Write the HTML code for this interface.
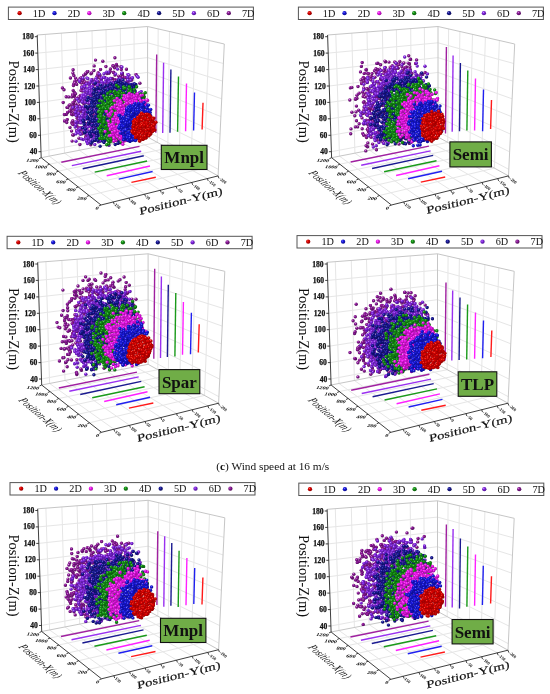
<!DOCTYPE html>
<html><head><meta charset="utf-8"><title>Figure</title>
<style>html,body{margin:0;padding:0;background:#fff}svg{display:block}text{font-family:'Liberation Serif', 'DejaVu Serif', serif;fill:#111}</style>
</head><body>
<svg width="550" height="694" viewBox="0 0 550 694">
<defs>
<radialGradient id="g0" cx="0.38" cy="0.34" r="0.7"><stop offset="0" stop-color="#ff5a40"/><stop offset="0.3" stop-color="#d80000"/><stop offset="1" stop-color="#8c0000"/></radialGradient>
<marker id="m0" markerWidth="4" markerHeight="4" refX="2" refY="2" markerUnits="userSpaceOnUse"><circle cx="2" cy="2" r="1.7" fill="url(#g0)"/></marker>
<radialGradient id="g1" cx="0.38" cy="0.34" r="0.7"><stop offset="0" stop-color="#7a7aff"/><stop offset="0.3" stop-color="#1818e0"/><stop offset="1" stop-color="#0a0a80"/></radialGradient>
<marker id="m1" markerWidth="4" markerHeight="4" refX="2" refY="2" markerUnits="userSpaceOnUse"><circle cx="2" cy="2" r="1.7" fill="url(#g1)"/></marker>
<radialGradient id="g2" cx="0.38" cy="0.34" r="0.7"><stop offset="0" stop-color="#ff8aff"/><stop offset="0.3" stop-color="#ee18ee"/><stop offset="1" stop-color="#900890"/></radialGradient>
<marker id="m2" markerWidth="4" markerHeight="4" refX="2" refY="2" markerUnits="userSpaceOnUse"><circle cx="2" cy="2" r="1.7" fill="url(#g2)"/></marker>
<radialGradient id="g3" cx="0.38" cy="0.34" r="0.7"><stop offset="0" stop-color="#6ad06a"/><stop offset="0.3" stop-color="#149414"/><stop offset="1" stop-color="#085008"/></radialGradient>
<marker id="m3" markerWidth="4" markerHeight="4" refX="2" refY="2" markerUnits="userSpaceOnUse"><circle cx="2" cy="2" r="1.7" fill="url(#g3)"/></marker>
<radialGradient id="g4" cx="0.38" cy="0.34" r="0.7"><stop offset="0" stop-color="#7070d0"/><stop offset="0.3" stop-color="#181896"/><stop offset="1" stop-color="#080850"/></radialGradient>
<marker id="m4" markerWidth="4" markerHeight="4" refX="2" refY="2" markerUnits="userSpaceOnUse"><circle cx="2" cy="2" r="1.7" fill="url(#g4)"/></marker>
<radialGradient id="g5" cx="0.38" cy="0.34" r="0.7"><stop offset="0" stop-color="#caa0ff"/><stop offset="0.3" stop-color="#8628e2"/><stop offset="1" stop-color="#460e88"/></radialGradient>
<marker id="m5" markerWidth="4" markerHeight="4" refX="2" refY="2" markerUnits="userSpaceOnUse"><circle cx="2" cy="2" r="1.7" fill="url(#g5)"/></marker>
<radialGradient id="g6" cx="0.38" cy="0.34" r="0.7"><stop offset="0" stop-color="#d890e2"/><stop offset="0.3" stop-color="#8c1a96"/><stop offset="1" stop-color="#4c0a56"/></radialGradient>
<marker id="m6" markerWidth="4" markerHeight="4" refX="2" refY="2" markerUnits="userSpaceOnUse"><circle cx="2" cy="2" r="1.7" fill="url(#g6)"/></marker>
</defs>
<rect width="550" height="694" fill="#fff"/>
<g transform="translate(0 0)">
<rect x="8.4" y="7.1" width="245" height="12.4" fill="#fff" stroke="#555" stroke-width="1"/>
<circle cx="19.6" cy="13.2" r="2.15" fill="url(#g0)"/>
<text x="32.8" y="16.7" font-size="10.2">1D</text>
<circle cx="54.5" cy="13.2" r="2.15" fill="url(#g1)"/>
<text x="67.7" y="16.7" font-size="10.2">2D</text>
<circle cx="89.3" cy="13.2" r="2.15" fill="url(#g2)"/>
<text x="102.5" y="16.7" font-size="10.2">3D</text>
<circle cx="124.2" cy="13.2" r="2.15" fill="url(#g3)"/>
<text x="137.4" y="16.7" font-size="10.2">4D</text>
<circle cx="159.1" cy="13.2" r="2.15" fill="url(#g4)"/>
<text x="172.3" y="16.7" font-size="10.2">5D</text>
<circle cx="193.9" cy="13.2" r="2.15" fill="url(#g5)"/>
<text x="207.1" y="16.7" font-size="10.2">6D</text>
<circle cx="228.8" cy="13.2" r="2.15" fill="url(#g6)"/>
<text x="242" y="16.7" font-size="10.2">7D</text>
</g>
<g transform="translate(0 0)">
<path d="M45.4 34.4L49.1 156.2M61.4 33.1L64.5 153.2M76.6 32L79.2 150.3M92 30.8L94 147.4M106 29.7L107.5 144.8M120.3 28.6L121.3 142.1M134 27.5L134.5 139.5M37.8 53.1L147.6 42.8M38.3 69.6L147.6 57.6M38.9 86L147.6 72.4M39.4 102.4L147.6 87.2M39.9 118.8L147.6 102M40.5 135.3L147.6 116.8M41 151.7L147.6 131.6M158.2 28.9L157.3 142.4M169.5 31.5L167.8 148.1M182.1 34.4L179.3 154.5M195 37.3L191.2 161M209 40.5L204 168.1M147.6 42.8L223.4 63.5M147.6 57.6L222.6 81.1M147.6 72.4L221.7 98.8M147.6 87.2L220.9 116.5M147.6 102L220.1 134.1M147.6 116.8L219.2 151.8M147.6 131.6L218.4 169.4M49.5 164.2L157.3 142.4M58.3 171.2L167.8 148.1M68.1 179L179.3 154.5M78.2 186.9L191.2 161M89 195.5L204 168.1M113.4 201.9L49.1 156.2M129.1 198L64.5 153.2M144.7 194.1L79.2 150.3M160.4 190.2L94 147.4M176.1 186.3L107.5 144.8M191.8 182.4L121.3 142.1M207.4 178.5L134.5 139.5" stroke="#e6e6e6" stroke-width="1" fill="none"/>
<path d="M37.2 35L147.6 26.5L224.3 44L218.1 175.9M147.6 26.5L147.6 137M41.2 157.7L147.6 137L218.1 175.9" stroke="#c6c6c6" stroke-width="1" fill="none"/>
<path d="M61.3 162.3L139.5 146.4" stroke="#a020a0" stroke-width="1.4"/>
<path d="M71.8 165.6L141.2 151.2" stroke="#9a30f0" stroke-width="1.4"/>
<path d="M82.7 168.8L143.8 155.7" stroke="#1a1a90" stroke-width="1.4"/>
<path d="M94.7 172.1L147.1 161" stroke="#1a9a1a" stroke-width="1.4"/>
<path d="M106.7 175.8L150 166" stroke="#ff20ff" stroke-width="1.4"/>
<path d="M118.7 179.1L152.6 171.5" stroke="#2020f0" stroke-width="1.4"/>
<path d="M131.4 182.4L155.8 177.3" stroke="#ff1a1a" stroke-width="1.4"/>
<path d="M156.7 54.5L155.8 132.7" stroke="#a020a0" stroke-width="1.4"/>
<path d="M163.6 62.7L162.7 133" stroke="#9a30f0" stroke-width="1.4"/>
<path d="M170.9 69.5L170 132.7" stroke="#1a1a90" stroke-width="1.4"/>
<path d="M178.5 76.4L177.6 131.8" stroke="#1a9a1a" stroke-width="1.4"/>
<path d="M186.5 83.6L185.6 131.3" stroke="#ff20ff" stroke-width="1.4"/>
<path d="M194.5 92.4L193.6 130.5" stroke="#2020f0" stroke-width="1.4"/>
<path d="M203 102.7L202.1 129.6" stroke="#ff1a1a" stroke-width="1.4"/>
<polyline points="67,107.4 113.7,72.1 74.6,109.4 110.2,71.4 98.5,81.7 76.8,125.9 114.5,79.5 74.8,81.5 72.5,114.7 85.8,123.8 81.5,89.6 79.8,106.4 78.4,98.1 73.7,83.9 126.4,69.2 81,90.6 67.5,112.4 92.1,79.8 77.2,118.2 85.8,92.1 91,95.3 71.5,114.3 79,112.4 73.8,75.6 114.6,67.8 66.2,96.8 114.6,81 94.2,65.9 90.9,73.7 72.9,73 89,120.8 71.8,122.8 72.3,124.1 93.7,85 64.5,121 139.9,83.3 81.8,86.7 128,81.5 73.4,135 64,89.8 121,77.2 74.4,114.3 75.9,83.4 99.1,85.1 114.9,75.1 63.2,102.5 80,78.6 68.7,96.9 117.1,66.1 83.7,75.2 75,83 67.3,119.6 126,82.3 89.2,84.6 82.3,133.7 84.3,83.1 76.1,110 70.4,78 85.6,74.1 80.3,82.2 72.4,122 86.1,134.7 127.3,79 81.5,127.5 100,75.5 66.3,114.4 90.9,96.7 83.3,79.4 98.2,72.8 106.7,86.9 69.2,105.3 72.7,134.9 122.4,73.3 107.1,73.5 80.5,95.4 84.6,113.8 71.2,111.5 66.7,122.5 99.1,77.2 72.8,120.8 83.7,103.4 72.6,106.9 93.4,83.4 105.9,66.6 97.7,74.4 112.3,78.6 94.7,114.9 96.9,77 79.9,144.5 119.6,77.8 87.1,72 114.9,57.7 112.8,65.8 120.8,66.7 85.4,102.8 74.9,100.5 111.8,78.7 85.8,73.2 76.6,130.6 64.4,114.5 113.5,72.6 75.6,78.3 95.5,128 116.4,64.4 78.6,120.9 83.8,131.4 85.1,111.2 109,73.3 113.9,95.4 122.6,75.7 118.7,76.2 74.5,96.5 74.5,92.4 72.1,141.1 106.5,83.7 71.8,96.9 89.3,103.3 82.1,111.7 95.5,60.1 94.2,80.3 90.8,144.8 93.9,70.5 74.5,94.7 76.9,116.1 117.8,79.6 73.2,90.4 81.5,100.5 85.6,137 73.6,106.7 67.8,107.4 76,98.5 79,138.2 130.2,78.1 78.7,105 73.1,105.1 75.8,103.9 82.5,91 101.2,79.4 69.5,111 80.3,110.6 83.7,88.8 79.1,100.7 77.3,122.9 71.6,131.1 86.8,135.6 81.5,83.1 121.3,69.6 73.3,103.2 91.6,72.9 136,74.5 78.8,97 82.3,107.2 131.8,80 71.4,108.8 92,108.1 82.6,80.6 70,127.4 78.5,127.6 73.3,124.6 77.1,113 76.6,84.4 121.8,74.2 74.1,111.7 84.5,101 83.5,112.6 82.5,110.4 72.8,94.3 76.8,80.1 75.5,93.7 100.5,69.5 97.2,76.6 89.1,131.2 87.8,71.5 73.1,102.5 72.8,95.5 113.4,66 73.1,69.7 70.2,104.9 102.8,61.3 87.6,123.7 88.2,103 88.6,82.1 107.8,116.4 79.3,107.1 122.9,77.3 81,130.1 73.4,85.6 104.9,77.4 74.7,123.5 125.3,77.5 93.2,115 62.4,87.9 99.7,77.7 81.1,77.8 95.5,88.6 85.2,82 110.4,68.9" fill="none" stroke="none" marker-start="url(#m6)" marker-mid="url(#m6)" marker-end="url(#m6)"/>
<polyline points="108.3,84.5 86.7,125.3 115.6,74 91.7,80.4 98.8,84.7 108.4,72.3 118.5,79.5 117.2,81.3 103.2,77.3 99.5,141.4 88.9,137.4 107.5,133.7 82.9,100 83.7,107.7 137.1,76.2 111.9,82.3 93,136.6 81.9,102.1 104.1,77.5 111.9,83.2 97,89.1 84.3,106.8 80.1,122.8 88.5,93.9 95.1,135.2 104,73.7 105.6,111.8 77.3,99.1 76.9,131.3 83.8,130.3 76.8,110.1 86.4,133.9 77.1,109.6 86.5,84 117.4,69.1 84.3,116.9 109.8,85.2 99.5,74.1 93.7,82.9 97.9,84.1 91.8,94.4 92.1,86.6 85.4,130.2 79.7,132.8 86.8,77.9 97.9,129.3 83.2,116.8 81.8,118.2 89.9,100.9 87.1,92.7 85.7,98.4 76.1,115.6 91.7,91.3 99.9,124.6 104.2,132.8 96.1,78.3 96.9,85.2 94,133.7 89.3,86.8 91.8,92.1 89.4,89.3 108.9,145.2 86.6,141.2 90.2,88.8 93.1,123.8 113.8,89.2 76.9,122.6 75.2,127 88.4,139 99.6,90.7 98.6,91.5 95.9,80.2 89.2,141.8 98,84.9 83.3,139.6 94.8,144.6 75.9,121.7 110.9,93.1 88.4,136.3 129.3,84 88,138.2 79.1,118.7 84.1,110.2 95.6,90.6 96.9,131.6 82.5,95 90.5,135.2 90.7,99.7 81.9,87.5 86.5,128.5 79.7,116 101.4,81.8 132.4,77.8 84.2,126.8 78.1,131.7 86.8,108.3 89.4,108.8 108.5,82 83,113.9 128.2,84.8 132.2,84.1 84.4,85.6 83.4,111.9 82.3,101.8 97.4,80.9 107.7,88.9 97.4,85.4 89.8,83.5 139.5,92.8 89.8,91.4 79.9,80.1 101.8,85.9 84.2,90.8 79.5,81.4 110.5,78.4 82,96.4 93.2,138.1 141.2,91.6 103.7,116.4 82.9,78.1 92.7,127 114.1,83.4 93.8,92.5 106.3,80.3 121.9,67 91.5,128 102.3,98.9 86.3,88.1 127.9,74.5 90.7,97.9 80.1,107 78.8,129.6 84.2,94.2 102.8,83.4 85.1,125.4 125.2,82.7 125.8,83.3 94.6,125.1 75.4,112.2 138.1,77.3 93.7,111.7 92.5,117.9 91.8,93.6 135,90.8 80.1,128.7 80.9,120 87.3,90.9 87.1,130.5 91.2,101.3 104.5,89.2 108.8,85.6 110.7,78.8 81.4,118.8 84.7,86.7 107.1,86.4 85.7,95.3 90.8,140 86.8,110.3 81.4,138.9 102.2,82.2 102.7,88.7 98.1,94.6 89.7,125.2 90.8,123.6 92.9,109.9 93.4,106.8 90.2,82.2 121.8,80 86.6,113.9 127.4,89.5 106,79.7 83.1,108.9 135.3,92.5 108,79.7 72.9,107.5 89.3,118.3 75.8,133.9 109.7,94.9 84.7,98.4 90.5,131.3 100.4,140.5 98.4,141.9 81.2,98.6 127.6,77.4 96.8,114.4 120.1,78.6 78.5,132.8 130.4,80.2 78.6,113.4 88.2,126.9 87.5,143.6 101.6,78.3 109.3,81.8 92.4,86.7 109.1,86.7 86.4,115.8 91,126.8 129,75.1 103.8,86.4 101.1,115.5 100.2,96 87.7,102.7 99.9,137.4 75.7,125.1 99.4,97.8 91.9,87.7 87.1,113.3 85.3,102.4 92.3,134.5 76.8,106.6 96.4,109.3 92.7,133.7 95.1,103.4 80.5,134.3 90.7,115.3 116,90.2 80.5,109.3 102,84.4 86.4,138.4 87.8,78.6 90,102.9 90.3,93.4 136.7,100 87.5,134 106.4,72.1 82.1,115.8 105.2,82.2 83.9,96.8 85.6,119.3 97.3,113.6 99.1,92.4 76,141.2 96.8,118.6 114.1,90.4 106.9,78.5 94.7,110.6 121.7,73.1 81.2,122.8 93.4,121.7 78.8,101.5 87,116.4 127.9,80.1 95,82.4 91.3,79.9" fill="none" stroke="none" marker-start="url(#m5)" marker-mid="url(#m5)" marker-end="url(#m5)"/>
<polyline points="88.1,97.5 95.3,116.4 91.2,143.2 96.2,95.2 94.8,124.1 115.1,95.6 92.7,100.6 98,135.3 112.7,85.3 124.8,89.6 89.2,123.2 95,124 110.7,88.8 94.4,119.6 83.2,120.3 102.4,97.4 88.8,112.1 90.7,98.7 102.4,93.8 134.6,85.5 116.7,82.1 93.8,129 98,133.9 133.4,87.4 97.8,101.6 115.1,94.2 95.2,140.4 94.8,89.7 93.4,101.3 127.8,91.8 123.8,83.2 95.6,95.3 96.4,132.3 95.3,83.2 84,122.3 89.2,132.3 122.4,83.8 130.9,84.6 125.1,85.8 131.5,86.4 100.1,103.1 100.3,93.4 96.6,133.8 91.7,121 96.9,91.9 134.1,84 104.7,100.7 91.3,136.5 91.9,130.5 111.1,89.3 92.4,98.8 91.6,116.1 98.2,130.9 122.4,90.8 91.7,131.9 118.2,141.1 104.4,124.6 118.9,80.3 111.7,91.2 102.5,141 125.3,83.7 97.1,136.3 96.3,97.2 88.5,118.5 115.4,82.7 100.7,85.1 82.7,127.9 103.6,113.1 88.3,124 87.6,108.4 98.6,99.9 104,142.4 120.8,82.6 93.3,93.3 104.7,90.6 100.9,104.8 132.5,92.1 117.4,91.9 108.2,117.8 130.2,85.8 92.7,141.2 109.5,119 107.9,85.5 95.3,121.1 87.9,107.5 118.6,88.6 103.2,101 85.4,129.1 94.7,102.7 93.9,100.2 93.8,88.9 87.6,112.1 97.2,113.4 91.9,109.7 95.7,111.2 88.7,122 96,107.8 87.5,116.7 126.9,85.3 98.6,138.1 94,92.6 103.5,134.2 108,89 102.9,120.8 131.4,93.9 95.1,139.9 96.4,112.3 102.9,90 90.1,134.3 113.4,86.7 111.6,138.3 106.7,122.6 90,112.2 83.3,121 120.2,142.7 84.6,132.8 135.8,84.5 97.7,123.5 131.4,87.9 112.6,117.1 104.9,137.3 95,98.2 109.8,96.3 110.8,83.7 110,90.1 110.7,90.5 99.1,104.2 98.5,88.4 103.7,90.9 84.2,124.5 112.3,87.9 125.2,83.1 96.7,137.9 122.8,99.5 97.6,104.4 91.9,125.5 112.9,92.7 98.7,125.2 141.4,98.4 125.8,93.1 98.3,108.1 103.8,108.9 127.3,84.6 112.6,88.6 103.5,93.5 131.5,89.7 105.3,140.2 97.4,100.1 105.7,93.9 92.3,112.8 97.2,112.7 118.5,84 116.1,93.9 97.2,87.9 116.6,87.9 115.1,86.5 127.1,86.3 98.6,96.5 106.2,126.1 85.8,106.5 134.6,84 97.1,127.7 121.4,85.3 94.4,132.2 134.8,90.9 117.9,143.4 87.2,118.4 101.5,136.1 123.1,79.9 92.8,119.3 120.4,85.5 97.9,97.5 101.5,92.1 107.8,90.1 94.3,106.1 98.9,106.4 105.9,119.3 121.3,86.5 103.9,87.1 104.9,140 94,95.9 116.4,87 102.6,128.4 99.5,131.3 119.5,90 106,92.4 105,86 95.7,125.7 91,105.9 121.1,88.9 91.5,102.6 100.9,88.6 107.8,95.3 96.9,105.1 88.8,106.4 105,102 110.5,91.3 85.1,132.2 134.3,92.7 123.9,92.6 95.2,99.8 120.3,90.8 108.2,90.1 85.6,106.3 87.2,100.3 99.4,93.9 92.1,104.8 106.4,114.9 90.4,114 97.4,120.4 115.2,144.6 118.7,81.4 106.8,96.1 119.3,98.1 90.7,119.6 115.6,83 97.9,140.5 92.5,106.2 105.5,114.2 120.1,95.7 92.7,121.2 100.1,146.3 102.5,133.7" fill="none" stroke="none" marker-start="url(#m4)" marker-mid="url(#m4)" marker-end="url(#m4)"/>
<polyline points="118.5,86.9 108.5,116.3 143.7,98.5 101.3,121.6 99.8,138.4 101.3,107.6 101.3,113.8 110.3,111.7 106.7,144.7 115.6,102.1 114,110 119.6,91.1 102.6,124 122.1,96.4 100.5,127.6 121.7,101.7 108.8,103.7 114.6,91.3 103.8,130.2 100.8,121.2 102.7,111.8 99.6,100.8 106,135.8 103,102.5 107.6,101.4 101.3,118.5 108,135.8 102.6,126.4 123.7,93.3 110,133.3 98.8,121.6 108.2,93.1 112.4,102.8 144.1,96.9 108.2,99.2 113.4,99.2 115.9,95.8 105,127.3 101.9,138.8 114.4,103.9 102.5,131.9 106.1,127.4 107.6,139.8 110.4,98.9 108.6,144 102.3,101.1 109.9,102.3 112.5,110.2 113.4,141.1 115.7,124.5 107,128.4 129,86.8 98.5,116.6 123.4,87 117.2,139.3 121.8,93.1 123.9,102.9 130.8,89.7 112.1,136.1 110.3,141.7 110.8,122.7 116.1,106 128.5,91.6 114.3,98.4 100.1,127.2 98.7,128.5 99.8,105.6 106.8,123.6 134.3,89.6 110.2,138.8 108.8,131.9 102.8,122.5 124.9,105.8 107.8,110.7 112.6,111.3 101.3,111 98.8,116 139.4,99.8 97.9,106 114.9,93.4 107.1,113.6 107.6,123.4 103.3,138.4 100.9,125.4 109.2,99 110,117.4 110.5,91.6 143.8,96.3 106.3,132.2 123.9,88.5 102.2,109.4 145.3,92.8 111.2,130.8 117.5,100.2 118.7,135.3 120.4,91.1 122.3,97.9 101.7,105.1 100.7,117.3 101.6,135.2 135.3,94.2 116.5,85.3 104.6,138.3 100.5,120.9 99.4,116.8 104.9,130.8 118.5,95.7 103.7,95.8 129.9,91.7 107.8,107.6 108.2,128.5 109.8,97 116.5,136.9 108.6,141.3 129,89.6 100.9,108.8 111.1,117.5 140.8,94.1 104.5,103.8 107.2,113 117.6,92.6 102.2,111.6 99.9,119.6 108.5,103.2 122.6,103 107.5,122.7 100,108.8 113.4,105.5 110.4,106.4 134.8,92.8 125.3,88 112,104.1 107.9,132.7 104.3,118.8 100.8,114.3 111,110.2 111.2,101.6 140.1,100.4 120.9,99.5 98.9,105.8 104.7,105.8 109,128.8 111.4,107.4 107.1,97.1 102.7,108.4 129.4,86.9 109.1,121.1 105.2,107.5 109.8,120.2 100.6,131 100.9,132.9 109.9,128.3 104.1,121.6 105,104.7 107.5,93.8 136.6,86.8 142,96.2 108.6,106.5 106.3,126.3 104.6,116.9 107.1,130.7 104.1,122.5 108.9,108.5 101.2,116.6 114.1,112.6 98.4,112 116,111.6 106.6,131 112.7,114.6 106.1,131.1 100.3,131.9 105,98.5 114,91.8 143.4,94.1 111.2,139.4 118.9,93.5 107.1,110.6 141.1,94.6 105.8,108.9 101.9,136.8 106.1,104 108.2,136.9 111.8,96.4 130.9,91.6 144.8,107.5 111.5,130.6 121.1,142.1 111.4,123.6" fill="none" stroke="none" marker-start="url(#m3)" marker-mid="url(#m3)" marker-end="url(#m3)"/>
<polyline points="138,96.2 143.3,100.5 118.2,99.9 113.5,136.4 147.6,100.6 133.1,101.8 116.3,118.4 146.9,100 133.1,94.9 106.6,111.6 109,123.9 115.8,134.7 114.5,122.6 115.2,108.2 117.2,129.8 117.8,122.3 127,107.7 109.4,135.8 110.3,113.3 116,140.4 136.8,94.1 142.4,101.7 123.5,98.3 117.7,121.2 124.6,99.4 124.3,95.5 113.6,124.9 114.3,138.9 119.8,102.8 119.3,138.8 143.9,100.4 135.7,101.8 124.5,140.9 126.1,96.4 126.6,100 111.1,135.3 112.8,129.1 128.4,105.6 120.5,139.1 113.6,120.7 119.9,109.1 133.1,98 128.4,95.4 113.4,121.8 111.1,125.3 112.6,123.9 126.2,97.6 126.5,101 128,96.4 145,105.9 113.9,141.2 113.5,134.3 121.4,111.1 114.3,100.7 112.6,119.3 123.8,114.2 134.6,98.6 139.4,98.9 131.4,97.9 134.3,96.3 119.4,138.6 122.4,116.6 136.2,98.5 116.9,108.3 109.2,126 119.7,134.3 116.9,126.3 110.1,114.9 117.1,98.4 132.2,100.9 109,116.1 131.3,94.7 110.8,128.2 122.1,110 114.7,116.7 115.1,105.1 117,104.7 113.3,119.3 111.8,111.5 124.1,107.6 122.3,108.8 142.5,95.1 117.2,136.5 124.8,134.4 125.5,115.2 126.8,100.8 121.2,106.4 129.8,98.4 130.7,103.9 127.9,102.9 114.3,107.5 123.6,105.5 140.9,95.4 125.1,104 140.6,101.1 130.3,100.8 117.9,111.8 116.6,131.6 125.2,108.7 113.9,138.3 120.2,100.5 127.3,99.7 123,141.5 112.2,107.1 117.5,136.9 115.5,113.3 108,114.7 145.4,103.4 136.8,95.7 117.9,109.2 127.3,140.6 122.5,112.4 127.2,103.2 129.5,98.1 120.3,138 145.4,111.3 105.1,131.4 121.3,102.5 114.3,132.7 118.4,118.6 121.5,138.5 110.2,129.4 116.4,119.2 108.3,121.1 112.1,127.3 140.6,100.7 129.8,105.9 123.1,139 136.5,101.6 112.5,124.3 115.3,128.4 119.5,105.9 143.1,105.5 118,130.5 146.5,108.1 129.4,93.4 129.6,96.9 137.6,93.9 118.1,112.9 121.6,135.2 128.2,96.9 125,110.9 117.9,108.2 118.5,110.8 116.2,114.9 122.4,137.4 119.2,109.5 118,133.7 118.8,120 118.4,116.1 120.5,113.2 112.3,132.1 110.8,108.7 122.5,136.5 119.9,114.3 120.4,132.4 122.8,144.3 117.3,101.9 120.5,103.7 118.3,125.8 120.8,106.1 118.2,122.7 120.7,121.9 132.5,102.7 114.2,126.6 115.1,131.3" fill="none" stroke="none" marker-start="url(#m2)" marker-mid="url(#m2)" marker-end="url(#m2)"/>
<polyline points="139.2,104.7 126.6,109.9 126.2,135.1 126,139.2 147.9,109.4 138.6,103.4 130.3,105.7 134,140 120.5,118.4 132.1,117.6 121.7,117 124,132.3 131.8,137.2 141.6,104.1 135.4,138 126.4,112.3 126.9,113.4 119.5,115.3 130.4,116.9 140.9,106.3 130.5,120.8 127.4,132.7 131.4,107.8 123.7,135.6 125.6,138.4 126.9,108.2 143.9,106.8 130.3,125.8 128.2,135.5 121.1,123.8 129.3,120.7 127,110.5 132.8,107 122.2,133.4 128.9,129.1 134.2,106 119.1,128.3 133.6,115.6 122.9,124.7 124.6,135 131.6,116.2 130.6,123.1 124.2,136.6 150.2,112.6 138.8,107.8 127.6,113.3 135,118.2 141.2,106.5 131.6,110.3 137.6,138.6 129.9,141.4 128.4,107 130,116.7 127.8,115.6 135,103.4 131.8,136.2 136.4,116 144.1,102.5 128.4,132.3 126,128.8 144.1,112.3 128.4,136.3 142.8,105.7 128.6,107.9 146,107.6 142.8,107.2 130.1,109.6 121.1,129.6 137.3,105.8 133.9,109.5 141,108.8 123.5,118.8 130.9,131.3 150.6,115.4 139.1,111.4 130.8,128.8 123.1,122.1 129.1,140.2 131.7,135.3 147.7,105.3 138.3,138.2 130.5,126.7 134.7,108 124.6,118.8 143.5,110.2 127.5,128.4 127.5,137.2 146.9,107.6 138.2,114 132.5,126.6 146,112.1 135.3,113.8 118.9,115.6 123.1,127.8 126.6,126.5 121.4,121.1 120.4,133.1 130,128 127,109.2 124,120.9 119.7,125.8 150.7,109.4 128.5,126.3 148.6,105.1 121.7,127.7 135.5,140.6 127.7,140.2 125.7,114.3 142.4,105 129.3,122 131.8,140.3 131.2,114.8 124.1,130.2 130,136.1 123.7,134.6 130,111.6 127.7,125.5 136.5,105.8 136.7,117.1 125.9,137.4 126.6,119.7 131.3,128.8 142.1,109.9 137,114 129,116.1 133.6,135.4 137.8,108 148.5,112.6 133.6,114.5 136.3,112.9 127.3,121.7 127.8,118.1 126.6,125.8 134.3,112.8 136.2,110.3 126.4,138 129.4,111.9 142.3,105.7 127.1,137.6 133.3,114.1 123.3,132.8 133.3,112.7 130.6,133.9 135.8,107 126.9,120.3 129,118.4 146.5,111.4 138.1,110.1 129.3,110.6 129.7,137.9 127.6,124.9 132.1,139.9 132.6,120 125.6,124.4 124.9,130.5 119.1,127.5 122.4,125.7 123.6,139.7 130.4,122.8 124.2,117 133.4,111.8 128,123.5 123,131.6 133.5,119.1 126.1,130.2 147.7,111.1 129.8,122.4 125.7,122.9 133.4,136.9 134.1,136.8 123.6,126.4 128.8,113.7 124.2,137.5 133.7,105.1" fill="none" stroke="none" marker-start="url(#m1)" marker-mid="url(#m1)" marker-end="url(#m1)"/>
<polyline points="142.6,139.4 139.9,118.3 132,130.7 133.6,124.8 133,127.2 139.1,138.9 153.9,118.1 143.8,122.3 141.4,113.1 137.6,117.4 132.2,132 143.1,130.2 145.6,122.7 153.5,121.9 139,122.4 140,140.8 138.8,121.3 149.7,128.3 143.2,114.1 152.6,121 134.1,131.5 151.2,129.6 142.3,114.7 134.6,119.7 142.3,118.5 150.9,133 141.7,115.1 139.4,141 146.3,137.7 135.4,136.2 146.5,121.6 150.5,125 151.5,121.7 138.5,124.7 149.4,114.9 137.8,118.1 144.9,128.8 146.1,116.6 139.8,138.2 133.2,126.1 154.9,129.9 152,130.8 146.4,135.9 152.4,131.6 150.1,131.9 153.7,127.6 154.1,124.2 143.8,132.3 134.8,119.8 152.3,120.7 149.8,124 142.6,127.1 134.2,130.5 143.5,138.9 142.1,122.1 149.5,115.6 146.7,134.9 137.3,131.8 140.9,120 150.4,116.6 135.5,137.6 149.3,129.1 150.1,130.6 133.5,128.1 141.9,123.2 133.3,121.4 143.2,138.8 150.8,116.9 147.6,114.7 138.1,119.3 146.4,133.3 134,127.2 145.9,114.1 139.5,130.5 138.1,133.7 147.9,132.1 153.6,126.3 150.5,134.2 154.3,130.3 138.4,137.4 140.2,129.6 146.5,122.9 142.5,131.2 133.7,133.4 143.7,118 152.7,118.2 145.3,127 148.8,130.8 147.3,121.8 153.1,124.8 145.4,138 145.7,134.7 150.7,119.6 144.9,119.4 144.5,116.9 134.4,126.2 141.3,130.4 147.3,125.3 138.3,136.5 139.1,128.3 155.9,122.3 134.1,129.3 151.4,118.6 147.6,127.4 135.6,120.8 141.1,124.5 135.7,134.1 143.2,136.7 140.2,116.6 153,119.4 148.3,122.4 144.8,116 134.6,122.7 148.2,129 139.3,132.9 139.9,115.1 137.5,122.3 136.2,129.9 151.9,126.4 136.9,124.1 154,124.7 140.8,127.9 146.9,123.6 142.9,123.6 145.6,118.5 148.4,119.2 137.7,126 147.8,120 141.8,125.1 147.5,114.3 146.3,124.8 150.1,119.8 149.3,130.2 136,129.5 143.6,114.6 140.9,128.4 144.5,126.6 138.2,117.1 149,129.4 134.3,132.9 140.5,136.3 136.5,136.3 141.9,120.1 145,134.1 134.7,132.1 145,136.3 144.5,125.3 133.9,125.5 149,135.7 148.4,119.9 141,138.8 153.4,128.3 136.6,124 149.7,133.6 146.1,130.2 140.8,131.3 148,126.5 138.1,135.1 134.1,123.4 136.6,127.4 139.5,133 143.2,132.9 149.3,116.7 140.5,126.4 142.3,133.9 134.1,123.5 137.3,121.7" fill="none" stroke="none" marker-start="url(#m0)" marker-mid="url(#m0)" marker-end="url(#m0)"/>
<path d="M37.2 35L41.2 157.7L101 205L218.1 175.9M37.3 36.7l-2.5 0M37.8 53.1l-2.5 0M38.3 69.6l-2.5 0M38.9 86l-2.5 0M39.4 102.4l-2.5 0M39.9 118.8l-2.5 0M40.5 135.3l-2.5 0M41 151.7l-2.5 0M41.2 157.7l-2.2 1M49.5 164.2l-2.2 1M58.3 171.2l-2.2 1M68.1 179l-2.2 1M78.2 186.9l-2.2 1M89 195.5l-2.2 1M101 205l-2.2 1M113.4 201.9l0.8 2.4M129.1 198l0.8 2.4M144.7 194.1l0.8 2.4M160.4 190.2l0.8 2.4M176.1 186.3l0.8 2.4M191.8 182.4l0.8 2.4M207.4 178.5l0.8 2.4M218.1 175.9l0.8 2.4" stroke="#2a2a2a" stroke-width="0.9" fill="none"/>
<text x="33.7" y="39.3" font-size="7.6" font-weight="bold" text-anchor="end" stroke="#111" stroke-width="0.25">180</text>
<text x="34.2" y="55.7" font-size="7.6" font-weight="bold" text-anchor="end" stroke="#111" stroke-width="0.25">160</text>
<text x="34.7" y="72.2" font-size="7.6" font-weight="bold" text-anchor="end" stroke="#111" stroke-width="0.25">140</text>
<text x="35.3" y="88.6" font-size="7.6" font-weight="bold" text-anchor="end" stroke="#111" stroke-width="0.25">120</text>
<text x="35.8" y="105" font-size="7.6" font-weight="bold" text-anchor="end" stroke="#111" stroke-width="0.25">100</text>
<text x="36.3" y="121.4" font-size="7.6" font-weight="bold" text-anchor="end" stroke="#111" stroke-width="0.25">80</text>
<text x="36.9" y="137.9" font-size="7.6" font-weight="bold" text-anchor="end" stroke="#111" stroke-width="0.25">60</text>
<text x="37.4" y="154.3" font-size="7.6" font-weight="bold" text-anchor="end" stroke="#111" stroke-width="0.25">40</text>
<text transform="translate(38.2 162.3) rotate(4) skewX(-20) scale(1 0.72)" font-size="6.2" font-weight="bold" text-anchor="end">1200</text>
<text transform="translate(46.5 168.8) rotate(4) skewX(-20) scale(1 0.72)" font-size="6.2" font-weight="bold" text-anchor="end">1000</text>
<text transform="translate(55.3 175.8) rotate(4) skewX(-20) scale(1 0.72)" font-size="6.2" font-weight="bold" text-anchor="end">800</text>
<text transform="translate(65.1 183.6) rotate(4) skewX(-20) scale(1 0.72)" font-size="6.2" font-weight="bold" text-anchor="end">600</text>
<text transform="translate(75.2 191.5) rotate(4) skewX(-20) scale(1 0.72)" font-size="6.2" font-weight="bold" text-anchor="end">400</text>
<text transform="translate(86 200.1) rotate(4) skewX(-20) scale(1 0.72)" font-size="6.2" font-weight="bold" text-anchor="end">200</text>
<text transform="translate(98 209.6) rotate(4) skewX(-20) scale(1 0.72)" font-size="6.2" font-weight="bold" text-anchor="end">0</text>
<text transform="translate(114.2 205.3) rotate(38)" font-size="4.3" font-weight="bold">150</text>
<text transform="translate(129.9 201.4) rotate(38)" font-size="4.3" font-weight="bold">100</text>
<text transform="translate(145.5 197.5) rotate(38)" font-size="4.3" font-weight="bold">50</text>
<text transform="translate(161.2 193.6) rotate(38)" font-size="4.3" font-weight="bold">0</text>
<text transform="translate(176.9 189.7) rotate(38)" font-size="4.3" font-weight="bold">-50</text>
<text transform="translate(192.6 185.8) rotate(38)" font-size="4.3" font-weight="bold">-100</text>
<text transform="translate(208.2 181.9) rotate(38)" font-size="4.3" font-weight="bold">-150</text>
<text transform="translate(218.9 179.3) rotate(38)" font-size="4.3" font-weight="bold">-200</text>
<text transform="translate(8.8 60.6) rotate(90)" font-size="14.5">Position-Z(m)</text>
<text transform="translate(17.6 173.2) rotate(40) skewX(-24) scale(0.81 1)" font-size="10.8" font-style="italic">Position-X(m)</text>
<text transform="translate(139.8 215) rotate(-14) skewX(-8) scale(1.4 1)" font-size="10.6" stroke="#111" stroke-width="0.15">Position-Y(m)</text>
<rect x="161.3" y="145.3" width="45.7" height="24.2" fill="#70ad47" stroke="#111" stroke-width="1.1"/>
<text x="184.2" y="163.3" font-size="17" font-weight="bold" text-anchor="middle">Mnpl</text>
</g>
<g transform="translate(290 0)">
<rect x="8.4" y="7.1" width="245" height="12.4" fill="#fff" stroke="#555" stroke-width="1"/>
<circle cx="19.6" cy="13.2" r="2.15" fill="url(#g0)"/>
<text x="32.8" y="16.7" font-size="10.2">1D</text>
<circle cx="54.5" cy="13.2" r="2.15" fill="url(#g1)"/>
<text x="67.7" y="16.7" font-size="10.2">2D</text>
<circle cx="89.3" cy="13.2" r="2.15" fill="url(#g2)"/>
<text x="102.5" y="16.7" font-size="10.2">3D</text>
<circle cx="124.2" cy="13.2" r="2.15" fill="url(#g3)"/>
<text x="137.4" y="16.7" font-size="10.2">4D</text>
<circle cx="159.1" cy="13.2" r="2.15" fill="url(#g4)"/>
<text x="172.3" y="16.7" font-size="10.2">5D</text>
<circle cx="193.9" cy="13.2" r="2.15" fill="url(#g5)"/>
<text x="207.1" y="16.7" font-size="10.2">6D</text>
<circle cx="228.8" cy="13.2" r="2.15" fill="url(#g6)"/>
<text x="242" y="16.7" font-size="10.2">7D</text>
</g>
<g transform="translate(290.4 0)">
<path d="M45.4 34.4L49.1 156.2M61.4 33.1L64.5 153.2M76.6 32L79.2 150.3M92 30.8L94 147.4M106 29.7L107.5 144.8M120.3 28.6L121.3 142.1M134 27.5L134.5 139.5M37.8 53.1L147.6 42.8M38.3 69.6L147.6 57.6M38.9 86L147.6 72.4M39.4 102.4L147.6 87.2M39.9 118.8L147.6 102M40.5 135.3L147.6 116.8M41 151.7L147.6 131.6M158.2 28.9L157.3 142.4M169.5 31.5L167.8 148.1M182.1 34.4L179.3 154.5M195 37.3L191.2 161M209 40.5L204 168.1M147.6 42.8L223.4 63.5M147.6 57.6L222.6 81.1M147.6 72.4L221.7 98.8M147.6 87.2L220.9 116.5M147.6 102L220.1 134.1M147.6 116.8L219.2 151.8M147.6 131.6L218.4 169.4M49.5 164.2L157.3 142.4M58.3 171.2L167.8 148.1M68.1 179L179.3 154.5M78.2 186.9L191.2 161M89 195.5L204 168.1M113.4 201.9L49.1 156.2M129.1 198L64.5 153.2M144.7 194.1L79.2 150.3M160.4 190.2L94 147.4M176.1 186.3L107.5 144.8M191.8 182.4L121.3 142.1M207.4 178.5L134.5 139.5" stroke="#e6e6e6" stroke-width="1" fill="none"/>
<path d="M37.2 35L147.6 26.5L224.3 44L218.1 175.9M147.6 26.5L147.6 137M41.2 157.7L147.6 137L218.1 175.9" stroke="#c6c6c6" stroke-width="1" fill="none"/>
<path d="M60.3 162L138.5 146.1" stroke="#a020a0" stroke-width="1.4"/>
<path d="M70.8 165.3L140.2 150.9" stroke="#9a30f0" stroke-width="1.4"/>
<path d="M81.7 168.5L142.8 155.4" stroke="#1a1a90" stroke-width="1.4"/>
<path d="M93.7 171.8L146.1 160.7" stroke="#1a9a1a" stroke-width="1.4"/>
<path d="M105.7 175.5L149 165.7" stroke="#ff20ff" stroke-width="1.4"/>
<path d="M117.7 178.8L151.6 171.2" stroke="#2020f0" stroke-width="1.4"/>
<path d="M130.4 182.1L154.8 177" stroke="#ff1a1a" stroke-width="1.4"/>
<path d="M156 46.9L155.1 133.6" stroke="#a020a0" stroke-width="1.4"/>
<path d="M162.7 55.5L161.8 131.8" stroke="#9a30f0" stroke-width="1.4"/>
<path d="M170 63.1L169.1 131.3" stroke="#1a1a90" stroke-width="1.4"/>
<path d="M177.4 70.5L176.5 130.5" stroke="#1a9a1a" stroke-width="1.4"/>
<path d="M185.1 78.5L184.2 130.5" stroke="#ff20ff" stroke-width="1.4"/>
<path d="M193.1 89.5L192.2 131.3" stroke="#2020f0" stroke-width="1.4"/>
<path d="M201.1 100L200.2 129.1" stroke="#ff1a1a" stroke-width="1.4"/>
<polyline points="83.2,83.7 72.4,113.5 87.9,131.7 134.8,72.6 110.7,140 92,79.8 66.1,120.7 64.4,115.7 71.8,128.7 120.2,59.3 118.3,55.7 93.4,77.4 82.2,144.1 86.4,97.4 74.8,93.1 87.5,63.3 102,77.1 77.6,77 60,87.9 88.7,141.1 66.6,95.3 75.4,150.9 96.7,98.8 79.8,117.5 73.4,81.2 81.5,118.8 67.2,126.9 72.4,133.4 84.5,77.2 94,85 92.8,123.2 77.4,142.9 111.5,66.7 93.3,113.8 80.7,137.3 88.2,133.4 130.6,73.8 80.4,108.4 126.2,59.9 60.6,128.9 111.1,73.4 119,143.4 86.7,140 91.7,89.2 79.2,110.4 73.6,107.1 119.4,66.8 77.2,146.7 86.1,73.2 119.2,75.6 73.8,73.4 82.6,121.5 76.4,135.2 79.9,87 65.2,98.7 76.3,73 125.1,63.4 105.9,63.2 77.1,129.2 108.6,64.6 112.6,63.4 96.5,71 81.7,77 98.3,90.3 86.4,63.4 117.9,72.9 84.1,70.8 94.1,70.2 90.2,64.7 76.5,82.5 75.7,145.7 78.1,131.8 105,68.7 91.9,105.5 96,72.5 119,63.7 101.9,65.8 80,120.6 59.4,100 77.8,99.5 94.8,67.4 73.4,88 103.5,70.5 109.4,61.4 89.3,102.4 70.1,71.9 116,67 119.8,59.4 95.2,61.7 121.5,73.5 80.3,79.8 117.7,63.1 75.9,120.1 113.3,68.5 73.8,109.5 93.3,70.6 88.5,111.6 60.3,133.7 90.8,101.7 92.4,141.9 98.6,62.1 85.5,97.1 99.8,67.1 95.4,97.8 91,113.6 104.3,61.9 65.6,111.9 82.2,104.1 73.5,110.9 71,66.4 78.1,127.1 78,73.6 75.7,69.9 80.8,107.8 68.3,110.2 88.6,83.6 95.6,74.9 79.1,132.5 107.8,68.2 79.1,110.8 99.4,102.4 89.3,69.2 83.1,89.8 83.2,84.9 67.6,86.5 77.2,124.3 73.3,135.2 73.9,78.5 132.2,74.4 73.4,124.1 66,106.1 77.4,129.2 66.5,98.5 98,71.6 101.4,73.2 71.6,117.9 71.8,62.6 78.3,89.7 70.6,80 61.4,87.4 93.3,112.9 98.9,98.7 78.4,110 87.2,69.8 114.5,138.3 76.9,88.8 73.1,95 65,126.9 88.6,115.4 103.9,90.5 114.7,70.9 85.5,132.7 113,76 68.7,93.3 77,96.8 89.1,98.5 106.4,66.6 92.9,119.1 71.2,83.5 85.9,72 84,93.8 108.6,144 94.5,61.1 77.9,120.5 86,149.7 76.1,137.5 82.5,109.4 82.6,122.5 73.8,101.8 81.6,105.4 77.7,92.2 113.5,63 84,118.8 84.8,91.4 72.8,96.4 100.3,68.1 72.9,77.4 68.8,123.7 128.8,75.9 76.3,88.9 90.3,79.2 77.9,130.4 88.7,84.8 75.8,69.4 77.4,108.5 86.2,81.7 87.3,133.8 80.5,76.5 90.5,78.5 93.5,73.6 96,138.3 85.6,68.8 73,102.3 91.6,105.1 73.3,77.9 80.7,92.1 75.8,114.3 76.4,103.6 74.4,97 96,120.2 72,92.1 61.5,112.3 65,99.3 81.6,73.6 74.6,104.8 73.8,110.4 93.3,86.9 115.1,67.5 79.8,101.7 72.6,78.8 112.6,69.2 112.7,72.8 119.8,69.6 85,100.2" fill="none" stroke="none" marker-start="url(#m6)" marker-mid="url(#m6)" marker-end="url(#m6)"/>
<polyline points="88.4,120.3 84.5,92.1 116.8,76.3 79.5,125.1 94.5,121.1 85.7,110.7 108.2,138 93.3,143.4 114.8,74.1 90.8,140.1 110.4,132.6 85,95.3 132.3,80.6 133.1,81 97.7,143.4 77,115.5 83.7,100.4 100.1,74 85.6,114.6 73.9,112.2 79.8,133 78.2,111.4 90.8,91.9 92.9,81.8 118,70.1 91.1,95.9 90.9,77.5 98.2,70 78.9,100.9 101.4,77.8 78.8,98.5 81.3,132.9 112.6,81.4 126.8,75.6 70.3,115.5 84,133.2 93.8,123.8 111.8,75.1 130.9,83.4 82.9,147 78.2,135.8 83.5,102.3 91.8,78.2 81.6,85.5 86.1,88.6 102.5,71.2 80,106 73.4,84.3 106.5,67.9 74,120.7 77.6,98.1 77.9,122.1 97.6,119.9 97.2,77.8 84.8,136.2 134.6,66.3 85.2,127.6 97.8,90.3 70.5,112.3 114.1,75.3 98.9,71.4 97.9,76.3 94.2,105.6 97.9,82.3 90.7,88.5 131.6,74.1 92.2,78.7 98.1,92.2 128.4,76.9 96.1,80.1 114.8,143.3 102.8,74.5 126.1,63.1 78.3,102.3 102.9,66.7 105.6,63.3 87.4,81.5 85.6,99.8 87.8,125.8 94.2,77.8 85.9,105.8 120.2,71.2 90.8,83.1 77.7,112.5 90.1,126.8 79.9,131.3 84.8,126.9 111.8,78.6 103.2,73.7 81.4,113.9 110.9,71.3 115,72.1 84.5,106.7 83.7,138 107.9,73.7 104.8,71.2 85.4,115 119.3,77.3 81.6,103.3 124.2,77.5 92,122.2 85.9,145.7 77,77.8 95.7,140.8 84.8,93.2 126,75.2 118.4,89.1 104.6,76.3 87.7,93.3 130.4,77.2 83.2,90.1 97.7,85.8 91.4,85.6 125.7,74.2 81.8,97 76.1,109 82.5,81.6 84.7,140.6 79.2,103.7 75.1,123.5 79.5,95.4 106.6,82.1 87.4,75 89.5,132.1 92.7,128.9 124.7,71.7 88.9,89.8 109.8,76.3 109.2,75.7 83.7,90.5 100.5,78.5 92.3,93.4 101.2,82.1 85.9,94.4 99.4,75.1 115.7,76.3 97.1,74 81.2,134 76.5,80.6 74.4,106.8 82.3,99.1 120.4,89.5 90.5,70.6 107.6,89.5 90.8,87.6 121.3,77.7 93.1,121.9 112.7,142.5 84.3,84 103.2,74.7 79.7,113.6 88.5,72.6 82.6,123.5 99.3,79 77.6,78.6 78.3,100.2 93.2,91.1 96.7,141.7 120.3,142.5 89.4,87.4 93,109.6 111.4,77.7 92.3,127.5 97.7,142.1 95.4,74.6 118,81.5 115.8,69.9 81.7,86 95.8,83.8 101.9,69.8 75.7,109.4 88,86.2 80.5,134.2 104,95.1 107,88.4 101.5,103.4 98.1,92.8 87.4,89.3 83,129.6 118.3,70.5 111.4,84.8 137,73.9 99.3,138.3 87.5,94 79.9,130.2 79.7,128.1 81.3,125.2 84,87.6 93.6,83.5 86.5,134.4 121.4,138.4 77.3,93.5 121.4,89.9 94.3,67.8 118.4,83.5 86.3,137.9 80.5,86.6 92,131.1 83.9,107.3 77,82.2 81.4,129.7 89.5,102.8 111.6,64.8 85.5,109.3 83.1,78.1 80.5,122.3 93.3,139.6 94.4,133.7 106.4,76.9 103.5,75 105,72.4 73.1,123.3 98.5,73.3 80.4,90.8 93.7,81.3 109.7,72.1 81.1,126.1 116.6,76.9 87.4,94.2 83.7,96.4 95.9,126 87.7,90.6 125.6,78.1 100.2,79.6 86.9,105.5 76.9,105 114.3,57 102.3,68 87.1,123.1 97.6,123.1 96.5,88.2 113.3,83.8 84.4,118.4 90.4,74.5 86.3,99.5 85.1,132.5 102.6,124.2 108,79.3 90.2,86.3 121.7,90.9 119.2,85 79.3,113.5 108.9,79 126.8,66.1 85,117 90.9,136.2 78.5,94.8 99.8,84.1 88.5,142.5 73.3,89.8 104.5,128.1 100,119.4 94.6,79.7 82.6,91.6 94.1,104.7 83.8,127.7 94.1,101.3 98.4,137.2 84.2,124.1" fill="none" stroke="none" marker-start="url(#m5)" marker-mid="url(#m5)" marker-end="url(#m5)"/>
<polyline points="89.3,127.3 110.7,80.4 87.1,102.8 115.4,77.5 105.6,94.5 109.6,140.4 88.7,96.1 138.5,92.3 96.7,144.7 93.6,91.3 121.5,87.5 110.8,138.2 106.8,129.7 106.1,78.3 128.2,81.5 125.4,80.2 107,116.8 80.4,124.6 84.8,120.1 100.1,95.6 87.3,104.2 95.3,90.8 91.3,122.1 122.6,83.6 101.4,114.3 88.7,135.6 86.3,109.7 117.8,72.3 89.6,130 137.6,87.6 106.3,124.3 88,107.2 131.3,73 80.8,117.9 110.5,135 99.5,88.1 96.3,113.5 112.1,80.1 95.1,134.4 94,94.7 92.4,114.5 83.8,117.5 99.5,86.7 93.2,137 103,112.5 119,86.2 95.4,139.6 123.8,79.7 113.6,84.9 113.4,80.9 103.6,108.4 106.7,124 112.6,86.2 93.3,97.4 80.7,118.5 112.8,87.1 101.8,83.5 106.3,122.1 90.6,96.8 92,135.3 102.5,117.9 103.3,140.7 85.7,121.6 119.9,80.6 95.5,131.3 104.8,118 95.5,92.3 101.2,108.4 97.3,112.4 118.2,142 94.5,96.1 111.6,107.2 113.6,93.7 115.1,78.4 94.5,122 94.6,97.4 96.4,110.8 103.8,81.2 91.7,126.4 87.3,119.8 102.9,88.5 110.2,81 88.1,116.8 91.4,103.4 97.4,93.1 114.2,81.9 104.2,84.4 109.1,95.6 106.1,105.4 104.5,77.9 99.3,100.5 94.6,88.1 94.6,109.4 96,101.8 117.6,86.8 114.8,85.7 110.1,113.2 97.6,96.1 126.4,83.2 87,136.9 103.3,120.9 115.2,86.1 102.1,80.3 84.8,125.5 104.9,143.8 124.5,83.9 102.2,90.4 84.1,115.6 139,85.7 98.6,99.4 95.9,86.7 115.7,138.9 118,77.8 125.3,81.3 90.6,112 99.9,93 120.3,75.2 104.7,108.1 88.1,109 113.3,143.5 111.1,137.3 110.9,91 90.4,104.7 95,99.6 83.9,124.3 128.7,78.7 99.8,137.3 96.7,123.4 115.1,143.9 96.4,117.5 115.8,82.8 122.7,80.7 93.7,111.3 110.4,81.8 93.1,117.1 103.4,114.4 104.1,115.4 101.3,90.8 96,115 91.2,132.9 110.2,84.9 135.9,84.5 97.6,114.7 86.8,125.1 100.5,121.2 89.4,137.2 93.9,119.3 90.6,93.3 101.1,105.4 105.8,100.9 91.4,134.3 98.8,86 109.5,85.3 96.2,136.8 88,127.9 129.6,79.6 114.1,83.5 118.7,87 115,87.9 106.1,120.1 107.8,118.5 94.3,126.9 94.3,132.4 103.5,87.4 94.1,103.2 103.9,79.7 106.6,78.7 91.3,133.2 98.9,118.4 85.5,107.2 102.1,84.5 100.4,93.5 110.6,87.4 120.2,91.8 106.6,91.4 104.5,120.3 105.3,88.7 105.3,100 126.6,83.8 87.4,114.7 96.8,128.1 91,116.1 120.1,88.3 95.7,88.3 94.7,135.6 99.2,133.1 106.8,138 95.4,108.1 136.2,77.1 103.5,114.1 120.4,82.8 116.7,80.5 95.9,80.4 104.5,121.2 90.2,139.5 89.6,112.5 136.2,86.2 88.7,129.7 100.1,98.4 104.1,131.5 93.6,128.9 95.1,118.6 122.8,92.3 100.6,94 95.3,104.1 91.9,115.4 89.3,96.5 84.3,111.2 97.2,105.6 121.1,81.2 113,137 108.7,83.4 102.1,87 105,121.3 88.9,113.2 97.2,94.7 99.6,84.8 93.3,128.6 89.1,106.4 87.3,113.8 92.8,110.5 133.7,91.9 93.7,92.5 104.8,90.4 98.7,106.8 87.7,121.2 93.4,96 94.3,110.4 101.8,130.1 91.5,100.1 91,117.1 115,82.3 130.8,88.4 107,84 109.9,110.7 96,91.4 110,93.1 83.1,112.8 136.9,90.1 83.4,113.2 117,73.2 88.7,109.4 129,86.9 108.1,91.9 100.7,98.7" fill="none" stroke="none" marker-start="url(#m4)" marker-mid="url(#m4)" marker-end="url(#m4)"/>
<polyline points="113.9,88.7 106.9,92.8 93.8,131.4 105.9,98.7 118.8,140.2 114.7,98.1 97.4,110.6 111.2,90 116.6,96.8 129.2,81.2 97.1,109.8 106.6,93.9 97.8,133.5 111.4,102 103.5,134.5 123.6,96.9 134.9,88.7 117,89.8 106.3,111.7 105.7,96.5 103.7,126.1 102.3,132.8 101.2,91.9 95.9,132.7 111.8,136 107.5,133.2 126.2,87.8 140.4,92.7 107.4,110.2 104.1,133.8 110.9,105.7 110,112.5 96.9,129.1 109.5,99.6 112.8,134.2 99.7,113.6 110.9,109.6 109.2,135.7 129.8,91.4 101.8,139 128.5,85.7 117.7,96 113.8,97 107.3,112.7 113.9,100.2 110.5,131.2 112,142.4 116.8,101.6 101.8,100.2 100,104.1 109,109 96.3,124 139.6,89.5 100,111.5 135.6,87.6 126.8,89.9 101,111.3 127,92.4 117,111.8 108.1,132.2 100.8,99.1 100.3,130.3 103.3,111.1 121.2,87.1 134.8,92.7 131.3,82.6 103.2,101.9 112.1,134.9 115,93.9 133.4,87.4 103.9,139.7 133.5,89 99.1,110.1 112,89.3 112,93.9 145.1,93.6 128.5,83.8 100.5,126.9 104.5,86.9 117.3,91.7 99.3,120.4 101.1,141.9 123.5,86.3 102.4,125.6 124.6,90.1 102.1,94.8 125,96.6 128,78.3 117.9,105.2 124.1,86.9 112.2,105.5 103.8,103.3 125.7,84.5 102.5,121.9 100.4,135.7 122.7,84.5 138,83.9 109.2,126.9 107.9,105 142.5,99.9 110.5,97 101.9,131 110.7,94.8 114,92 103.1,97.1 133,85.3 119.8,93.1 95.8,105.9 125.8,94.4 130.6,81.2 101.9,127.3 108.8,87.5 106,85.7 108,139.9 107.7,97.9 98.8,127.9 104.2,96 125,90.9 98.3,140.3 106.5,141.8 96.8,123.9 99,124.6 99.4,122.4 113,97 97.5,102.2 107.6,120.4 120.2,98.4 106.3,120.6 119.7,137.6 118.3,84.1 99.2,111 105.2,128.2 130.1,92.2 111.2,95 125.1,88.1 122.8,94.7 100.6,99.2 103.8,123.2 98,119.7 138.5,96.5 120.9,95.4 122,98.4 96.8,136.7 105.4,128.4 122,92.9 113.9,113.8 107,95.1 104.5,136.4 106.3,135.9 110.2,103.9 106.6,127.2 101.8,117 106.3,91.7 109.4,107.8 105.8,114.2 108.3,86.8 124.1,102.2 105.6,109.1 108.3,101.7 98.6,108.5 124.5,95.6 125.4,85.9 117.1,99.4 115.9,89.9 125.5,89.9 113,109.5 96.6,128.5 128.4,84.1 107.4,123.8 106.5,138.2 133.7,95.6 102.4,103.2 99.4,115.8 103.3,136.5 117.4,99.4 101.5,125.9 129.7,89.5 118,85.2 107.6,103.3 123.9,94 103.6,103.1 109.8,121.4 122.9,107.3 111.2,102.9 98.2,103.3 100.6,105.2 125.2,91.7 103.8,130.7 99.5,104.7 109.9,89 98.2,110 113,105.5 111.6,100 103.9,98.3 117.4,101.4 108.1,115.8 127.3,99.2 107.5,94.8 132.1,88.9 99.6,135.8 100.1,134.3 108.8,125.9 133.8,90.2 116.4,91 103.7,106.4 125.3,94.1 144.3,90 93.9,138 131,93.3 98.5,130.8 134.1,96.8 107.3,107.2 112.4,96.9 106.6,102.8 135.3,85.9" fill="none" stroke="none" marker-start="url(#m3)" marker-mid="url(#m3)" marker-end="url(#m3)"/>
<polyline points="132.1,97.5 113.4,127.7 113.8,115.5 116.2,110.1 114.6,130 113.9,118.8 132.1,100.3 115.9,135.2 121.7,141.7 141.7,94.2 109.3,129.4 112.3,113.9 113.2,111.2 119.5,113.7 137,91.9 116,108.3 128.7,94.8 118.8,112.6 146.2,99.4 108.6,134.8 107,131.6 119.9,97.1 116.7,113.3 116.6,114.3 135.6,91.8 120.6,95.9 116.8,133.9 126.8,93.1 118.9,140 116.4,135.1 133.6,102 116.3,103.3 120.6,115.2 111.3,125.5 112,118 118.1,137.1 125.1,99.1 118.3,119.2 138.4,98.2 118.1,99.9 123.9,92.8 121.5,108.7 116.1,115 114.2,125.5 110.6,112.8 112.1,128.1 107.3,124.4 118.4,136.2 135.9,91.2 126.7,140.5 119,134.7 136,92.7 122.2,105.8 115.1,111.7 117.1,107.6 114.5,132.7 116,137.5 131.3,113.5 116.5,122.6 118.5,98.5 120.8,101.1 133.2,103 130.6,98.4 116.6,109.1 143.8,100 111.8,123.2 117,105.5 129.4,98.8 119.1,106.6 129.7,88.9 136.6,96.6 120.5,108.7 121.7,111.4 110.8,120.6 118.4,117 112.6,110.5 112.2,122.3 110.2,137 126.4,105.4 134.4,97.2 108.4,118.1 121.6,113.1 121.5,118.8 147.1,98.5 114,122.6 137.3,92.9 125.7,97.5 123.5,103.5 123.4,138.3 128.7,103 112.1,104.3 140.2,95 119.7,109.6 131.9,94.9 131.1,102.2 145.8,92.6 132.2,103.2 114.1,102.6 138.6,93.5 115.3,128.9 116.3,114.3 119.8,134.9 115.4,125.4 118,124.4 114.3,105.8 127.3,106.2 117.7,109.2 116.2,104 140,98.2 134.3,100 127.4,103.6 117,94.6 109,123.6 109.3,124.2 144.4,100.8 118.7,106.3 113.1,120.6 117,120 129,95.6 112.1,132 112.1,135.3 141.5,100.9 116.4,104.9 114.4,131.1 111,111 142.6,104.2 137.8,94.7 117,127.4 123.9,109.3 120.2,133.9 119.9,128.4 111.9,118.2 107.6,128.1 107.7,121.6 123.3,100.5 118.2,102.1 114.3,106.3 123.9,105.3 108.7,117.5 118.8,131.4 108.7,131.4 109.6,118.6 139,98.9 124.8,110.9 117.4,131.1 119.8,111.4 132.4,90.2 109.2,131.4 114.9,119.5 132.6,104.5 129.5,100.2 116.8,135.5 110.9,115.3 136.3,98 109.1,118.4 127.4,106.8 120.9,102.7 116.1,130.5 118.1,116.1 116.6,128.6 126.8,93.3 126.7,100.5 115.5,117.5 127.9,96.5 132.7,93.7 119.4,125.7 135.9,100.3 146.6,100.2 120.3,104.5" fill="none" stroke="none" marker-start="url(#m2)" marker-mid="url(#m2)" marker-end="url(#m2)"/>
<polyline points="124.1,138.1 137.1,141.5 129.3,120.3 120.9,124.4 127.2,107.3 121.5,132.9 128.3,107.4 143.5,108.9 121.5,126.8 144.5,106.3 121.6,127.6 131.6,108.6 151.4,131 125.8,107.2 125.5,107.5 123.2,133.1 141.2,103 121.7,123.4 129.6,117.1 126.5,108.6 131.6,105.6 122.2,123 128.1,116.4 135.2,105.8 127.6,136 130.8,121.8 118,122.9 120.9,129.9 129.6,135.7 123.6,121.5 123.7,111.6 123.2,131.1 132,122.3 129.7,145 129.7,138.7 128.1,122.5 129.8,114.7 132.5,138.2 120.6,111.9 122.2,130.4 130.1,130.8 138.1,101.6 122.5,114 128.3,129.3 136.1,106.3 132.6,140.4 122.3,124.7 139.9,104.8 122.8,120 140.7,107.1 133.4,107.9 123.7,134.1 120.6,120.5 133.7,140.2 119,121.3 139.8,103.8 130.9,109.5 141.2,108 128.3,141.7 128.9,120.5 122.8,135 126.8,127.8 129.7,115.1 127.4,145.3 130.5,103 129.7,124.5 135,102.9 143.8,111.6 130.2,132.7 126.3,113.5 132.1,105.2 132.3,139.9 123.9,139.3 128.6,131.4 119.3,132.3 131.2,125.3 139.9,109 144.4,102.2 124.9,122.4 122.3,117 119.2,116.5 130.1,110.6 133.7,108.3 146.2,106.6 145.8,104.9 125.6,111 147.6,112.3 127.1,122.2 131,105.1 122.4,112.4 142.1,107.5 133.8,109.5 125.2,113.5 126.4,138 149.1,110.7 122.6,129 137.9,106.4 138.9,102.4 138.9,111.8 134.7,110.6 122.1,123.7 126.8,127.4 123.7,140.2 145.5,104.9 149.8,112.3 128,126.3 128.9,113 118.7,124.2 125.3,124 122.9,145.8 149.6,106 143.5,108.3 127.4,130.7 129.4,106.6 124.6,124.2 119.9,116.4 129.8,116.3 127.8,124 124.7,130 123.6,119.7 136.5,140.2 148.8,108.9 141.2,101.5 122,135.9 130.3,141.8 135.2,108.8 121.4,136.1 127.4,139.9 144.7,108 134,106.4 122.8,125.1 130.4,128.1 138.1,107.4 131.6,140.1 125.6,135.3 129.1,104.3 121.8,127.7 135.8,111.6 124.8,136.7 126.8,135.8 122,116.7 123.9,104.2 129.9,103.5 137.7,103.8 147.8,110.4 126,115.4 124.7,125.5 125.2,120.9 132.5,110.4 124.1,129.8 128.2,120 133.8,113.1 130.9,116.8 141.1,111.8 128.4,110 127.7,135.3 146.6,109.9 124.9,127.2 124.3,115.3 125.5,136 132.5,112.9 142.6,106.7 129,112.5 134.5,107.6 137.6,108.2 131.5,131.9 127.6,116.3 134.1,137.8 136.3,114.3 125.8,132.1 128.5,108.6 138.1,109.8 132.9,115.7 132,120 126.4,119.2 125.8,117.2 128.3,133" fill="none" stroke="none" marker-start="url(#m1)" marker-mid="url(#m1)" marker-end="url(#m1)"/>
<polyline points="151.6,114.1 135.5,139.1 141.3,111.4 137,137.7 152.3,116.3 134.1,136.2 148.2,111.3 150,120.3 152.6,126.1 137.9,120.7 145.2,138.1 151.7,119.3 152.7,123.2 132.1,132.7 146.5,138.2 148.9,114.3 145.4,113.2 146.8,134.7 135.2,121.3 137.9,137.3 147.4,114.5 153.3,121.4 148.5,130.7 138.8,120.3 145.9,123.7 146.1,127.4 152.4,118.7 150.6,117.3 149,116.8 148.2,114.7 138,138.2 152.5,122.4 152,122 147.6,119.8 132.9,121.6 147.7,118.3 134.6,131.6 147.4,127.4 150.9,131.9 140.3,135.9 131.6,128.4 141.3,131.5 152.5,121.8 149.5,114.8 146,132.2 133.6,128.1 147.9,129.9 142.2,133.5 134.7,115.4 143.3,139.2 152.6,119.2 132.3,135.5 138,123.4 148.3,135 135.5,118.4 132.2,118.8 143.4,138.3 146.9,115.3 142.1,122.3 152.5,124.7 150.9,129.4 132.1,130 149.5,132.9 148.4,116.7 151.6,128.6 151.6,127.7 146.6,129.6 150.3,132.1 144.1,125.3 135.5,119.6 135,121 149.7,115.8 147.2,122.4 143.8,114.2 134.9,136.5 133.3,126.1 144.2,128.4 132.3,122.8 142.4,114.6 145,120.1 143.5,117.4 145,128.6 139.4,130 147.8,116 136.8,114.7 141.2,139.5 139.2,120.6 144.3,122.6 153,128.5 134.4,119.6 137.6,125.3 134,130.1 133.7,121.2 147.4,117.7 136.7,118.3 145.6,132.8 142.8,118.9 141.3,141.2 139.3,139.7 143.9,124.9 147.8,124.4 132.7,129.2 142.1,137.1 134,120.6 137.7,131.5 141.7,128.6 143.1,135.4 142.8,124.3 146.5,133.5 136.7,123.8 146.3,116 144.3,113.3 147.3,128.7 148.2,129.2 142.4,131.9 147.8,135 136.2,132.9 131,125.9 133.8,122.5 132.4,127.6 134.4,135.9 147.9,125.8 143.7,122.5 137,128.9 141.7,125.8 141.5,135.8 151.3,116.3 136.5,116.3 144,120.5 137.8,129 141,115.7 141.2,114.6 143.2,119.6 147.6,135.4 141.4,120.8 139.9,132.7 136.8,125.3 150.1,126.5 138.1,133.5 137.8,138.9 144.3,137.3 134.4,115.7 146.2,137.6 138.6,114.3 139.4,134.2 135.1,123 134.6,130.2 149.3,121.1 133.5,123.3 143.7,133.6 145.9,129.3 135.5,115.6 138.3,134.6 139.9,127 145.7,120.8 139,119.7 147.4,118.1 143.7,130.8 139.2,123.7 147.5,135.8 139,117.2 134.6,126.6 135.7,123.6 150,133.4 133.4,134.2 149.5,123.1 137.8,127.9 149.6,128.6 140.8,117.3 141.1,119.6 136.8,135.5 139,138.1 141.1,124.3 144.7,116.8" fill="none" stroke="none" marker-start="url(#m0)" marker-mid="url(#m0)" marker-end="url(#m0)"/>
<path d="M37.2 35L41.2 157.7L101 205L218.1 175.9M37.3 36.7l-2.5 0M37.8 53.1l-2.5 0M38.3 69.6l-2.5 0M38.9 86l-2.5 0M39.4 102.4l-2.5 0M39.9 118.8l-2.5 0M40.5 135.3l-2.5 0M41 151.7l-2.5 0M41.2 157.7l-2.2 1M49.5 164.2l-2.2 1M58.3 171.2l-2.2 1M68.1 179l-2.2 1M78.2 186.9l-2.2 1M89 195.5l-2.2 1M101 205l-2.2 1M113.4 201.9l0.8 2.4M129.1 198l0.8 2.4M144.7 194.1l0.8 2.4M160.4 190.2l0.8 2.4M176.1 186.3l0.8 2.4M191.8 182.4l0.8 2.4M207.4 178.5l0.8 2.4M218.1 175.9l0.8 2.4" stroke="#2a2a2a" stroke-width="0.9" fill="none"/>
<text x="33.7" y="39.3" font-size="7.6" font-weight="bold" text-anchor="end" stroke="#111" stroke-width="0.25">180</text>
<text x="34.2" y="55.7" font-size="7.6" font-weight="bold" text-anchor="end" stroke="#111" stroke-width="0.25">160</text>
<text x="34.7" y="72.2" font-size="7.6" font-weight="bold" text-anchor="end" stroke="#111" stroke-width="0.25">140</text>
<text x="35.3" y="88.6" font-size="7.6" font-weight="bold" text-anchor="end" stroke="#111" stroke-width="0.25">120</text>
<text x="35.8" y="105" font-size="7.6" font-weight="bold" text-anchor="end" stroke="#111" stroke-width="0.25">100</text>
<text x="36.3" y="121.4" font-size="7.6" font-weight="bold" text-anchor="end" stroke="#111" stroke-width="0.25">80</text>
<text x="36.9" y="137.9" font-size="7.6" font-weight="bold" text-anchor="end" stroke="#111" stroke-width="0.25">60</text>
<text x="37.4" y="154.3" font-size="7.6" font-weight="bold" text-anchor="end" stroke="#111" stroke-width="0.25">40</text>
<text transform="translate(38.2 162.3) rotate(4) skewX(-20) scale(1 0.72)" font-size="6.2" font-weight="bold" text-anchor="end">1200</text>
<text transform="translate(46.5 168.8) rotate(4) skewX(-20) scale(1 0.72)" font-size="6.2" font-weight="bold" text-anchor="end">1000</text>
<text transform="translate(55.3 175.8) rotate(4) skewX(-20) scale(1 0.72)" font-size="6.2" font-weight="bold" text-anchor="end">800</text>
<text transform="translate(65.1 183.6) rotate(4) skewX(-20) scale(1 0.72)" font-size="6.2" font-weight="bold" text-anchor="end">600</text>
<text transform="translate(75.2 191.5) rotate(4) skewX(-20) scale(1 0.72)" font-size="6.2" font-weight="bold" text-anchor="end">400</text>
<text transform="translate(86 200.1) rotate(4) skewX(-20) scale(1 0.72)" font-size="6.2" font-weight="bold" text-anchor="end">200</text>
<text transform="translate(98 209.6) rotate(4) skewX(-20) scale(1 0.72)" font-size="6.2" font-weight="bold" text-anchor="end">0</text>
<text transform="translate(114.2 205.3) rotate(38)" font-size="4.3" font-weight="bold">150</text>
<text transform="translate(129.9 201.4) rotate(38)" font-size="4.3" font-weight="bold">100</text>
<text transform="translate(145.5 197.5) rotate(38)" font-size="4.3" font-weight="bold">50</text>
<text transform="translate(161.2 193.6) rotate(38)" font-size="4.3" font-weight="bold">0</text>
<text transform="translate(176.9 189.7) rotate(38)" font-size="4.3" font-weight="bold">-50</text>
<text transform="translate(192.6 185.8) rotate(38)" font-size="4.3" font-weight="bold">-100</text>
<text transform="translate(208.2 181.9) rotate(38)" font-size="4.3" font-weight="bold">-150</text>
<text transform="translate(218.9 179.3) rotate(38)" font-size="4.3" font-weight="bold">-200</text>
<text transform="translate(8.8 60.6) rotate(90)" font-size="14.5">Position-Z(m)</text>
<text transform="translate(17.6 173.2) rotate(40) skewX(-24) scale(0.81 1)" font-size="10.8" font-style="italic">Position-X(m)</text>
<text transform="translate(136.3 214.1) rotate(-14) skewX(-8) scale(1.4 1)" font-size="10.6" stroke="#111" stroke-width="0.15">Position-Y(m)</text>
<rect x="159.5" y="141.9" width="41.5" height="25" fill="#70ad47" stroke="#111" stroke-width="1.1"/>
<text x="180.2" y="160.3" font-size="17" font-weight="bold" text-anchor="middle">Semi</text>
</g>
<g transform="translate(-1.3 229.2)">
<rect x="8.4" y="7.1" width="245" height="12.4" fill="#fff" stroke="#555" stroke-width="1"/>
<circle cx="19.6" cy="13.2" r="2.15" fill="url(#g0)"/>
<text x="32.8" y="16.7" font-size="10.2">1D</text>
<circle cx="54.5" cy="13.2" r="2.15" fill="url(#g1)"/>
<text x="67.7" y="16.7" font-size="10.2">2D</text>
<circle cx="89.3" cy="13.2" r="2.15" fill="url(#g2)"/>
<text x="102.5" y="16.7" font-size="10.2">3D</text>
<circle cx="124.2" cy="13.2" r="2.15" fill="url(#g3)"/>
<text x="137.4" y="16.7" font-size="10.2">4D</text>
<circle cx="159.1" cy="13.2" r="2.15" fill="url(#g4)"/>
<text x="172.3" y="16.7" font-size="10.2">5D</text>
<circle cx="193.9" cy="13.2" r="2.15" fill="url(#g5)"/>
<text x="207.1" y="16.7" font-size="10.2">6D</text>
<circle cx="228.8" cy="13.2" r="2.15" fill="url(#g6)"/>
<text x="242" y="16.7" font-size="10.2">7D</text>
</g>
<g transform="translate(0.5 227.3)">
<path d="M45.4 34.4L49.1 156.2M61.4 33.1L64.5 153.2M76.6 32L79.2 150.3M92 30.8L94 147.4M106 29.7L107.5 144.8M120.3 28.6L121.3 142.1M134 27.5L134.5 139.5M37.8 53.1L147.6 42.8M38.3 69.6L147.6 57.6M38.9 86L147.6 72.4M39.4 102.4L147.6 87.2M39.9 118.8L147.6 102M40.5 135.3L147.6 116.8M41 151.7L147.6 131.6M158.2 28.9L157.3 142.4M169.5 31.5L167.8 148.1M182.1 34.4L179.3 154.5M195 37.3L191.2 161M209 40.5L204 168.1M147.6 42.8L223.4 63.5M147.6 57.6L222.6 81.1M147.6 72.4L221.7 98.8M147.6 87.2L220.9 116.5M147.6 102L220.1 134.1M147.6 116.8L219.2 151.8M147.6 131.6L218.4 169.4M49.5 164.2L157.3 142.4M58.3 171.2L167.8 148.1M68.1 179L179.3 154.5M78.2 186.9L191.2 161M89 195.5L204 168.1M113.4 201.9L49.1 156.2M129.1 198L64.5 153.2M144.7 194.1L79.2 150.3M160.4 190.2L94 147.4M176.1 186.3L107.5 144.8M191.8 182.4L121.3 142.1M207.4 178.5L134.5 139.5" stroke="#e6e6e6" stroke-width="1" fill="none"/>
<path d="M37.2 35L147.6 26.5L224.3 44L218.1 175.9M147.6 26.5L147.6 137M41.2 157.7L147.6 137L218.1 175.9" stroke="#c6c6c6" stroke-width="1" fill="none"/>
<path d="M58.3 160.7L136.5 144.8" stroke="#a020a0" stroke-width="1.4"/>
<path d="M68.8 164L138.2 149.6" stroke="#9a30f0" stroke-width="1.4"/>
<path d="M79.7 167.2L140.8 154.1" stroke="#1a1a90" stroke-width="1.4"/>
<path d="M91.7 170.5L144.1 159.4" stroke="#1a9a1a" stroke-width="1.4"/>
<path d="M103.7 174.2L147 164.4" stroke="#ff20ff" stroke-width="1.4"/>
<path d="M115.7 177.5L149.6 169.9" stroke="#2020f0" stroke-width="1.4"/>
<path d="M128.4 180.8L152.8 175.7" stroke="#ff1a1a" stroke-width="1.4"/>
<path d="M154.2 41.5L153.3 131.5" stroke="#a020a0" stroke-width="1.4"/>
<path d="M160.9 49.2L160 130.6" stroke="#9a30f0" stroke-width="1.4"/>
<path d="M167.8 57.5L166.9 129.7" stroke="#1a1a90" stroke-width="1.4"/>
<path d="M175.3 65.7L174.4 129.3" stroke="#1a9a1a" stroke-width="1.4"/>
<path d="M182.9 74.8L182 127.5" stroke="#ff20ff" stroke-width="1.4"/>
<path d="M190.9 85.5L190 127" stroke="#2020f0" stroke-width="1.4"/>
<path d="M198.7 97L197.8 125.2" stroke="#ff1a1a" stroke-width="1.4"/>
<polyline points="105.3,47.2 77.6,107.7 75.2,65.2 67.1,120.9 108.1,66.3 90.6,56.8 90.6,62.9 75.6,63 79.8,89.3 135.5,71.9 83.5,86 95.3,65.4 75.2,79.7 91.1,68.5 77.5,116.4 69.5,123.7 113.5,59.9 65.1,135.3 75.9,145.1 63.1,143.8 103.6,140.9 65.7,134.6 67.1,80.4 131.8,81.8 62.3,130.4 68.3,113.2 84,86.7 85.9,61 74.4,87.4 87.5,53.1 67.5,97.6 57.7,99.8 66.6,90.6 56.5,95.3 99.8,59.6 120.7,66.7 124.1,73.8 84.4,74.9 94.2,52.1 72,106.1 64.9,95.8 102.6,55.6 120.6,73.4 80.9,142.9 81.4,69.6 104.8,53.2 88,118.6 68.2,92.2 112.5,55 125.7,55.2 119.6,64.7 85.5,77 85.1,49.6 88.3,60.8 97.8,67.2 66.9,77 64.6,98 88.7,52 64.3,114.1 125.1,59.5 86.5,99.3 66.7,139.4 85.3,70.2 91.5,56.8 80.4,141.6 112.1,56.9 76.3,68.8 117.1,63.6 75.5,67.6 79.9,66.2 126.6,66.2 71.7,92.2 102.5,65.2 73.1,104 128.3,75.9 105.5,76.8 65.9,116.1 81.8,132.1 105.9,58.7 73.8,64.1 70.9,109.5 76.4,88.8 79.3,77.7 69.2,102.9 72.8,107.8 74.1,67.4 72.9,94 128.8,57.9 82.5,116.6 104.7,49.3 62.4,62.8 79.5,70.1 83.1,94.1 89.4,62.7 61.8,114.5 75.3,115.7 63.4,130.3 74.7,79.2 84.7,112.9 74.4,70.9 62.6,83.3 68.4,122.2 65.4,109.6 74.5,91 69.6,124.6 71.3,71.3 106.7,59.9 68.8,103 80,113.7 76.3,147.3 89.2,57.1 80.7,73.2 85.8,63.4 88.4,64.7 113.3,68.5 91.4,72.4 118.4,78.5 80.6,123.8 91.5,89.9 72.2,117.7 65.9,114 117.6,68.8 117.6,67.7 119.5,52.4 67,127.1 77.8,100.8 77.5,58.7 76.6,78.2 109.8,58.7 70.2,92.6 102.6,70.7 110.2,50.4 82.5,53.1 68.6,127.2 93.2,64.7 64,93.2 118.4,64.5 79.4,121 96.9,66.7 100.5,45.7 97.7,62.7 76.4,132.4 108.6,62.5 95.1,53.1 60.6,121.1 71.4,113.4 69.2,113.9 74.5,91.5 123.6,49.7 96.2,59.7 76.3,146.2 67.5,132.5 83.1,124.5 69.5,119.1 70.8,73.3 85,135.5 81.7,83.4 82.6,61.6 89.5,74.3 64.4,90.3 89.1,67.8 63,109.1 79.1,63.2 69.8,124.8 101.8,62.2 71.7,96.2 66.8,88.4 109.1,66.9 110.6,65.2 96.7,66.6 81.5,65.2 117.7,53.8 64.8,101.4 76.8,104.1 106.1,71 66.2,99.6 58.9,133.7 107.7,52.6 82.6,75.8 63.6,121.7 97.8,73.8 85.3,80.6 84.3,85.3 74.8,104.5 64.3,121.5 77.2,108.9 71,132.7 127.3,65.1 112.4,59.2 59.3,100.5 61.1,87.9 131.4,71.8 125.1,69.7 90.6,60.1 88.3,124.8 88.7,83.3 124.7,62.1 88.5,57.8 133.3,78 67.6,104 74.5,110.8 68.9,74.7 101.5,64.4 67.2,83.5" fill="none" stroke="none" marker-start="url(#m6)" marker-mid="url(#m6)" marker-end="url(#m6)"/>
<polyline points="96.9,64.1 81.7,71.3 91.8,75.2 74.4,122.1 88,74.1 86.6,106.1 118.6,66.8 88.1,77.2 74.3,124.2 99.2,77.7 126,71 98.9,115 129.5,64.2 105.7,62.1 99.1,136.6 83.9,121.5 85.6,121 83.1,135.4 100.1,63 81,127.8 120.3,71.4 78.9,106.4 93.2,142.1 109.8,62.1 80.4,86.7 78.1,128 74.9,108.6 81.6,88.8 126.2,86.5 71,120 84.8,90.6 91.9,64.9 83.5,71 80.8,80.5 127.5,76.1 75.1,95.2 88.1,89.3 99.1,116.9 114.9,64.4 102.3,75.7 92.8,119.7 81.1,98.7 72.5,109.1 98.5,95.3 101.4,89.7 112.3,65.3 82.9,83.1 84.8,83.3 92.1,132.1 87.9,62.1 87.7,134.5 84.9,98.4 96.9,136.3 131.6,75.3 131.8,81.2 129.1,86.9 104,60 114.1,78.4 85,80.2 79.2,127.5 133.4,80.8 81,123.2 77.7,110.5 91.2,135.5 86.9,140.5 81.7,121.3 76.7,139.9 122.7,68.8 94.1,86.8 77.3,101.5 84.6,133.6 73.3,100.4 82.8,93.7 95,104.4 98,70.1 82.8,101.8 92.2,137.7 83.3,139.2 101.2,79.5 77.2,135.7 76.1,126.2 86.7,75.8 104,68.5 129.5,77.6 78.6,83.7 93.1,96.3 84.3,138.4 90.6,96.1 80.2,81.1 81.8,78.1 76.1,87.5 113.2,71.4 99.5,68.7 85.4,112.7 108.7,76.9 90.3,95.4 127.1,84.5 78.2,92 88.5,125.2 90.3,134.9 124.6,82.8 75.1,90.9 114,69.5 85,138 82.7,73.4 124.9,65 76.8,113.3 85.3,113.3 106.8,68.7 80.7,91.3 121.7,69.9 95.6,78 78.5,90.8 132,80.6 81.1,90.1 79.1,108.5 77.6,94.9 115.9,73.5 95.7,63.5 78.3,98.3 82.3,97.9 85.2,103.7 74.3,98 120.9,78.5 81.4,134 76.8,96.7 92.8,62.7 82,109.2 74,109 103.4,106 109.7,77.5 91.3,83.3 97.6,110 119.2,75.4 94.2,72 76.6,123.5 93.6,79.1 101,91.1 78.2,75.2 88.6,92.1 74.1,136.5 75.6,94.7 108,71.6 94.3,70.7 85,132.1 73.6,107.3 119.3,80.1 87.5,121.1 93.9,76.1 101.9,75.8 90.2,95.1 120.2,69.5 79.8,132 88.3,132.1 80.2,127.1 94.7,74 77.6,118.3 100.6,70.5 82.5,133.3 84.4,118.5 85.8,72.5 109.7,66.7 75.6,135.6 104.3,76.4 90.5,71.1 99.1,74.4 117.9,72 88.4,104.4 105.4,61 79.3,122.1 95.8,115 99.5,88.4 93.4,93.9 100.2,69.4 118.5,66.4 78,112.2 90.9,76 82,99.7 92.6,126.8 94.8,133.6 83.4,120.5 76.1,94.5 86.5,82.8 77.8,122.3 124.1,67.1 98.3,87.3 99.3,65.5 76.3,103.3 88.4,110.3 115.7,74.3 77.8,97.5 104.1,70.1 100.4,130.8 71,120.7 84.6,79.9 89.7,80.5 76.5,101.4 102.2,115.8 85.3,146.9 132.5,84.4 108.8,80 77.1,117.4 90.9,102.4 83.3,93.5 112,74.4 75.1,83.3 85.1,106.4 125.6,74.6 120.2,81 91.2,141.9 100.1,129.6 84,133.3 119.4,75 81.1,84.6 85.4,97.7 85.5,92.8 112.3,71.3 75.9,101.4 123.9,71.5 96.7,79.2 90.7,94.4 80.1,117.4 79.5,110.5 123.8,67 129,72 81,118.1 97.1,76.3 82.1,117.1 86.3,83.8 84.9,79.3 76.5,126.3 92.3,86.2 97.6,93.2 96.2,80.1 126.4,80.1 75,101.7 78.7,113.6 80.8,95.7 94.8,84.4 115.5,136.9 88.1,70.3 125.5,85.6 102.7,87.9 93.8,109.1 79.8,104.3 98.3,64.7 82.4,106.8 73.7,102.6 76.5,100.1 86,87.6 94.5,128.8 120.2,76 102.3,67.8 115.8,66.1 86.4,118.2 123.2,67.9 85.4,136.8 78.5,119.9 89.2,78.8 100.5,61.6 80.3,102.3 92.4,89.9 83.7,84.5 89.4,86.7 128.3,78.3 92.7,70 80.5,94.4 90.6,71.8 108.5,68 90.4,122.6 105.6,63.5 77.9,125.4 94.5,121.6 73.7,106.2 92.7,132 91.1,93.1 86.7,85.1 73.1,98.4 94.9,98.1 91.2,75.8 92,68.4 99.1,80.5 88.6,99.7 100.6,66.5" fill="none" stroke="none" marker-start="url(#m5)" marker-mid="url(#m5)" marker-end="url(#m5)"/>
<polyline points="105.7,138.3 95.7,80 108.1,81.8 92.7,123.1 90.9,86.5 95.9,87.3 100,91.5 135.1,88.2 94.5,81.9 94.4,83.1 101.6,81.4 90.8,109.4 101.9,107.6 92.7,97.7 94.6,89.7 90.6,123.4 91.8,116.5 101.7,105.9 90.1,86.3 86.7,102.4 88.4,127.1 91,98.8 92.6,128.8 83.5,108.1 123.4,80.8 122.7,84 101.4,107.1 93.5,130.4 85.1,77.6 108.3,139.1 95.5,138 91.7,102.3 90.7,91.6 93.5,91.4 132,78.7 116,77 88,101.3 106.7,80.4 116.5,78.6 97.2,99.8 90.2,131.4 95.9,106.1 84.4,132.9 84.7,117.5 92.4,78.5 84.4,90.9 86.1,124.4 131.7,76.4 103.7,115.8 112.6,70.1 87,108.2 83.1,97.3 98.8,82.2 83.2,104.4 96.3,83.6 119.6,69.3 99.1,106.6 88.9,113.4 89.4,90.4 101.5,86.9 82.3,129.1 81.8,104.3 99.1,132 123.8,72.2 91.1,142.4 100.1,73.6 93.8,137.7 92.2,104.8 94.4,101.2 102.3,91.3 88.7,125.5 99.8,84.6 92.8,83.3 107.9,89.3 92,122.6 85.6,99.9 90.5,120.4 95.4,95.7 108.2,73.4 98.3,125.5 98.1,99.1 104.8,114.9 101.5,71.1 90.2,110.7 90.3,106.8 99.9,92.6 86.3,93.1 122,77.4 99.9,96.9 117.4,80.9 89.2,93.8 95.5,135.7 88.9,96.6 88.1,129 100,111.7 111.9,76.8 87.3,107.8 88.5,107 127.7,81.4 106,115.3 95.3,89 125.4,79.1 108.8,90.5 86.8,130.3 86,142 104.3,79.7 87.6,86.8 94.1,119.5 97.2,133.1 97.5,113.1 98.4,129.5 84.5,114.4 110.4,71.3 99.4,74.9 98.7,111.6 107.1,71.2 124.7,76.5 97.8,104.9 87.3,122 92,136.9 98.1,110.7 90.8,128.2 90.4,105.4 81.2,106.3 111.3,74.5 107.2,107.8 119.1,86.5 102,78.2 113.5,76.1 94.1,93.2 113.7,79.6 115.4,75.3 83.7,124.4 93.4,130.9 96.3,92.5 120.5,82 87.4,88.7 110.6,82.2 87.3,114 102.9,104 92.6,131.7 88,95.1 102.4,91.7 113,137 85.2,100.9 118.8,69.9 86.2,120.1 126.5,78.7 90,117.7 101.6,128.2 103.8,82.6 93,81 115.2,67.1 116.3,87.1 114.5,70.3 86.8,110.2 90.3,120.2 107.9,109.4 86.5,112.1 87.8,115.3 85.7,125.1 93.4,147.5 125.8,73 114.8,85.6 87.7,100.3 99,117.8 86.1,116.3 100.5,76.3 105.6,77.5 101,109 93.6,120.8 90.9,113.5 90.1,131.3 97.6,86.4 107.9,116.2 89.7,126 109.2,75 104.6,93.4 94.8,103.2 96.4,124.4 96.2,107.5 101.6,123.3 83.8,110.1 114.5,66.1 104.2,114.1 100.1,126.8 116.8,84.7 95.7,139.9 89.7,99.9 108.6,75.3 80.1,96.1 109.9,68.1 84.7,100.9 93,93.4 129.1,85.1 90.7,81.4 127.6,78.4 117.2,72.6 101.9,80.8 105.4,106.3 86.3,141.5 118.2,69.7 86.8,125.1 101.1,105.1 93.9,113.9 109.6,136.1 107.5,114.5 93.8,120.9 122,75.3 95.7,111.1 121.5,65.5 108.8,74.6 131.1,85.9 101,84.2 90.5,101 118.3,82.8 86.8,125.6 90.4,129.5 104.1,90 84,107.6 93.8,79.7 108.5,74.5 98.1,89.9 93.1,85.5 99.5,103 93.4,139.8 95.8,73.5 103.1,84.7 131,88.3 116.9,75.3 87.1,129.2 103.1,125.1 109.4,68.8 134,86.6 85.9,96.7 98.1,107.6 100.1,76.6 111.5,70 101.7,112.3 88.1,117.1 97.6,101.8 109.7,90.9 100.4,85.2 96.4,123.5 80.1,106.1 102.8,86.2 134.3,91.5" fill="none" stroke="none" marker-start="url(#m4)" marker-mid="url(#m4)" marker-end="url(#m4)"/>
<polyline points="114.2,88.7 96.8,97.5 114.3,142.6 139.8,94.3 97.8,127.6 93,110.4 105.7,129.3 108.2,111.1 98.1,126.5 100.9,134 104.8,131.9 102.4,119 99.5,125.9 106,132 104.7,88.4 104.5,82.9 134.4,84.9 100.1,86.7 100.7,117.7 107,111.5 134.4,80.3 111.7,91.5 104.6,97.8 116.2,81 111.4,94.5 101.1,118.2 115.4,84.3 112.7,125.2 91.3,100.6 102.8,109.3 110.6,89 113.3,92.4 100.8,94.8 104.8,117.9 122.4,77.8 102.9,109.9 114.5,134.3 96.7,128.2 100.8,124.7 96.6,129.7 104.4,94 102.4,97.1 111.6,88.6 96.7,94.7 95.3,113.4 90.8,115.2 122.4,85.4 108.2,86.5 104.2,101.4 96,129.2 94.1,117.4 111,105 109.7,133 101.4,102 123.4,80.2 107.2,87.6 98.2,135 102.6,95.3 95.5,118.3 105.9,107.8 99.4,122.1 99.4,100.1 91.2,126.3 102.2,128 97.7,118.9 111.7,92.6 96,101.7 98.3,91.9 94.9,113.5 109.6,92.7 137.6,84.8 96.6,121 102.8,121.3 98.8,130.9 94.7,125.4 99.2,112.9 109.4,129.7 109.1,142.5 92.9,106.3 130.8,90.6 107.2,118.7 104.9,135 100.1,98.7 95.2,124.4 119.9,96.7 103.7,103.4 94.9,115.9 109.1,135.1 111.4,96.7 115.1,90.8 101.5,126.5 106.6,129.7 107,92.9 108.6,103 129.2,95.2 104.7,139.9 113.1,81.2 120.7,82.5 103.8,103.1 126.6,83.4 107.1,80.9 96,103.9 104.5,122.2 102.7,135.2 99.5,120.3 135,79.4 100.9,114.3 114.3,95.5 107.4,105.1 106.7,83.6 103.5,88.1 102.8,131.6 95.2,108.5 102.1,98.4 100.1,96 112,123.7 115.2,95.3 112.5,83.3 97,131.7 97.1,116.8 106.4,136.8 105,112.4 103.1,129.9 106,82.2 95.9,103.4 120.1,88.1 103.5,94.6 112.1,135 102.3,99.1 110,135.4 105.3,105 137.5,92.2 106.4,90.8 110.7,77.8 103.1,120.4 105.9,85.5 130.6,81.1 98,106.6 112.4,79.7 109.9,97.2 105,101.7 107.4,86.2 109,99.7 96,96.7 101,96 95.4,141.6 104.4,81.2 100.1,123.9 122.2,83 113.2,121.3 113.4,124 113,98.5 113.2,82.4 107.5,87 115.1,111 117.1,88.1 110.8,85.6 102.5,101.8 106.6,96 111.2,121 106.1,90.7 105.8,119 101,103.5 103.6,137.7 122.1,78.6 107.5,132.2 99.2,101.8 119.3,84.7 120.2,88.6 128.6,81.4 106.3,97.1 100.1,118.1 104.6,126.3 107.9,94.8 93.1,137.4 111.5,82.3 100.5,105.7 109,83.9 111,113.4 117.5,94 103,133.2 103.6,111.8 113.8,92.9 134,84.1 91.9,99 126.8,77.9 105.2,114.6 111.8,131.1 117.6,102.6 111.8,88.5 132.1,74.1 135.3,96.5 121.3,79.4 100.7,95.9" fill="none" stroke="none" marker-start="url(#m3)" marker-mid="url(#m3)" marker-end="url(#m3)"/>
<polyline points="109,117.4 125.5,84.3 112,106.9 119,135.3 139.3,88.5 139.2,98.3 105.5,98.8 125,137.5 124.5,103.1 110.5,115.9 134.6,93.8 120.9,93.7 109.9,124 115.4,108.4 107.7,125.2 121.2,96.5 105.9,109.2 109.5,113.3 133.5,91 135,90.2 107.7,97.2 109.2,127.6 137,97.3 111.5,127.2 118.2,97.8 121.4,94.6 111.6,92.9 110.5,103.7 129.4,98.5 144.8,103.9 108.6,121.4 111.5,100 114.3,107.2 137.8,96.5 124.5,86.2 120.4,85.3 108.3,128.4 111.2,140.7 103.1,120.1 111.8,95.1 102.4,112.2 115.4,107.2 129.1,94.8 138.8,93.8 121.2,135.8 134.8,95.2 124,97.8 117.5,138.4 107.6,121.2 105.9,113.9 116.4,109.6 120.5,99 105.6,121.4 128.4,88.8 118.7,94.3 114,101.6 109.4,111.4 107.1,113 114,131.2 120.7,99 112.2,109.1 108.2,120.2 109,104.8 116.7,107.3 116,105.4 138.2,93 116,96.9 106.7,135 112.6,101.7 112.8,136.8 125.3,97.5 104.7,118.6 122.9,99.9 122.9,96 116.4,99.8 144.4,109.4 115,92.5 110.9,110.1 126,90.8 123.5,88.9 128.5,90.4 114.8,100.1 111.1,108.3 125.6,88 115,139.3 133.1,90.2 116.4,110.2 112.7,86 113,115.6 132,91.5 120.9,100.4 109.4,99.4 119.2,102.6 112.7,120.6 129.2,88.9 116.6,113.3 115.2,132.8 130.3,86.2 117.1,106.9 114.6,131.6 136.9,86.6 136.1,87.3 126.2,101.5 111,128.7 113.7,99.2 126.2,83.6 111.5,101.4 106,121.6 113.6,111.9 108.2,114.1 123.1,92.3 133.7,95.7 109.9,109.3 119.2,104.2 126.2,97.7 104.9,123.4 116.2,90 114,115.4 126.5,97.2 122.9,86.3 114.1,114.5 122,101.3 114.2,94.9 125.3,88.8 106.6,122.4 124.8,93 115,123.4 106.2,100.5 116.8,104.8 142.5,95.1 127.5,93.3 109.2,97.2 110.6,130.6 112.3,103.7 122.6,92.1 128.8,91 117.5,124.5 105.3,127 110.4,110.5 107.3,124.2 107.1,121.3 105,118.7 112.2,117.9 133.5,99.6 128.4,93.8 122.3,91.9 130.2,84.3 115.2,103.7 114.9,116.8 107.4,101.4 109.8,102 125.3,101 133.3,94 140.6,91.1 110.4,120.5 119,109.3 142,100.7 111.3,112.1 111.4,117.6 108.3,119 131.6,95.2 131.2,96.9 107.7,125.8 107.4,112.3 119.3,111 119.9,134.9 110.7,101 112.9,132.2 113.2,119.8 125.9,95.4 130.1,92.7 118.8,91.9 117.2,114.9 110.9,102.3 110,129.2 110.2,110.8 108.6,113.6 141.8,101.7 138.8,89.4 117.7,106.3 119.3,89.6 112.9,128.1 109.4,108 127.5,98.9 113.9,103.7 130.6,97.8 129.3,89.7 116.5,103.4 135.7,99.6 121.7,89.6 109,118.9 130.4,98.7 131.7,138.5 114.4,112.3" fill="none" stroke="none" marker-start="url(#m2)" marker-mid="url(#m2)" marker-end="url(#m2)"/>
<polyline points="118.8,109.6 120.4,113.1 117.6,113 120.4,104.6 116.7,132.9 139.4,99.7 137.6,136.2 117.9,132.9 114.2,125.2 146.8,105 130.4,136 126.8,136.2 123.2,101.8 127.6,134.8 120.1,118.5 123.6,135.3 128.6,119.6 130.2,99.7 118.5,124.8 122.4,132.9 124.2,104.6 130.2,102.5 124.5,132.5 123.3,104 125.6,131 128.1,99.3 119.7,120.5 120,134.6 116.8,130.9 125.7,134.9 118.7,118.9 129.7,106.9 121.6,132.8 126.2,118.2 114.9,118.9 123.3,113.4 133.8,98.6 118.4,119 118.5,116.1 124.8,120.9 136.8,98.9 131.9,135.4 142,105.8 122.6,137.2 133.4,106.8 135.3,105.6 122.5,137.9 120.5,113.7 137,94.7 120.1,133 122.2,111.8 128.2,101.4 127,133.5 133.2,110.9 117.8,128 120.4,135 137,107.1 137.7,102.2 119.8,127.6 117.5,120.1 140.4,96.3 127.7,132.8 136,137.1 121.7,113.3 126.7,109.9 133.5,97.9 120.9,108.7 114.2,127.5 127.3,103.8 123.4,105.4 139.5,106.3 134.2,100.7 128,117.1 119.8,129.7 115.6,121.9 122.2,111 125.6,105.5 121.7,121.8 124.5,107.9 117.6,122.7 140.4,103 120.9,120.8 123.1,110.3 133.2,97.8 135.4,109.1 119.1,132 136.6,103.8 124.1,106.8 127.5,113.2 125,118.6 130.1,114.8 126.1,121.5 132.5,103.6 118,119.1 124.5,117.3 127.5,107.5 128.6,134.1 132.6,104 126.9,112 122.8,124.3 140.5,104.4 125.9,111.8 126.3,125.1 143.1,103.5 120.6,129.1 126.2,110.9 120.9,106.9 133.9,105.1 126.4,123.5 124.4,129.5 123,127.8 127.3,105.4 142.9,103.7 144.2,106 120.7,122.7 115.7,130.5 130.9,113.5 127.6,122.5 124.9,110.9 144.1,106.8 128.1,109.3 119.4,101.3 120.7,114 129.3,111.7 125.3,111.6 130,104 126.3,130.6 123,118.1 125.4,133.6 115.5,130.3 126.1,128.3 122.9,106 121.8,130.9 141.1,99.5 139.6,103.1 121.3,104.4 136.7,107.4 139.7,101.5 124.3,123.9 123.3,108.4 127.1,116.1 123,108.5 131.3,113.9 129.8,111.6 125,125 139.3,104.5 139.2,107 132.2,108.5 135.2,105.1 115.6,117.5 134.6,110.7 131.3,112.8 129,132.9 132.4,106.9 120.6,115.8 142.5,105 123.2,127 119.3,123.7 146.1,106.5 133.9,111.6 117.1,126.2 125.2,114.1 123.9,124.6 121.6,126.6 127.9,99.5 129.4,109.8 122.7,114.7 121.3,115.8 127.7,103.9 129.9,103.4 141.3,97.4 124.9,116.2 131.2,104.9 130.3,109.2 120.9,116.5 133.2,101.1 126,130.2 121.5,125.4 136,103.1" fill="none" stroke="none" marker-start="url(#m1)" marker-mid="url(#m1)" marker-end="url(#m1)"/>
<polyline points="128.3,123.1 137.6,110.5 148,127.8 127.5,129.8 138.2,110.1 149.5,123.8 129.3,132.9 131.7,135.4 128.7,126.3 137.8,135.5 127.3,128.5 150.4,113.7 144.7,134 131.7,114.1 137.5,134.5 147.4,129 144,109.4 138.2,134.4 138.4,127.3 130.1,132.7 128.5,123.1 133.7,125.3 142.4,109 141.5,108.8 128.4,123.7 131.9,114.6 151.4,119.6 147.2,112.7 135.2,134.7 146.8,129.1 142.8,133.4 149.3,115.8 129.9,117.4 135.1,124.6 134.6,111.6 143.7,110.2 135.8,128.6 147.8,127.6 132.8,113.8 136.1,122.1 142,128.3 130.9,119.5 148.2,110.7 137.7,132.6 145.4,130.8 146.6,127.7 129.2,127 129.3,122.8 130.4,117.8 143.7,132.5 142.6,131.3 145.3,115.9 140.7,113.8 134.2,123.6 145.2,126.4 134.7,131.7 138.6,134.4 143.4,121.5 134.5,115.9 135.5,112.4 128.9,119.7 134.4,120.5 138.4,132.4 140.1,115.4 139.3,126.1 141.8,126.2 129.3,125.1 132.1,121.4 147.2,123.5 132.7,128.8 142.3,133 129.6,121.9 130.3,133.7 144.3,131 142,133.5 130.5,116.2 148.8,122.7 148.3,126.1 133.3,113.5 141.2,120.6 137.4,130.4 129.5,128.7 147.3,116.8 147.4,125.6 133.6,118.6 139.6,109.1 129.9,122.5 130.3,126.2 144.9,115.3 151.5,118.3 139.1,124 144.4,118.8 132.7,127.4 136.2,119.6 138.3,110.4 144.1,113.6 140.9,119.1 134.3,134.2 129,130.2 135.7,125.8 129,124.3 129.7,124.1 148.2,125.2 140,117.2 143.9,111.1 140.1,108.9 138.3,128.7 143.4,120.7 138.4,124 131.4,126.3 141.5,117.3 143.6,115.6 149.3,119.9 138.6,110.8 138.7,123.2 132.1,133 137.1,117.7 135.9,121.5 145.4,111.6 141.5,109.7 131.5,128.6 144.1,127.9 130.3,120.4 139,122.6 131.3,124.7 138.9,119.5 132.6,116 146.5,122.1 147.4,117.9 139,134.3 144.8,127.2 148.2,114.6 139.8,110.9 143,123.4 129.9,121.4 135.1,117.3 139.8,129.8 150.2,121.5 143.5,130.8 137.9,130.3 140.4,119 146.8,114.2 147.9,114.1 142.8,112.4 138.4,113.7 133.1,130.4 130.7,130.6 148.1,119.7 136.6,129.6 136.3,112.4 137.7,114.5 140.7,134.8 136.5,114.3 140.5,132.5 145.9,120.2 142.7,129.1 150.2,116.9 148.9,125.2 144,124.1 133,113 131.6,130.7 132.6,131.5 137.3,114.4 134,132.8 134.1,112.8 142.3,125.6 134.4,131.3 141.3,123.1 139.1,135 145.5,110.9 146.6,127.6 142.6,125.9 143.2,125.9" fill="none" stroke="none" marker-start="url(#m0)" marker-mid="url(#m0)" marker-end="url(#m0)"/>
<path d="M37.2 35L41.2 157.7L101 205L218.1 175.9M37.3 36.7l-2.5 0M37.8 53.1l-2.5 0M38.3 69.6l-2.5 0M38.9 86l-2.5 0M39.4 102.4l-2.5 0M39.9 118.8l-2.5 0M40.5 135.3l-2.5 0M41 151.7l-2.5 0M41.2 157.7l-2.2 1M49.5 164.2l-2.2 1M58.3 171.2l-2.2 1M68.1 179l-2.2 1M78.2 186.9l-2.2 1M89 195.5l-2.2 1M101 205l-2.2 1M113.4 201.9l0.8 2.4M129.1 198l0.8 2.4M144.7 194.1l0.8 2.4M160.4 190.2l0.8 2.4M176.1 186.3l0.8 2.4M191.8 182.4l0.8 2.4M207.4 178.5l0.8 2.4M218.1 175.9l0.8 2.4" stroke="#2a2a2a" stroke-width="0.9" fill="none"/>
<text x="33.7" y="39.3" font-size="7.6" font-weight="bold" text-anchor="end" stroke="#111" stroke-width="0.25">180</text>
<text x="34.2" y="55.7" font-size="7.6" font-weight="bold" text-anchor="end" stroke="#111" stroke-width="0.25">160</text>
<text x="34.7" y="72.2" font-size="7.6" font-weight="bold" text-anchor="end" stroke="#111" stroke-width="0.25">140</text>
<text x="35.3" y="88.6" font-size="7.6" font-weight="bold" text-anchor="end" stroke="#111" stroke-width="0.25">120</text>
<text x="35.8" y="105" font-size="7.6" font-weight="bold" text-anchor="end" stroke="#111" stroke-width="0.25">100</text>
<text x="36.3" y="121.4" font-size="7.6" font-weight="bold" text-anchor="end" stroke="#111" stroke-width="0.25">80</text>
<text x="36.9" y="137.9" font-size="7.6" font-weight="bold" text-anchor="end" stroke="#111" stroke-width="0.25">60</text>
<text x="37.4" y="154.3" font-size="7.6" font-weight="bold" text-anchor="end" stroke="#111" stroke-width="0.25">40</text>
<text transform="translate(38.2 162.3) rotate(4) skewX(-20) scale(1 0.72)" font-size="6.2" font-weight="bold" text-anchor="end">1200</text>
<text transform="translate(46.5 168.8) rotate(4) skewX(-20) scale(1 0.72)" font-size="6.2" font-weight="bold" text-anchor="end">1000</text>
<text transform="translate(55.3 175.8) rotate(4) skewX(-20) scale(1 0.72)" font-size="6.2" font-weight="bold" text-anchor="end">800</text>
<text transform="translate(65.1 183.6) rotate(4) skewX(-20) scale(1 0.72)" font-size="6.2" font-weight="bold" text-anchor="end">600</text>
<text transform="translate(75.2 191.5) rotate(4) skewX(-20) scale(1 0.72)" font-size="6.2" font-weight="bold" text-anchor="end">400</text>
<text transform="translate(86 200.1) rotate(4) skewX(-20) scale(1 0.72)" font-size="6.2" font-weight="bold" text-anchor="end">200</text>
<text transform="translate(98 209.6) rotate(4) skewX(-20) scale(1 0.72)" font-size="6.2" font-weight="bold" text-anchor="end">0</text>
<text transform="translate(114.2 205.3) rotate(38)" font-size="4.3" font-weight="bold">150</text>
<text transform="translate(129.9 201.4) rotate(38)" font-size="4.3" font-weight="bold">100</text>
<text transform="translate(145.5 197.5) rotate(38)" font-size="4.3" font-weight="bold">50</text>
<text transform="translate(161.2 193.6) rotate(38)" font-size="4.3" font-weight="bold">0</text>
<text transform="translate(176.9 189.7) rotate(38)" font-size="4.3" font-weight="bold">-50</text>
<text transform="translate(192.6 185.8) rotate(38)" font-size="4.3" font-weight="bold">-100</text>
<text transform="translate(208.2 181.9) rotate(38)" font-size="4.3" font-weight="bold">-150</text>
<text transform="translate(218.9 179.3) rotate(38)" font-size="4.3" font-weight="bold">-200</text>
<text transform="translate(8.8 60.6) rotate(90)" font-size="14.5">Position-Z(m)</text>
<text transform="translate(17.6 173.2) rotate(40) skewX(-24) scale(0.81 1)" font-size="10.8" font-style="italic">Position-X(m)</text>
<text transform="translate(137.1 214.7) rotate(-14) skewX(-8) scale(1.4 1)" font-size="10.6" stroke="#111" stroke-width="0.15">Position-Y(m)</text>
<rect x="158.5" y="142.3" width="40.8" height="24.1" fill="#70ad47" stroke="#111" stroke-width="1.1"/>
<text x="178.9" y="160.3" font-size="17" font-weight="bold" text-anchor="middle">Spar</text>
</g>
<g transform="translate(288.6 228.5)">
<rect x="8.4" y="7.1" width="245" height="12.4" fill="#fff" stroke="#555" stroke-width="1"/>
<circle cx="19.6" cy="13.2" r="2.15" fill="url(#g0)"/>
<text x="32.8" y="16.7" font-size="10.2">1D</text>
<circle cx="54.5" cy="13.2" r="2.15" fill="url(#g1)"/>
<text x="67.7" y="16.7" font-size="10.2">2D</text>
<circle cx="89.3" cy="13.2" r="2.15" fill="url(#g2)"/>
<text x="102.5" y="16.7" font-size="10.2">3D</text>
<circle cx="124.2" cy="13.2" r="2.15" fill="url(#g3)"/>
<text x="137.4" y="16.7" font-size="10.2">4D</text>
<circle cx="159.1" cy="13.2" r="2.15" fill="url(#g4)"/>
<text x="172.3" y="16.7" font-size="10.2">5D</text>
<circle cx="193.9" cy="13.2" r="2.15" fill="url(#g5)"/>
<text x="207.1" y="16.7" font-size="10.2">6D</text>
<circle cx="228.8" cy="13.2" r="2.15" fill="url(#g6)"/>
<text x="242" y="16.7" font-size="10.2">7D</text>
</g>
<g transform="translate(289.9 227.3)">
<path d="M45.4 34.4L49.1 156.2M61.4 33.1L64.5 153.2M76.6 32L79.2 150.3M92 30.8L94 147.4M106 29.7L107.5 144.8M120.3 28.6L121.3 142.1M134 27.5L134.5 139.5M37.8 53.1L147.6 42.8M38.3 69.6L147.6 57.6M38.9 86L147.6 72.4M39.4 102.4L147.6 87.2M39.9 118.8L147.6 102M40.5 135.3L147.6 116.8M41 151.7L147.6 131.6M158.2 28.9L157.3 142.4M169.5 31.5L167.8 148.1M182.1 34.4L179.3 154.5M195 37.3L191.2 161M209 40.5L204 168.1M147.6 42.8L223.4 63.5M147.6 57.6L222.6 81.1M147.6 72.4L221.7 98.8M147.6 87.2L220.9 116.5M147.6 102L220.1 134.1M147.6 116.8L219.2 151.8M147.6 131.6L218.4 169.4M49.5 164.2L157.3 142.4M58.3 171.2L167.8 148.1M68.1 179L179.3 154.5M78.2 186.9L191.2 161M89 195.5L204 168.1M113.4 201.9L49.1 156.2M129.1 198L64.5 153.2M144.7 194.1L79.2 150.3M160.4 190.2L94 147.4M176.1 186.3L107.5 144.8M191.8 182.4L121.3 142.1M207.4 178.5L134.5 139.5" stroke="#e6e6e6" stroke-width="1" fill="none"/>
<path d="M37.2 35L147.6 26.5L224.3 44L218.1 175.9M147.6 26.5L147.6 137M41.2 157.7L147.6 137L218.1 175.9" stroke="#c6c6c6" stroke-width="1" fill="none"/>
<path d="M61.3 162.9L139.5 147" stroke="#a020a0" stroke-width="1.4"/>
<path d="M71.8 166.2L141.2 151.8" stroke="#9a30f0" stroke-width="1.4"/>
<path d="M82.7 169.4L143.8 156.3" stroke="#1a1a90" stroke-width="1.4"/>
<path d="M94.7 172.7L147.1 161.6" stroke="#1a9a1a" stroke-width="1.4"/>
<path d="M106.7 176.4L150 166.6" stroke="#ff20ff" stroke-width="1.4"/>
<path d="M118.7 179.7L152.6 172.1" stroke="#2020f0" stroke-width="1.4"/>
<path d="M131.4 183L155.8 177.9" stroke="#ff1a1a" stroke-width="1.4"/>
<path d="M156.1 55.2L155.2 133.3" stroke="#a020a0" stroke-width="1.4"/>
<path d="M162.8 63.3L161.9 133.3" stroke="#9a30f0" stroke-width="1.4"/>
<path d="M170.1 70.2L169.2 132.8" stroke="#1a1a90" stroke-width="1.4"/>
<path d="M177.7 77.3L176.8 132.1" stroke="#1a9a1a" stroke-width="1.4"/>
<path d="M185.6 85.2L184.7 131.5" stroke="#ff20ff" stroke-width="1.4"/>
<path d="M193.6 93.3L192.7 131" stroke="#2020f0" stroke-width="1.4"/>
<path d="M201.9 103.3L201 129.7" stroke="#ff1a1a" stroke-width="1.4"/>
<polyline points="112.8,79.4 90.9,74 96.5,80.1 110,71.8 68,149.6 93.9,90.8 86.6,84.5 75.7,91.2 128.3,94.8 70.9,119.5 82.5,140.7 67,100.9 71.9,116.4 68.5,114.8 87.9,81.6 113.1,79.1 120.6,80.6 125.3,68.4 124.2,72.3 91.5,78.1 82.2,81.9 114.9,64.9 80.2,87 82.2,99.4 92.7,90.6 67.8,120.7 80.5,102.5 101.1,61.9 63.2,93.4 64.7,106.2 123.3,76.6 114.1,82.1 123.7,73.8 65.6,131.6 72.7,107.6 81.5,94 88.4,101.9 99.6,74.8 97.2,74.4 90.1,89.6 80.1,85.4 90.7,94.9 116.8,69 83.2,89.4 93.1,82.6 73.5,127.1 90.1,70.3 91.6,117.5 105.5,70.2 69.3,121.5 60.1,125.3 79.4,94.4 96.7,93.8 100.3,73.4 87.4,69.4 73.4,120.2 74.2,112.4 135.3,77.8 66.3,77 76.4,111.8 91.5,99 92.4,91 99.5,108.2 92.6,78.4 75.2,86.1 121.2,65.5 120.7,77.6 74.8,105.7 118.3,65.7 73.1,100.3 75.7,87.8 74.6,88.1 137.6,87 130.3,76.5 101.8,83.3 112,75.7 113.5,79.1 88.2,72.8 97.2,104.1 83.7,73.5 69.5,132.8 87.3,83.5 116.9,83.6 76.8,87.5 76.5,120.2 90.7,66 68,135.5 65.7,96.7 64.9,131.1 121.3,75.7 75.4,136.1 69.6,125.5 93.4,72.2 77.6,101.3 76.9,97.3 78.9,129.8 93.8,79 76.5,118.5 90.8,80.8 87.6,86.3 90.6,142.4 81,103.5 65.3,104.4 74.4,143.8 125.2,89.2 86.1,131.9 71.5,141.9 80.3,93.1 74.3,102.4 78.3,114.2 79,118.7 75.5,91.1 112.3,83.6 100.2,108.2 96.9,72.5 123,71 130.1,86.9 72.3,93.6 80.8,132.6 78.5,90.9 105.8,145.1 69.9,119.6 94.3,92.2 78.8,137.9 73.6,133.5 135.8,86.7 116.3,72 76.1,81.4 94.8,92.9 91.3,88.8 92.5,124.4 105.7,72.6 101.3,70.4 103.9,78.4 69.8,119 108.5,73.3 74.3,129.7 80.3,94.1 73.6,131.9 80.9,147 84.4,83.8 104.9,68 112,74.1 70.2,100.6 98.9,144.6 83.6,143.7 79.7,116.7 71.6,94.5 93.3,70.6 72.6,89 87.2,88.6 83.3,80.6 73,131.3 86.6,93.2 99.2,94.8 104.7,73.6 67.6,122.4 75.6,104.3 101.5,80.1 73.1,129 65.4,89.5 114.9,65.1 114.5,73.6 83.9,85.9 120.4,69.3 76.4,122.8 86.5,76.6 74.4,115.2 88.5,91.1 81.6,81 103.1,87.6 72.8,115 89.3,145 87.7,133.2 95.2,94.2 82.9,130.9 114.6,75 71.2,100.4 80.6,78.2 123.3,82.4 69.3,119.5 75.4,126 110.4,73.7 82,129.2" fill="none" stroke="none" marker-start="url(#m6)" marker-mid="url(#m6)" marker-end="url(#m6)"/>
<polyline points="94.3,105.1 87.5,96.5 89.5,84 81,117.1 88.5,141 88.4,105.3 136,94.5 110.4,80.9 93.7,85.5 82,133.9 95.2,85.8 86,121.8 83.4,132.7 71.7,129.4 128.8,92.7 99.9,85.6 90.7,85.5 76.8,126.3 89.5,82.8 79.8,127 78.4,123.9 81.7,103.5 88.9,96.2 76.7,121.3 117.8,77.1 79,114.6 97.4,78.6 81.1,112.7 121.4,85.8 85.4,111 78.6,101.7 91.8,83.6 106.8,99.5 113.2,99.3 93.6,104.3 81.4,91.5 107.8,84 82.9,84.9 95.1,83.5 105,102.3 131.5,87.4 87.3,107.7 82.8,135.9 82.9,90.7 116.6,86.8 122,75.7 115.4,78.3 115.3,78 127.3,85 80.7,97.3 124.7,79.4 137.9,88.7 87.5,93.3 93.5,141.1 87,112.8 78.9,98.1 91.2,111.5 105,147 85.3,119.6 108.1,144.4 121.7,86.3 86.7,98.4 83,112.2 92.8,109 90.5,84.8 82.1,100.8 71.1,118 130.8,92.9 130.7,83.7 92.7,92.1 121.1,89.3 78.9,106.9 97.6,124.5 105.6,93.1 132.2,85.2 86.1,115.7 89.8,93.1 95.6,149.2 81.5,95 126.7,80.9 95.5,82.3 100.4,84.5 82.8,144.7 95.3,85.1 88.8,87.1 125.1,76.2 104.8,84.3 87.6,137 91.8,93.9 87.3,87.4 80.9,123.2 94.9,140.7 90.5,132 93,141.1 89,105.2 84.1,88.1 100.1,84.8 90.1,120.9 122.5,80.9 95.5,108.4 81.8,139.4 103.8,86.2 104.7,87.8 106.3,88.4 119,76.2 85.5,95.9 121.1,97.6 123.8,85 103.5,80.2 84.7,103.3 82.3,115 114.7,85.4 96.7,141.3 88.3,131.4 82.1,122 94.2,95.5 80.4,107.4 93.6,87.1 81.3,119.5 83.1,117.3 126.9,86 84.4,99 107.5,75.1 82.4,137.4 96.6,148.4 120.2,81.5 79.2,110.8 76.2,112 83.9,101.3 95.8,112.6 101.6,83 96.9,84 109.3,81.4 78,127.7 104.1,85.4 98.2,96.9 122.2,99.3 95,139.1 108.2,99.4 77,103.2 106.3,94.8 89.4,102.3 101.7,139.4 100,96.4 106.9,83.5 113.3,84.8 90.6,138.2 74.5,123.8 97.6,102.6 87.7,144.3 127.3,89.9 92.6,88.6 106.2,85.3 91.8,131.9 82.3,120.5 76.4,102.1 102.9,90.6 121.9,87.2 130.8,87.6 81.6,125.1 132.6,74.9 126.5,83.4 96.7,91.3 85.7,137.9 88.9,91.1 87.1,136.5 80.7,108.6 90.9,90.6 108.9,143.1 99.6,104.7 107.4,87.3 109.9,80.3 92.9,135.4 105.1,90.6 101.3,94.1 82.8,99.4 76.9,108 87.2,129.9 131.8,89.4 90.1,140 116.7,78.8 112.3,73.9 80.7,110.1 80.4,133.5 90.3,100.9 89.3,81.6 90.4,129.9 87.9,101.3 81.2,105.3 82,127.3 93.8,111.3 117.5,74.7 77,115.5 77.8,129.5 78.3,135.8 92.3,92.2 130.2,80.8 85.2,93.6 133.4,82.4 102.1,78 94.1,94.2 117.4,89.9 81.1,133 82.6,127.5 101.1,92.2 86.7,131.6 110.4,82.9 84.9,104.7 106.1,143 85.7,120.3 118.3,86.5 97.7,119.6 77.9,119.4 124.7,83.7 93.5,130.2 109.6,89 96.1,117.1 91.6,122.5 101.7,143.6 122.4,91.2 114.8,81.6 114.7,99.2 85.3,116.9 121.5,70.4 126.8,78.9 89.1,97.2 93.3,137.5 90.2,103.1 86.8,117.1 108.1,79.3 102.3,105.3 88.3,140.1 80.9,110.8 90.6,125 120.4,77.5 91.8,133.9 106.3,80.1 103.5,81.5 85.6,129.3 120.3,83.8 98.6,92.4 82.6,86.4 84.7,125 93,117 86.4,135.5 104.7,109.2 81.4,130.3 84.8,114.5 99.4,112.6 96.7,77.5 84.2,134.5 78.9,121.1 75.2,111 74.2,139.3 106.5,74.8 80.7,143.2 99.3,140.8 104.6,85.6 92.8,101 116.1,83.4 102.9,81.9 103.4,93.4 83.2,122.7 124.9,86.9 99,140.5 93.8,112.4 100.4,116" fill="none" stroke="none" marker-start="url(#m5)" marker-mid="url(#m5)" marker-end="url(#m5)"/>
<polyline points="83.4,124.8 89.3,135.9 88.8,123.3 120.7,88.1 103.4,91.5 113.7,142.8 94.5,115.6 86.3,100.8 98,130.4 89.3,110.5 99.7,106.2 90.8,129.1 104.3,101.7 114.7,91 118.6,81.5 99.2,93.5 125.8,92.8 94.1,87.4 103.1,101.6 115.1,97.2 121.1,83.2 85.5,128.3 107.3,88.4 87.3,127 142.5,91.5 100.9,125.3 90.2,99.4 106.3,82.3 83,98.1 120.3,90 98.2,141.2 88.1,132.6 98,134.2 101.7,97.9 94.9,132.9 128.6,82.7 116.2,87.8 97.8,136.8 82.9,126.4 92.3,94.4 91.3,128.1 96.9,97.1 95.6,96.4 89.7,134.3 138.2,92.4 100.7,101.4 100.3,106.8 88,118.9 85.6,110.6 100.9,107.8 98.2,138.7 89,110.7 99.9,97.9 102.6,99.9 102.8,146.2 82.9,125.1 112.3,96.5 96.1,121.3 89.6,135.9 108,89.6 95.3,126.6 103.1,109.9 109.3,94.3 97,141.4 95,117.6 99.7,122.1 88.7,119.5 98.4,99.4 96.7,99.3 121.9,91.4 96.9,112.8 109.4,96.5 97.3,142.7 91.9,112.7 97.1,130 105.8,103.4 90.7,106.1 104.9,140.2 93.6,138.4 96.9,111.2 88.4,112.5 97.2,123.3 92.6,115 92.7,131.3 89.4,126.9 138.3,90.8 110,105 110.3,111.7 100.6,126.2 87.9,132.3 98.1,133.3 128.2,88.2 105,143.2 87.7,106.8 106.4,98.2 93.4,119.3 102.5,90.7 104.6,100.1 89.9,139.3 82.1,110.1 116.4,90.3 110.7,84.8 115.5,88.4 89.8,126.8 102.9,106.5 136.2,85 118,98.2 94.7,124 94.2,99.9 99.3,138 84.3,122.3 110.4,97.1 98.3,121.5 108.4,92.4 112.5,85.6 103.5,105.6 102.4,138.8 105.2,129.4 92.2,120 105.8,90 122,80.5 104.3,142.7 91.9,103.4 106.2,91.1 111.8,138.3 90.5,112 85.9,127.1 109.9,85.5 89.8,114 98.6,147.2 122.8,96.8 91.9,124.1 130.8,92.2 97,125.8 82.6,118.5 122.4,92.4 105.7,109.9 97.4,115.6 118,91.2 111.3,99.7 113.4,92.3 99.2,89.4 114.9,81.8 98.4,105.1 91.7,105.2 94.8,102.6 97.4,101.7 111.3,87.9 97,108.9 96.9,133 89.2,115.9 102.3,141.8 103.8,119.8 132.7,91 98.5,116.3 107.2,99.2 97.4,128.2 88.9,112 112.5,95 91.1,127.2 119.1,141.3 89.6,129.3 96.9,119.2 113,89.8 84.2,109.3 84,106.5 91,115.1 116.4,91.2 86.7,109.1 99.9,110.4 111.2,89.8 109.7,142.6 87,99.2 90.1,126.9 101.8,119.9 109.9,140.7 94.4,133.5 101.2,87.8 118.9,98.4 86.1,109.4 93.1,98.2 122.9,83.6 99.7,136.6 88.3,108.2 119.9,91.4 93.8,111.9 103,124.1 101.1,96.8 87.4,117.2 89.5,108.1 137.2,80.2 89.6,114.8 96.3,125.2 93.6,103.3 98.9,102.3 93.7,127.5 101.5,91.6 99.4,115.1 109.3,100.2 95.8,135.2 106.2,137.4 120.9,138.9 94,121.6 97.5,121.3 135.8,92 107.7,93.7 102.4,135.8 92.9,107.7 112.9,106.3 134.9,91.2 90.3,135 91.5,91.5 107.3,122 90.1,115.2 108.2,142.1 127.8,96 82.7,107.9 114.9,93.6 127.9,89.5 89.3,91.1 102.7,135.2 88.2,115.7 95.8,110.8 105.1,96 110.8,107.9 98.1,87.4 93,108.7 111.8,104.3 85.4,104.1" fill="none" stroke="none" marker-start="url(#m4)" marker-mid="url(#m4)" marker-end="url(#m4)"/>
<polyline points="139.3,97.4 101.2,127.5 116.5,87.9 115.5,141.5 112.1,141.5 127.5,94.6 126.8,94.5 95.2,136.7 107.2,131.5 112.1,100.9 117.1,95.9 105.5,121.7 131.5,98.2 96.5,107.9 103.7,129 120.7,94.1 112.4,141.8 104.4,131.9 122.9,93.9 119.1,93.3 131.7,95.2 105.4,141.1 102.3,131 136.5,93.9 93.9,134.7 135.7,140.4 102.4,119 108.6,106.7 108.8,101.9 103.8,122.9 108.5,129.2 109.3,93.3 103.8,127.3 105.2,138.5 104.1,114.5 99.6,120.3 107,141.2 117.7,113 114,97.3 110.3,122.2 100.6,135.3 132.1,91.4 121.3,94.6 131.1,92.1 108.7,127.5 113.5,88.1 110,103.8 103.2,115.6 109.6,90.3 116.4,101.1 134.3,84.6 113.7,141.1 104,106.8 128.1,91.6 101,112.2 116.3,94.3 107.8,134.6 113.6,139.7 100.4,132.3 110,117.4 115.5,107.7 117.2,94.1 109,138.8 118.2,96.9 107.2,132.3 102.9,100.7 111.5,93.2 127,93 110.8,108.6 111.1,110.7 113.5,107.1 96.4,111 107.5,109.4 100.8,113.3 108.5,113.2 102,96.3 105.1,111.4 137,97.2 104.3,118.1 129.2,96.9 101.1,130.8 129.5,90.9 109.4,103.5 112,108.3 95.9,106.1 120.1,96 103.2,114 109.3,104 101.1,121.9 106,105.3 106.7,114.6 146.8,110 111.1,137.2 122.5,94.7 106.9,109.2 104.3,97.7 113.4,96 99.3,128 124.8,96.7 105.4,119.5 106.3,112 102.3,111.2 108,118.9 112.9,144.4 104.3,128.2 101.4,109.7 146.9,103.4 100.5,117.3 137.3,104.5 100.5,128.6 133.8,95.9 131.9,97.2 103.1,132.9 132.2,94.2 110.7,118.5 127.8,98 112.5,103.4 120,111.2 138.5,100.3 106.9,125.7 107.3,119.5 133.2,98.2 105.8,128 99,131.7 144.1,103.6 121.3,95.7 103.4,99.7 127.9,99.1 104.9,123.8 133.4,93.1 98.4,139.3 102.3,103.6 120.3,112.6 134.6,94.2 108.8,111.8 124.4,93.6 107.9,96.5 124.4,99.8 114.4,97.2 119,101.7 109.1,142.1 93.4,132.4 105.4,103.6 135.8,93.2 114.8,102.1 109.2,104.6 96.3,129.3 111,101.3 109.1,145.7 100.3,117 100.8,109.1 105.5,117.7 105.7,116.2 106.3,119.1 124.7,90.3 104.5,135.8 111.4,100 107.8,133.9 106.8,118.1 105.5,106.3 103.2,134.7 110.4,127 129.5,89.4 104.5,106.4 127.1,105.7 133.6,100.7 103.1,112.5 100.6,102.8 118.2,99.4 129.8,97.8 104.4,126.7 118.1,138.3 110.1,125.5 114.2,106.4" fill="none" stroke="none" marker-start="url(#m3)" marker-mid="url(#m3)" marker-end="url(#m3)"/>
<polyline points="117,140.5 112,114.3 115.8,106.3 106.5,138.3 116.9,139.2 116.4,102.9 120.6,109.2 135.5,99.3 133.3,95.6 121.6,144.2 112.5,110 116,137.6 108.2,124.2 128.2,106.4 118.3,104 115.3,121.6 130.5,100.8 115.9,119.2 122.1,110.9 111,120.2 112.9,112.6 110.6,131.1 138.1,95.7 114.6,138.6 107.8,111.9 120.1,113.1 114.6,141.1 115.5,124.3 141.5,105.9 127,107.9 129.1,104.3 116.8,133 116.2,116.9 117.3,121.5 139.1,108.5 116.8,116.5 118.2,116.3 104.9,134.3 117.7,119.7 112.4,119.3 111.5,144.5 117.1,126.1 120.2,101.2 137,101.9 132.2,100.9 115.7,136.5 126,106 140.4,100.1 109.1,136 134,103 114.1,127.1 123.9,124.4 113.6,121.6 123.2,108.8 113.2,123.7 112.5,132.4 115.5,110.3 111.4,133.3 118.8,128.6 120.7,137.4 136.3,103.4 119.6,137.6 112.5,136 116.4,127.8 123.6,116 124.1,111.5 125,97.7 113.9,117.9 116.1,113.7 109.2,115.2 115,135.9 130.5,103.6 117.3,107 136.3,104.2 121.7,107.9 114.7,131.9 110,133.4 115.3,114.2 122.7,112.3 114.1,116.7 113.1,124.5 120.5,106 142.1,101.2 123.7,106.3 135.9,105.4 125.3,103.5 112.1,137.9 129.1,109.2 114,129.5 112.6,133.9 123.8,110 111.3,129.2 118.3,115.5 109.2,120.6 110.8,110.1 113.6,129.8 114.6,140.8 125.9,108.6 120.3,104 119.2,116.6 136.4,107.1 119.1,135.9 119.9,104.7 118,107.6 142.2,102.3 115.9,105.5 143.2,104.7 122.7,118.4 129.5,105.8 122.5,106.5 110.6,125.8 122.9,103.2 114.7,133.3 121.4,113.2 120.6,125.9 125.4,103.3 135,100.6 116.9,110.4 138.6,98.3 127.1,101.9 121.8,101 116,134.5 128.1,100.5 132.4,103.5 134.9,104.7 119.7,133.9 128.2,101.9 120.1,104.9 115.4,105.6 111.6,122.6 116.8,136.2 119.2,114.8 123,138.1 109.8,128.8 111.7,116.4 112.7,114.2 119.4,131.2 125,102 116.8,130.2 124.8,141 120.1,120.6 111.5,136.6 113.1,127.8 135.8,99.8 112.1,124.1 120.5,120.2 115.5,111 144.9,107.4 130.8,101.3 115.9,132.7 140.4,103.8 117.1,127.8 112.4,121.8 114.7,105.3 114,140.7 141.2,101.4 116.1,136 132.4,109.4 118.5,107.8 119.8,118.1 118.5,123.2 128.9,102 122.5,102.3 121.9,102.9 139.2,101.5 112.3,121.3" fill="none" stroke="none" marker-start="url(#m2)" marker-mid="url(#m2)" marker-end="url(#m2)"/>
<polyline points="131.7,143 139.3,105 131,141.7 132.9,140.2 145,108.5 121.3,140.6 121.3,124.8 127.8,110.1 125.2,125.4 142.7,106.8 122.6,126 146.9,113.3 126.8,140.9 143.9,112.3 142.4,113.3 140.7,142.2 119.7,130.6 124.1,126.5 138.4,112.1 121.8,143.7 121.2,130 150.2,116.1 121.8,119.7 122,115 131.7,118.2 134.4,119 119.5,129.2 135.6,116.1 135.3,117.2 137.4,107.9 143.8,114.7 142.8,109.3 133.4,142.1 120.2,123.5 126.1,125.7 140.7,111.4 125,120.4 118.5,125.3 146.8,107.6 122.2,141 131.4,109.2 123.1,139.2 131.5,136.7 127,125.4 120.6,134.1 122.2,139.3 123.6,114.8 125.7,117.4 149.1,113.8 127,111.4 124.2,128.5 129,137.4 145.7,112 121.1,118.4 126.3,131.9 124.8,122.8 133.1,114.3 142.3,107.4 127.9,124.8 128.1,136.5 132.3,104.1 137.9,114.8 127,111.7 137.5,109.1 125.2,128.7 138.5,106.1 129.9,113.7 132.5,116 128.7,130.6 125.5,114 121.6,135.4 141.8,114.6 138.8,111 127.8,127.5 122.6,121 132.8,123.6 132.4,138.3 129.9,116.1 131.1,107.4 134.8,119.4 126.6,140.5 131.5,113.1 145.5,111.3 142.9,115.5 130.9,128 127.6,114.5 130.4,133.5 122.1,143.1 122.7,135.1 134.9,110.2 121.4,121.2 126.6,130.3 130.1,112.3 127.5,134.6 124,132.2 133.5,120.7 127.8,132.1 136.2,111.4 128.8,130.9 131.6,120.1 125.5,137.2 135.5,119.4 132.5,112.4 138.4,115.3 126.8,116.7 128.4,139.5 127.3,116.2 135.2,112.6 131.1,112 129.2,109.8 129.4,125.8 139.6,113.5 127,122.5 127.3,112.9 121.4,128.3 120.8,124 133.5,116.2 127.4,122.5 125.4,139.1 130.4,119.4 122.9,132.7 126.5,129 141.6,109.2 122.9,135.8 132.4,106.7 125.1,135.2 129.8,119.8 124.8,126.6 127.8,119.7 124,143.5 128.9,117.4 139.9,115.3 127.4,123.6 128.6,110.7 130.8,129.7 125.9,113.2 147.5,108.1 145.4,113.8 133.4,124.1 130.1,122.3 119.4,129.6 130.4,139.2 120.6,116.3 134.2,111.2 124.1,126.8 137.7,109.8 123.4,131.5 123.1,114.5 123.7,136.4 128.4,135.7 136.9,117.5 127.5,119.6 130.6,124 121.6,121.6 129.4,125.4 135.5,107.5 140.2,110.3 131.3,116 136.3,109.2 128.3,141.8 133.4,140.7" fill="none" stroke="none" marker-start="url(#m1)" marker-mid="url(#m1)" marker-end="url(#m1)"/>
<polyline points="140.1,141.2 154.5,129.7 132.5,127.3 141.4,115.1 135.8,120.6 132.2,129.8 140.3,140.8 135.6,140.1 148.6,137.3 146.4,117.7 154.8,128.4 149.6,117 133.6,136.7 144.1,128 134.1,136.5 151.2,124.8 153.1,124 151.2,134.5 136.9,119.5 138.8,129.8 147.7,119.8 153.1,125 132.7,127.6 151.3,133.7 134.2,130.1 152.3,119.7 151.5,119.8 150.3,129.5 148,140.3 132.3,124.7 137.3,140.2 137.9,138.5 141.9,116.2 132.4,130.8 133.2,128.1 149.7,132.7 139.9,121.5 152.3,128.1 147.2,132.1 136.8,139.3 152.8,130.3 135.6,122.6 151.9,120.4 140.4,139 147.3,116.7 150.6,132.5 140.1,140.4 147.8,114.7 135.3,137.3 142.3,128.9 145.4,115.8 147.8,137.6 136,139.3 149.4,125.5 134.7,131.5 146,116.5 142.9,140.2 135.8,126.6 147.8,134.3 138,136.1 138.4,126.8 145.7,128 142,126.6 135.8,137.3 132.6,131.8 153.8,129.7 136.4,121 137.3,132.9 131.3,135.1 134.4,134.3 144.5,119.2 151.3,133.5 153.1,131.8 144,136.6 144.8,138.7 136.2,129.3 140.8,123.3 151.9,132.5 146.7,131.1 136.4,120.6 147.5,126.3 138.3,129.5 137.9,122.3 133.7,127.9 137.6,119.5 140.5,125.9 138.3,119.5 148.5,123.7 155,125.9 141.1,131.7 138.4,135.6 150.9,119.5 139,135.5 144.9,130.8 133.9,139.6 142.1,137.1 139,126.4 150.3,128.6 148.7,118.9 145,122.6 135.7,124.2 144.6,130.8 143.6,140.2 143,124.9 153.4,124.8 149.5,136.2 143.4,135 142.7,137.6 147.1,135.7 136.3,131.8 153.6,132.8 145.2,120.6 152.3,121.3 140.8,117.5 152.7,124 141.9,121.4 143.4,121.6 144,122 143.9,125.5 146.2,125.2 151.9,123.7 138.8,134.5 146.3,139.8 140.4,132.4 143.2,131.8 146.6,138.4 138.2,117.2 147.2,137.6 150,124 140.7,133.8 137.9,131.2 148.1,130.1 140.8,118.8 148.9,115 133.6,125.6 148.1,129.3 145.4,133.7 139.6,125.8 134.1,124.3 138.6,123.7 136.2,135.4 140.9,138.3 147.5,121.3 143.7,117.9 144.3,133.6 149.5,118.1 145.1,126 148.6,121.4 148.1,120 135.4,127.3 133.2,133.9 142.4,119.4 141.8,118.2 146.9,123.1 138.5,140.8 141.6,120.1 147.4,127.9 150.3,119.3 133.8,135.6 139.1,134.2 150.7,122.4 139.8,127.8" fill="none" stroke="none" marker-start="url(#m0)" marker-mid="url(#m0)" marker-end="url(#m0)"/>
<path d="M37.2 35L41.2 157.7L101 205L218.1 175.9M37.3 36.7l-2.5 0M37.8 53.1l-2.5 0M38.3 69.6l-2.5 0M38.9 86l-2.5 0M39.4 102.4l-2.5 0M39.9 118.8l-2.5 0M40.5 135.3l-2.5 0M41 151.7l-2.5 0M41.2 157.7l-2.2 1M49.5 164.2l-2.2 1M58.3 171.2l-2.2 1M68.1 179l-2.2 1M78.2 186.9l-2.2 1M89 195.5l-2.2 1M101 205l-2.2 1M113.4 201.9l0.8 2.4M129.1 198l0.8 2.4M144.7 194.1l0.8 2.4M160.4 190.2l0.8 2.4M176.1 186.3l0.8 2.4M191.8 182.4l0.8 2.4M207.4 178.5l0.8 2.4M218.1 175.9l0.8 2.4" stroke="#2a2a2a" stroke-width="0.9" fill="none"/>
<text x="33.7" y="39.3" font-size="7.6" font-weight="bold" text-anchor="end" stroke="#111" stroke-width="0.25">180</text>
<text x="34.2" y="55.7" font-size="7.6" font-weight="bold" text-anchor="end" stroke="#111" stroke-width="0.25">160</text>
<text x="34.7" y="72.2" font-size="7.6" font-weight="bold" text-anchor="end" stroke="#111" stroke-width="0.25">140</text>
<text x="35.3" y="88.6" font-size="7.6" font-weight="bold" text-anchor="end" stroke="#111" stroke-width="0.25">120</text>
<text x="35.8" y="105" font-size="7.6" font-weight="bold" text-anchor="end" stroke="#111" stroke-width="0.25">100</text>
<text x="36.3" y="121.4" font-size="7.6" font-weight="bold" text-anchor="end" stroke="#111" stroke-width="0.25">80</text>
<text x="36.9" y="137.9" font-size="7.6" font-weight="bold" text-anchor="end" stroke="#111" stroke-width="0.25">60</text>
<text x="37.4" y="154.3" font-size="7.6" font-weight="bold" text-anchor="end" stroke="#111" stroke-width="0.25">40</text>
<text transform="translate(38.2 162.3) rotate(4) skewX(-20) scale(1 0.72)" font-size="6.2" font-weight="bold" text-anchor="end">1200</text>
<text transform="translate(46.5 168.8) rotate(4) skewX(-20) scale(1 0.72)" font-size="6.2" font-weight="bold" text-anchor="end">1000</text>
<text transform="translate(55.3 175.8) rotate(4) skewX(-20) scale(1 0.72)" font-size="6.2" font-weight="bold" text-anchor="end">800</text>
<text transform="translate(65.1 183.6) rotate(4) skewX(-20) scale(1 0.72)" font-size="6.2" font-weight="bold" text-anchor="end">600</text>
<text transform="translate(75.2 191.5) rotate(4) skewX(-20) scale(1 0.72)" font-size="6.2" font-weight="bold" text-anchor="end">400</text>
<text transform="translate(86 200.1) rotate(4) skewX(-20) scale(1 0.72)" font-size="6.2" font-weight="bold" text-anchor="end">200</text>
<text transform="translate(98 209.6) rotate(4) skewX(-20) scale(1 0.72)" font-size="6.2" font-weight="bold" text-anchor="end">0</text>
<text transform="translate(114.2 205.3) rotate(38)" font-size="4.3" font-weight="bold">150</text>
<text transform="translate(129.9 201.4) rotate(38)" font-size="4.3" font-weight="bold">100</text>
<text transform="translate(145.5 197.5) rotate(38)" font-size="4.3" font-weight="bold">50</text>
<text transform="translate(161.2 193.6) rotate(38)" font-size="4.3" font-weight="bold">0</text>
<text transform="translate(176.9 189.7) rotate(38)" font-size="4.3" font-weight="bold">-50</text>
<text transform="translate(192.6 185.8) rotate(38)" font-size="4.3" font-weight="bold">-100</text>
<text transform="translate(208.2 181.9) rotate(38)" font-size="4.3" font-weight="bold">-150</text>
<text transform="translate(218.9 179.3) rotate(38)" font-size="4.3" font-weight="bold">-200</text>
<text transform="translate(8.8 60.6) rotate(90)" font-size="14.5">Position-Z(m)</text>
<text transform="translate(17.6 173.2) rotate(40) skewX(-24) scale(0.81 1)" font-size="10.8" font-style="italic">Position-X(m)</text>
<text transform="translate(139.5 214.7) rotate(-14) skewX(-8) scale(1.4 1)" font-size="10.6" stroke="#111" stroke-width="0.15">Position-Y(m)</text>
<rect x="168.3" y="144.5" width="38.6" height="24.5" fill="#70ad47" stroke="#111" stroke-width="1.1"/>
<text x="187.6" y="162.7" font-size="17" font-weight="bold" text-anchor="middle">TLP</text>
</g>
<g transform="translate(1.6 475.5)">
<rect x="8.4" y="7.1" width="245" height="12.4" fill="#fff" stroke="#555" stroke-width="1"/>
<circle cx="19.6" cy="13.2" r="2.15" fill="url(#g0)"/>
<text x="32.8" y="16.7" font-size="10.2">1D</text>
<circle cx="54.5" cy="13.2" r="2.15" fill="url(#g1)"/>
<text x="67.7" y="16.7" font-size="10.2">2D</text>
<circle cx="89.3" cy="13.2" r="2.15" fill="url(#g2)"/>
<text x="102.5" y="16.7" font-size="10.2">3D</text>
<circle cx="124.2" cy="13.2" r="2.15" fill="url(#g3)"/>
<text x="137.4" y="16.7" font-size="10.2">4D</text>
<circle cx="159.1" cy="13.2" r="2.15" fill="url(#g4)"/>
<text x="172.3" y="16.7" font-size="10.2">5D</text>
<circle cx="193.9" cy="13.2" r="2.15" fill="url(#g5)"/>
<text x="207.1" y="16.7" font-size="10.2">6D</text>
<circle cx="228.8" cy="13.2" r="2.15" fill="url(#g6)"/>
<text x="242" y="16.7" font-size="10.2">7D</text>
</g>
<g transform="translate(0.5 473.8)">
<path d="M45.4 34.4L49.1 156.2M61.4 33.1L64.5 153.2M76.6 32L79.2 150.3M92 30.8L94 147.4M106 29.7L107.5 144.8M120.3 28.6L121.3 142.1M134 27.5L134.5 139.5M37.8 53.1L147.6 42.8M38.3 69.6L147.6 57.6M38.9 86L147.6 72.4M39.4 102.4L147.6 87.2M39.9 118.8L147.6 102M40.5 135.3L147.6 116.8M41 151.7L147.6 131.6M158.2 28.9L157.3 142.4M169.5 31.5L167.8 148.1M182.1 34.4L179.3 154.5M195 37.3L191.2 161M209 40.5L204 168.1M147.6 42.8L223.4 63.5M147.6 57.6L222.6 81.1M147.6 72.4L221.7 98.8M147.6 87.2L220.9 116.5M147.6 102L220.1 134.1M147.6 116.8L219.2 151.8M147.6 131.6L218.4 169.4M49.5 164.2L157.3 142.4M58.3 171.2L167.8 148.1M68.1 179L179.3 154.5M78.2 186.9L191.2 161M89 195.5L204 168.1M113.4 201.9L49.1 156.2M129.1 198L64.5 153.2M144.7 194.1L79.2 150.3M160.4 190.2L94 147.4M176.1 186.3L107.5 144.8M191.8 182.4L121.3 142.1M207.4 178.5L134.5 139.5" stroke="#e6e6e6" stroke-width="1" fill="none"/>
<path d="M37.2 35L147.6 26.5L224.3 44L218.1 175.9M147.6 26.5L147.6 137M41.2 157.7L147.6 137L218.1 175.9" stroke="#c6c6c6" stroke-width="1" fill="none"/>
<path d="M60.5 162.7L138.7 146.8" stroke="#a020a0" stroke-width="1.4"/>
<path d="M71 166L140.4 151.6" stroke="#9a30f0" stroke-width="1.4"/>
<path d="M81.9 169.2L143 156.1" stroke="#1a1a90" stroke-width="1.4"/>
<path d="M93.9 172.5L146.3 161.4" stroke="#1a9a1a" stroke-width="1.4"/>
<path d="M105.9 176.2L149.2 166.4" stroke="#ff20ff" stroke-width="1.4"/>
<path d="M117.9 179.5L151.8 171.9" stroke="#2020f0" stroke-width="1.4"/>
<path d="M130.6 182.8L155 177.7" stroke="#ff1a1a" stroke-width="1.4"/>
<path d="M157.3 57.5L156.4 131.1" stroke="#a020a0" stroke-width="1.4"/>
<path d="M164.2 62.4L163.3 132.9" stroke="#9a30f0" stroke-width="1.4"/>
<path d="M171.3 69.3L170.4 132" stroke="#1a1a90" stroke-width="1.4"/>
<path d="M178.6 76.9L177.7 133.3" stroke="#1a9a1a" stroke-width="1.4"/>
<path d="M186.4 84.2L185.5 131.5" stroke="#ff20ff" stroke-width="1.4"/>
<path d="M194.2 94.2L193.3 130.2" stroke="#2020f0" stroke-width="1.4"/>
<path d="M202.4 103.8L201.5 130.7" stroke="#ff1a1a" stroke-width="1.4"/>
<polyline points="73.7,101.6 83.3,131.8 96,72.3 71.6,107.5 81.5,140.5 92.9,82.7 123.8,76 120.9,69.5 75.4,90.1 106.7,81 90.8,81.6 93.2,136.9 114.5,68.9 76.9,110.1 69.3,89.1 111.8,67.2 64.9,111.4 82.5,130.5 87.2,136 100.2,81.5 85.8,88.3 71.2,79.8 73.5,137.9 83.1,139.8 128.3,69.5 90.1,101.1 115.7,69.8 70,122.1 106,82.8 77.5,90.8 85.9,128.3 84.5,137 82.3,85.2 80.4,135.8 81.8,77.8 101,75.2 83.4,74.9 108.2,85.6 79.5,87 81.7,76.7 75.2,130.9 89.8,76.9 67.9,133.3 107.8,71.7 87,132.3 94.3,73.7 76.4,100.9 73.7,95.1 109.7,84 69.4,96.5 75.3,111.6 74.4,114.8 117.1,62.4 126.2,70 113.9,69.5 77.5,78.7 132.6,94.4 92.3,140.6 71.4,122 73.4,85.3 116.2,75.7 68.3,122.4 77.1,93.8 82.1,114.2 75.9,103.5 98.6,80.6 123.2,73.7 94,138.1 76,86.3 81.6,134 76.5,116.3 90.5,93.9 79.6,89.7 77.4,115.9 71.7,125.2 65.7,123.3 71.8,85 119,77.4 72.7,99 133.7,88.2 110.9,79.5 94.8,90.7 74.6,95.9 120.6,78.9 79.7,126.8 128.2,83.9 89.4,75.6 96.8,94.8 82,133.6 67.2,107.6 73.2,112.6 79.3,97.7 117.2,80.8 104.6,95 73.3,134.9 85.1,87.1 73.4,91.7 70.1,129.6 82.7,88.7 94.9,74.1 110.3,88.4 87.8,96.7 67.5,105.3 80.3,87.4 80.3,133.1 106.9,76.6 104.9,75.2 82.6,112.7 71,75.2 75.8,133.2 77.7,88.7 78.8,106.5 124.9,79.4 124.4,70.9 85.4,143.1 85.8,77.7 71,119.6 70.3,127 66.5,117.7 71.7,97.5 71,95.9 116.2,70.6 112.9,70.1 130.1,79.7 72.3,101.4 98.6,78.2 80.6,130.1 105.1,77.4 71.1,106.9 72,120.6 88.4,110.7 101.1,67.8 118.6,74.5 66.9,119.7 87.1,142.7 81,100.5 79.5,118.7 75.3,134.9 78.2,123.1 76.7,82.8 80.1,133 74.8,120 71.3,104.7 79.7,133.9 66.5,94.7 75.6,118.1 95.4,75.3 79.7,95.1 78.2,96.6 79.1,101.1 95.1,73.2 97.4,70.5 90,85.7 85.2,89.4 86.8,73.9 96.9,77.7 76.7,101.6 69.3,127.8 80.4,87.9 93,86.9 123.4,82.8 67.4,120.5 71,108.4 97.7,78.8 68.2,101.2 76,126.2 91.6,82.4 91.1,72.2 88.5,74.3 74.7,141.1 114.4,71.6 84.5,140.4 73.6,89.8 90.9,80.1 92,89.3 69.7,137.7 67.8,125.5 92.7,78.6 85.4,96.5 104.7,85.3 73.4,118.8 68.4,91.2 67,134.3 84.3,107.2 90.1,137.3" fill="none" stroke="none" marker-start="url(#m6)" marker-mid="url(#m6)" marker-end="url(#m6)"/>
<polyline points="110.6,85 78.4,109.8 102,87.2 79.8,105.3 76.1,113.2 82.6,116.7 87.5,133.9 78.3,134.8 126.7,84.1 98.1,81.7 98.1,94.7 132.2,77.3 103.8,98.4 81.4,91.8 77.7,122.4 79,122.4 113.8,75.3 100.6,76.4 77.7,109.2 76.1,122.3 105.4,104 94,87.3 83.9,108.6 81.1,122.2 82.3,98.4 94.4,94 78.3,127.5 107.6,96.1 93.9,93.4 98.7,131.4 104.4,84 128.8,74.1 74.7,125.7 101.4,145.4 93.6,83.7 71.4,105.6 121,75.2 102.3,84.3 130.8,95.6 88.6,93.9 88.3,95.3 129.1,80.7 109.5,95.7 97.4,137 104.9,88 88.5,92 96.4,120.9 101.1,85.1 103.2,105.1 86.3,83.7 95,82.3 127.5,79.2 109.4,83 81.4,109.4 113.7,80.8 98.2,77.1 107.6,141.9 83.5,104.1 72.5,135 79,111.2 83.2,92.6 90.1,128.3 96.9,122.9 85.3,147.7 86.6,109 73.5,137 95,82.4 131.3,69.8 77.8,135.9 105,82.7 97.6,122.4 122,76 80,123.6 78.5,130.8 97.3,124.8 84.9,127.5 91.8,142.4 98.4,91.2 119.5,81 120.3,91.1 85.5,85 79.3,112.2 87.8,101.1 75.6,125.2 79.5,138.5 94.7,123.9 76,119.5 98.4,76.5 86.4,112.4 87,139.6 87.9,134.9 111.3,80.2 78,129.3 99.8,90 136.9,79.8 105.4,71 87.7,128.4 86.8,91 81.9,95.5 89.5,142.9 110.8,84.2 103,74.9 118.3,73.2 91,88.3 89.1,126.2 90,114.1 108.4,80.8 88.9,134.6 119,90 94.7,85.9 138.1,78.2 86.9,107.3 110,77 70.7,111.5 128.5,85.8 79.3,125.2 83.5,117.6 85.5,136.5 110.7,81.3 92.3,139.7 88.5,87.5 93.2,132 115.6,88.2 126.2,79.6 90.2,135.1 100.1,76.9 99.8,84.9 87.2,102.6 95.1,124.7 105,93.3 80.9,107.4 122,91 83.8,97.3 106.9,145.3 89.5,84.5 82.5,122.8 81.1,137.8 129.8,92.5 93.8,123.5 133.2,90.3 87.4,101.2 87.3,139.3 99.2,111.5 115.4,83.2 81,140.1 82.7,119.8 103.1,95.2 99.1,81.7 85.9,102.7 81.7,87.4 105.8,84.3 70.6,115.5 97.8,135.5 74.5,112.4 116.9,78.3 94.9,126.9 80.2,115.6 109.1,70.5 93.8,122 126.6,82.3 125.1,79.8 91.7,105.9 96.4,138.1 127.2,75 85.9,126.3 86.8,115.7 123.2,76.2 119.6,73 98.4,85.5 71.8,111.6 113.4,82.4 125.7,71.2 95.8,140.2 89,109.1 113.3,84.5 113,85 81.1,112.3 95.7,139.8 84.3,113.3 86.8,127.4 92.9,118.3 84,93.1 85.7,98.9 139.6,88.7 91.2,97.1 114.6,78 84.3,116 72,104.8 101,84.1 84.3,97.2 82.9,84.1 129.6,79.6 82,103.2 81,117.6 83.6,86.6 80.5,112.8 96.9,84.7 72.8,102.5 114.9,74 103.3,103.3 85.9,112.6 79.5,136.1 90.8,101.9 97.9,129.6 101.5,82.1 80.6,94.2 86.3,103.9 81.9,106.8 82.9,106.9 84.1,101.9 87,122.3 90.3,84.5 93.4,95.6 101.1,90.4 102.4,99.3 95.6,86.3 92.9,84.7 86.5,100.3 79.6,120.3 81.6,125 133.5,88.1 96.9,101.5 85.3,117.6 95.2,136.2 80.6,140.6 80.6,93.7 120.1,78.3 83.7,112.2 82.4,103.8 83.7,97 96.8,148.2 104.1,82.5 107,97.4 117,79.3 124.8,76.9 75.9,135.2 89.9,111.1 108.5,145.5 100.6,147.4 106.8,90.1 110.6,80.8 85.9,119.1 89.6,89.5 95.2,90.8 123.8,86.1 79.3,120.6 121.9,75.2 83.4,109.8 88.5,135.9 92.1,103.3 93.2,136.1 100.2,77.2 88,90.8 89.4,87.7 83.3,134.3 117.8,86.7 119.5,81.7 127.7,86.5 84.6,115.3 95.8,134 93.8,119.6 100.7,145.7 78.2,115.4 110.1,79.3 81.8,123 117.4,90.1 112.8,73.4 90.5,131.9 106.7,83.6 100.4,114.5 85.3,113.9 99.4,99.4 91.1,133.7 91.2,111.8 121.9,84.7" fill="none" stroke="none" marker-start="url(#m5)" marker-mid="url(#m5)" marker-end="url(#m5)"/>
<polyline points="91,94.5 109.3,145.8 90.2,122.8 100.3,108.9 86.3,112.9 92.4,124.9 138.5,86.2 116.1,90.8 129,89 101.2,112.2 113.9,142.8 110.6,89.4 113.4,87.6 94.9,88.8 106.3,138.3 132.6,86.5 86.7,125.4 88.5,130.6 92.3,96.9 107.9,92.1 108,93.2 92,130.6 92.5,110.1 95.8,102.4 91.8,109.1 82.1,100.4 95.7,149.2 98.7,135.1 89.6,107.6 107.9,123.4 88.3,120.6 95.2,103.5 84.3,123.7 113.3,87.9 116.7,84.8 87.8,124.8 98.1,107.6 126.9,81.1 93.1,101.9 111.6,95.7 91.7,101.6 98.3,106.5 103.2,108.3 126.3,84.8 105.9,99.2 87.3,118.4 99.9,106.3 92.8,104.2 118.6,83.6 115.1,86.8 108.8,123.9 93.6,97.2 95.2,119.6 94.6,128.7 98.2,93.8 87.6,114.1 132.7,90 98.3,144.1 119,88.3 111.1,143.7 89.7,138.3 102.9,105.4 92.6,128.5 104.6,143.9 131.9,86.5 100.5,95.6 100.3,105.2 139,94.2 106.4,140.1 112.9,90 98.8,97.3 121.1,87 101.4,127.2 96.8,88.3 129.9,87 106.9,90.5 108.2,89.1 130.1,91.2 113.8,89.9 106.9,126.5 92.7,147.6 111.1,91.9 97.7,113.4 88.9,104.4 89.8,98.5 98.3,119 96.3,113.6 116.1,81.4 93.1,109.5 137.2,91.8 95.1,117.8 111.8,92 98.9,134.2 94.9,114.4 94.9,105.7 91.7,108.3 97,103.8 118.8,86.7 102.1,91.4 116.1,85.7 105.6,96.9 86.5,114 99,149 97.7,128.5 88.4,91.1 134.1,92.5 94.9,87.6 101.4,115.7 115.5,101.4 124.9,97.7 102.2,97.5 94.5,143.1 94.1,131 91.6,125.5 93.8,117.2 92.8,129.4 87.1,94.2 133.4,93.9 92.9,98.5 94.9,128.9 83.2,137.4 117.8,91.4 94.2,108.9 106,101.2 98.9,92.4 90.7,121.7 137.4,98.2 120.3,88.4 98.3,120.4 120.3,84.9 103.5,94.3 91.2,135.2 88.8,106.3 94.3,134.1 113,93.1 108,90.3 91.8,120.7 96.7,132.8 113.5,93.6 105.3,123.3 98.6,88 100.1,87.7 125.9,91.3 90.4,116 94.3,98.8 89.2,118.4 136.1,79.4 115.1,143.6 128.1,92 122.5,83.6 104.3,90.9 94.5,111.5 101.5,109.4 86.9,144.6 131.1,85.6 91.5,123.4 89.1,137.9 95.2,91.9 102.6,102.5 112.9,139.7 104.4,125.9 125.5,95.8 91.8,95.6 131.1,81.4 111.4,94.9 93.2,93 102.1,113.2 121.9,100 101.1,126.5 104.7,101.3 95.7,95.8 101.4,92.9 99.4,126 96.4,88.9 100.3,99 98.8,133.3 103.4,88.5 95.5,92 131.1,97.3 115.1,139.8 126.2,85.4 100.8,121.5 92.3,129.8 88.7,89.5 99.7,122.8 139.7,91.4 94.5,99.5 100.7,118.7 107.7,102.6 90,119.2 109.3,139.3 137.9,93.4 87.3,123.1 89.6,114.6 95.6,99.1 92.7,116.8 119.7,82 98,99.1 97,103 89.1,132 132.1,96.1 90.9,127.9 124.4,99.8 97.3,116.1 95.7,107.7 102.2,88.3 98.3,102.3 106.9,141.6 96.6,108.6 96.7,109.3 107.2,120.9 99.8,145.8 106.5,86 94.3,139.4 132.7,77.7 99,139.5 93.1,106.4 142.2,98.2 87.7,118.6 98.7,125.2 97.1,97.9 118.2,93.5 91.2,140.9 137.3,89.8 93.1,112.4 99.1,129.5 123.4,93.7 92.8,114.9" fill="none" stroke="none" marker-start="url(#m4)" marker-mid="url(#m4)" marker-end="url(#m4)"/>
<polyline points="126.1,88.4 104,136.8 97.6,141.7 112,141.8 100.8,141.5 96.2,125.8 103.1,136.8 98,110.4 98.6,123.3 113.7,100.9 127.9,98.2 104.2,108.3 112.2,103.5 118.2,96.5 104.6,142.1 108.2,101.4 100,138.8 103,114.6 125.9,142.3 122.3,92.7 143.1,92.7 103,139.9 99.9,134.8 120.9,98.4 102.9,117.2 122.5,88.7 107.3,105.6 110.3,100.5 141.8,99.1 107.3,109.5 144,105.1 110.9,105.3 101.1,122.6 103.3,139.6 114.2,102.3 130.1,88.9 123.8,96.6 100.8,116.2 100.7,106 115.3,139.4 118.4,101.4 117,139.9 111.1,102.5 122.5,93.6 96.2,130 116.1,148.5 113.5,94.4 128.7,94.6 114,97.5 98.5,128.6 116.5,143.8 110.9,124.2 121.5,97.5 110.8,106.9 98.7,110.5 105.9,108.7 114.4,93.6 107.3,99.7 131.2,91.5 106.4,105.8 141.5,92.4 110.7,93.4 98.1,114.5 117.4,99.1 101.4,123.1 102.5,120 104.4,139.9 113.3,96.4 118.1,95.4 128.3,95.4 146.8,109.4 111.9,98.6 122,94.6 113.3,108.8 123.7,101.4 102.2,110.5 106.9,119.9 116,99.8 108.4,127.7 118.6,90 101,131.9 109.4,107.3 107.9,89.7 116.1,125.8 119,124 111.7,142.9 143.1,100.8 99.8,105.3 119.9,103.1 106.5,118.3 105.2,121.2 101.6,133.8 119.9,94.4 106.1,129.6 100.2,117.5 107,99.5 105.9,125.1 103.9,125.1 120.8,103.1 104.2,122.3 100.5,133.5 116,94.4 118.5,104.3 106.8,136.3 117.4,142.5 126.6,93.7 100.7,127.6 114.1,108 111.7,110.7 100.4,135.5 127.1,91.5 102,112.3 105.2,114.5 105.1,111.8 103.3,123.5 109.4,138.5 106.1,112.6 103.4,110.9 105.1,128.6 123.1,105.2 100.2,140.2 107.8,132.9 120.7,97 110.9,136.8 103.8,128.9 101.1,130.4 110.4,99.5 105.3,139.5 103.7,101.4 104.9,117.6 109.4,128 107.1,98.8 104.8,132.5 123.6,101.9 103.5,114.5 107.2,99.5 110,98.4 125,99.6 109.1,103.3 122.3,119 105.9,130.8 112.9,130.2 121.9,102.8 114.7,102.7 109,103.1 107.2,114.7 119,100 107.2,117.7 137.4,92.8 114.6,96.3 109.9,143.8 106.4,142.1 115.3,109.8 109.6,143.7 130.9,143.1 114.4,120.3 104,135.3 104.7,128.6 124.3,88.4 104.1,130.5 123.3,90.9 140.4,103 120.4,100.9 106.7,110.3 103.2,130.1 108.4,113.1 106.1,108 94.8,113.4 105.7,134.9 117.5,115.9 102.6,135.7 100.5,102.3 100.1,137.8 115.1,107.7 110.8,107.7 119.4,89" fill="none" stroke="none" marker-start="url(#m3)" marker-mid="url(#m3)" marker-end="url(#m3)"/>
<polyline points="121.5,143.9 116.3,108.9 114.3,134.9 108.9,131.2 135.3,96.5 109,116.4 147,98.1 109.8,109.9 119.6,98.9 127.7,94.7 116.5,127.6 117.4,118.3 122,106.4 136.9,95.3 108.4,135.8 131.3,99.3 113.3,133.3 137.9,96.2 108.6,115 112.2,118.9 145.8,108.7 111,112 136.7,97.3 119.1,121.5 124.6,102.7 119.8,127.6 123,107.4 119,114 118.8,130.4 118.8,118.9 123.6,107.8 121.3,107.6 115.2,134.1 136.9,103.7 120.6,123.4 143.4,106.3 110.1,139.4 119.7,126.7 136.9,115.6 134.1,102.5 127.3,143.3 118.2,107.4 113.8,118.2 114.6,131.9 140.2,100.8 116.6,129.7 145.6,109.3 111.5,114.8 125.8,109.4 122.4,143.1 144.9,97.4 111.6,137.6 120.3,108.9 125,107.7 119,141.7 118,106.3 112.1,125.3 121,142 113.7,105.9 119.9,105.4 125.4,104.8 116.8,124.1 117.6,137.3 114.3,129.7 134.3,94.6 118.4,109.8 139.3,106.1 121.6,140.4 136.4,99.7 113.1,122.1 116.9,130.6 115.8,133.7 111.2,117.3 116.1,121.7 129.9,102.7 129.2,108.4 119.1,104.7 130,109.1 113.5,128.4 135.1,101.2 114.4,144.5 110.3,130.3 115.8,145.8 110.6,126.6 112.3,137.7 106.6,115.7 118,144.2 124.6,106.8 137.1,92.7 122.1,117.1 109,124.2 135,99.5 120.3,129.9 109.7,128 110.7,141.2 113.5,143.5 113.9,126.6 111.7,114.3 117,138.5 125.7,105.1 125.9,103.5 112.1,111.4 123.3,111.1 120.5,139.7 120.5,110 125.6,112.1 141.4,106.1 112.3,126.1 134.2,99.1 138.5,101.6 118.2,110.5 116.7,119.9 111.2,116.6 111.8,121.9 110.7,131.1 116.4,113.5 116.4,106.6 128.7,99.9 116.3,118.8 132,105 111.3,135.8 115.5,132.4 119.7,117.1 138.7,101.1 129.4,103.7 119.2,120.8 118.4,134.5 110.3,134.2 114.3,115.4 109.4,118.9 133.5,101.7 127.7,100.2 127.4,99.3 129.1,105.6 130.9,106.5 131.6,106.4 125.9,108.5 125.5,107.4 138.1,115 112.4,116.3 124.2,114 117.7,120.4 117.5,111.7 126.7,101.7 116.1,104.4 119.1,112.4 121.6,111.3 128.4,98.3 115.2,127.5 115.5,125.9 119.5,110.9 128.7,99.3 109.3,121.3 126.1,102.5 115.4,136.6 113.4,125.4 138.1,105.8 111.6,130.1 114.9,118.1 118.8,133.1 135.2,104.6 118.5,137.3 119.6,98.3 131.6,102.2 127,104.6 129.1,110.1 110.8,133.8 142.7,109 108.4,126 115.4,123.6 131.3,99.5 137.9,106.7 116,108.4 115.5,139.4 135.6,107.5 115.3,115.8 121.7,113 131,102.2 114.4,111.6 118.9,133.2 130.9,109.9 115.1,132.3 128.5,104.9 121.4,139.2 116.8,105.2 118.4,139.9 113.3,112.8" fill="none" stroke="none" marker-start="url(#m2)" marker-mid="url(#m2)" marker-end="url(#m2)"/>
<polyline points="134.1,108.6 146.5,110.3 135.5,114.3 146.3,111.5 125.3,113.8 126.2,122.7 132.4,144.1 125.6,135.8 122.8,115.1 151.1,113.2 122.6,120.2 125.2,130.9 150,116.5 133.3,107.7 127.1,107.7 127,139.1 133.8,105.9 132.2,109.8 131.3,141.7 141,113.4 120.2,130.3 127.5,133.1 134.8,116.4 133.4,140.5 123,140.9 123.9,125 121.3,114.4 149,117.4 140.6,116.4 131.4,140 129,143.2 126.4,137.9 139.6,110 119.4,126 134.8,110.1 142.9,107.6 143.2,113.3 120.6,124.6 123.7,135.5 130.1,134.3 144.4,111.7 124.7,119.1 121.3,131 126.6,130.6 137.7,107 132.8,122.7 134.5,116.3 126.7,113.7 140.6,107.8 120.3,137.9 146.2,106.3 133.4,110.9 123.5,139.6 137.8,113.9 120,138.2 135.5,112.3 124.4,141.2 140.4,116.9 124.8,119.9 146.1,110 123,137.7 130.1,110.5 124.4,139 139.2,112.1 129.7,137 123.5,144.5 122.8,134 147.7,116.4 121.2,134.9 124.6,133.7 128.7,140.3 141.5,117.1 136.7,110.2 122.8,126.5 136.9,107 125.1,139.9 122.9,116.6 124.7,121.5 125.2,116.9 129.5,114.8 121.1,132.6 138.3,114.1 134.7,119.4 125.8,127.2 128.3,135.3 143.7,112.5 127.7,112.4 128.1,126.3 147,113.3 134.5,117.5 132.4,113.5 142.5,110.4 145.9,113.2 122.5,123.9 133.5,116.2 127.6,117.3 121.4,120.7 123.6,131.8 131.8,138.4 128.7,131.2 122.5,129.4 134.2,115.3 128.7,126.2 128.8,127.5 143.9,115.1 130.1,112.1 121,131.6 138.4,109.5 134.2,113.6 129.7,125.8 129.8,118.1 126.6,119.5 126.4,108.7 139.9,113.5 131,139.3 132.6,118.5 133.6,112.3 136.2,119.3 128.3,123.4 126,112.7 132.4,116.1 131,123.1 126.6,142.4 125.4,121.2 122.5,127.1 120.9,123.5 126.4,134.2 131.8,132.6 129.2,131.4 132.7,111.2 121.5,127.1 130.1,123.1 129.7,121 130,110.9 125.6,118.2 132.2,117.7 138,117.9 144.8,115.4 121.1,132.3 139.8,113.3 130.1,118.6 127.3,142.1 129.2,130.2 139.2,109.1 127.5,136.9 131,125.6 122.3,121.3 125,129 132.5,113 131.5,123.8 131.4,118.6 127.5,129.9 136,110.3 124.3,140.5 132.1,120.2 122.4,121.1 129.4,127.2 129.5,110.6 126.9,121.2 131.4,139 124.8,115.1 131.7,119 125.3,125.3" fill="none" stroke="none" marker-start="url(#m1)" marker-mid="url(#m1)" marker-end="url(#m1)"/>
<polyline points="152,120.6 151.7,135.4 133.4,123.9 143.8,115.8 152.2,134.5 144.9,120.1 134.2,140.5 144.1,117.3 141.1,143.9 137.6,143 151.1,120.7 152.1,123.5 147.4,140 151,135.7 136.6,140.4 152.1,121.8 139.6,117.1 147.2,139.9 138.7,138.3 133,133.4 132.1,135.3 134.4,134.5 130.7,134.4 130.7,130.1 143.5,119.3 139.8,143.7 134.1,132 149.1,137.6 141.6,117.5 140.9,125 134.9,132.1 145.2,121.6 150.4,125.6 141.1,127.9 134.1,125 136.1,120.3 143.2,141.4 141.6,129 140.6,122.2 133.1,139.3 135.8,132.6 144,134.2 145.2,123.5 139.5,129.3 146.9,116.4 142.9,124.3 146.1,121.1 140.5,130.5 138.9,129.8 142.4,139.7 147.7,123.8 147.1,124.4 149.8,123.3 148.2,130.2 137.9,119.7 142.4,129.9 148.6,121.8 151.3,122.9 133.2,135.5 145.1,140.2 142.6,131 138.9,133.4 147.6,119.3 151.7,133.3 146.6,134.4 144.7,126 141.5,134.3 137.1,121.9 146.6,117.3 146.6,132.8 152.9,129.8 150.4,133.2 136.6,132.6 135.4,121.7 133.8,135.3 143.8,132.3 137.5,131.8 138.7,122.2 136.7,135.6 133.2,128 150.7,120.8 137,137.3 137.4,138.1 150.9,135.1 153.5,127.4 145.8,130.5 152.8,131.2 134.3,131.4 140.2,139.9 141.2,138.7 150.2,129.9 137.3,124.1 139.3,134.8 135,123.2 146.1,131 140.6,118.9 151.4,127.4 149.7,134.1 144.5,136.1 151.3,130.7 134.4,130.6 142.8,117.8 136.5,139.4 139.6,125.6 151.5,123.1 151.5,126.5 143.2,127.6 149.7,119.9 139.1,122.6 137.8,127.5 141.8,132.3 136.2,136.7 141.3,121.3 148.7,127.3 138,130 136.7,129.1 147.3,138.2 141.6,136.8 142.4,120.3 137.2,131.1 138.9,119.9 142.9,134.4 131.1,127.9 141.1,129.4 138.7,117.4 145.6,136.3 150.3,127.6 137.9,141.8 134.8,138.5 138.6,120.5 133,128.8 152.8,131.6 144.3,137.9 145.9,125.4 146.9,135.5 154.8,125.1 148.3,117.8 148.4,133.3 146.6,130.7 132.5,130.6 140.7,125.7 146.1,126.2 134.6,138.8 152.3,125 146,140.7 151,134.6 135.5,126.9 148.4,135 150.5,126.3 140.6,142 147.5,127.6 145.9,128.9" fill="none" stroke="none" marker-start="url(#m0)" marker-mid="url(#m0)" marker-end="url(#m0)"/>
<path d="M37.2 35L41.2 157.7L101 205L218.1 175.9M37.3 36.7l-2.5 0M37.8 53.1l-2.5 0M38.3 69.6l-2.5 0M38.9 86l-2.5 0M39.4 102.4l-2.5 0M39.9 118.8l-2.5 0M40.5 135.3l-2.5 0M41 151.7l-2.5 0M41.2 157.7l-2.2 1M49.5 164.2l-2.2 1M58.3 171.2l-2.2 1M68.1 179l-2.2 1M78.2 186.9l-2.2 1M89 195.5l-2.2 1M101 205l-2.2 1M113.4 201.9l0.8 2.4M129.1 198l0.8 2.4M144.7 194.1l0.8 2.4M160.4 190.2l0.8 2.4M176.1 186.3l0.8 2.4M191.8 182.4l0.8 2.4M207.4 178.5l0.8 2.4M218.1 175.9l0.8 2.4" stroke="#2a2a2a" stroke-width="0.9" fill="none"/>
<text x="33.7" y="39.3" font-size="7.6" font-weight="bold" text-anchor="end" stroke="#111" stroke-width="0.25">180</text>
<text x="34.2" y="55.7" font-size="7.6" font-weight="bold" text-anchor="end" stroke="#111" stroke-width="0.25">160</text>
<text x="34.7" y="72.2" font-size="7.6" font-weight="bold" text-anchor="end" stroke="#111" stroke-width="0.25">140</text>
<text x="35.3" y="88.6" font-size="7.6" font-weight="bold" text-anchor="end" stroke="#111" stroke-width="0.25">120</text>
<text x="35.8" y="105" font-size="7.6" font-weight="bold" text-anchor="end" stroke="#111" stroke-width="0.25">100</text>
<text x="36.3" y="121.4" font-size="7.6" font-weight="bold" text-anchor="end" stroke="#111" stroke-width="0.25">80</text>
<text x="36.9" y="137.9" font-size="7.6" font-weight="bold" text-anchor="end" stroke="#111" stroke-width="0.25">60</text>
<text x="37.4" y="154.3" font-size="7.6" font-weight="bold" text-anchor="end" stroke="#111" stroke-width="0.25">40</text>
<text transform="translate(38.2 162.3) rotate(4) skewX(-20) scale(1 0.72)" font-size="6.2" font-weight="bold" text-anchor="end">1200</text>
<text transform="translate(46.5 168.8) rotate(4) skewX(-20) scale(1 0.72)" font-size="6.2" font-weight="bold" text-anchor="end">1000</text>
<text transform="translate(55.3 175.8) rotate(4) skewX(-20) scale(1 0.72)" font-size="6.2" font-weight="bold" text-anchor="end">800</text>
<text transform="translate(65.1 183.6) rotate(4) skewX(-20) scale(1 0.72)" font-size="6.2" font-weight="bold" text-anchor="end">600</text>
<text transform="translate(75.2 191.5) rotate(4) skewX(-20) scale(1 0.72)" font-size="6.2" font-weight="bold" text-anchor="end">400</text>
<text transform="translate(86 200.1) rotate(4) skewX(-20) scale(1 0.72)" font-size="6.2" font-weight="bold" text-anchor="end">200</text>
<text transform="translate(98 209.6) rotate(4) skewX(-20) scale(1 0.72)" font-size="6.2" font-weight="bold" text-anchor="end">0</text>
<text transform="translate(114.2 205.3) rotate(38)" font-size="4.3" font-weight="bold">150</text>
<text transform="translate(129.9 201.4) rotate(38)" font-size="4.3" font-weight="bold">100</text>
<text transform="translate(145.5 197.5) rotate(38)" font-size="4.3" font-weight="bold">50</text>
<text transform="translate(161.2 193.6) rotate(38)" font-size="4.3" font-weight="bold">0</text>
<text transform="translate(176.9 189.7) rotate(38)" font-size="4.3" font-weight="bold">-50</text>
<text transform="translate(192.6 185.8) rotate(38)" font-size="4.3" font-weight="bold">-100</text>
<text transform="translate(208.2 181.9) rotate(38)" font-size="4.3" font-weight="bold">-150</text>
<text transform="translate(218.9 179.3) rotate(38)" font-size="4.3" font-weight="bold">-200</text>
<text transform="translate(8.8 60.6) rotate(90)" font-size="14.5">Position-Z(m)</text>
<text transform="translate(17.6 173.2) rotate(40) skewX(-24) scale(0.81 1)" font-size="10.8" font-style="italic">Position-X(m)</text>
<text transform="translate(137.1 215.1) rotate(-14) skewX(-8) scale(1.4 1)" font-size="10.6" stroke="#111" stroke-width="0.15">Position-Y(m)</text>
<rect x="160" y="144.5" width="45.4" height="24.2" fill="#70ad47" stroke="#111" stroke-width="1.1"/>
<text x="182.7" y="162.5" font-size="17" font-weight="bold" text-anchor="middle">Mnpl</text>
</g>
<g transform="translate(290.4 476)">
<rect x="8.4" y="7.1" width="245" height="12.4" fill="#fff" stroke="#555" stroke-width="1"/>
<circle cx="19.6" cy="13.2" r="2.15" fill="url(#g0)"/>
<text x="32.8" y="16.7" font-size="10.2">1D</text>
<circle cx="54.5" cy="13.2" r="2.15" fill="url(#g1)"/>
<text x="67.7" y="16.7" font-size="10.2">2D</text>
<circle cx="89.3" cy="13.2" r="2.15" fill="url(#g2)"/>
<text x="102.5" y="16.7" font-size="10.2">3D</text>
<circle cx="124.2" cy="13.2" r="2.15" fill="url(#g3)"/>
<text x="137.4" y="16.7" font-size="10.2">4D</text>
<circle cx="159.1" cy="13.2" r="2.15" fill="url(#g4)"/>
<text x="172.3" y="16.7" font-size="10.2">5D</text>
<circle cx="193.9" cy="13.2" r="2.15" fill="url(#g5)"/>
<text x="207.1" y="16.7" font-size="10.2">6D</text>
<circle cx="228.8" cy="13.2" r="2.15" fill="url(#g6)"/>
<text x="242" y="16.7" font-size="10.2">7D</text>
</g>
<g transform="translate(289.9 474.3)">
<path d="M45.4 34.4L49.1 156.2M61.4 33.1L64.5 153.2M76.6 32L79.2 150.3M92 30.8L94 147.4M106 29.7L107.5 144.8M120.3 28.6L121.3 142.1M134 27.5L134.5 139.5M37.8 53.1L147.6 42.8M38.3 69.6L147.6 57.6M38.9 86L147.6 72.4M39.4 102.4L147.6 87.2M39.9 118.8L147.6 102M40.5 135.3L147.6 116.8M41 151.7L147.6 131.6M158.2 28.9L157.3 142.4M169.5 31.5L167.8 148.1M182.1 34.4L179.3 154.5M195 37.3L191.2 161M209 40.5L204 168.1M147.6 42.8L223.4 63.5M147.6 57.6L222.6 81.1M147.6 72.4L221.7 98.8M147.6 87.2L220.9 116.5M147.6 102L220.1 134.1M147.6 116.8L219.2 151.8M147.6 131.6L218.4 169.4M49.5 164.2L157.3 142.4M58.3 171.2L167.8 148.1M68.1 179L179.3 154.5M78.2 186.9L191.2 161M89 195.5L204 168.1M113.4 201.9L49.1 156.2M129.1 198L64.5 153.2M144.7 194.1L79.2 150.3M160.4 190.2L94 147.4M176.1 186.3L107.5 144.8M191.8 182.4L121.3 142.1M207.4 178.5L134.5 139.5" stroke="#e6e6e6" stroke-width="1" fill="none"/>
<path d="M37.2 35L147.6 26.5L224.3 44L218.1 175.9M147.6 26.5L147.6 137M41.2 157.7L147.6 137L218.1 175.9" stroke="#c6c6c6" stroke-width="1" fill="none"/>
<path d="M60.5 162.7L138.7 146.8" stroke="#a020a0" stroke-width="1.4"/>
<path d="M71 166L140.4 151.6" stroke="#9a30f0" stroke-width="1.4"/>
<path d="M81.9 169.2L143 156.1" stroke="#1a1a90" stroke-width="1.4"/>
<path d="M93.9 172.5L146.3 161.4" stroke="#1a9a1a" stroke-width="1.4"/>
<path d="M105.9 176.2L149.2 166.4" stroke="#ff20ff" stroke-width="1.4"/>
<path d="M117.9 179.5L151.8 171.9" stroke="#2020f0" stroke-width="1.4"/>
<path d="M130.6 182.8L155 177.7" stroke="#ff1a1a" stroke-width="1.4"/>
<path d="M156.5 50.2L155.6 132.4" stroke="#a020a0" stroke-width="1.4"/>
<path d="M163.2 54.8L162.3 133.3" stroke="#9a30f0" stroke-width="1.4"/>
<path d="M170.5 64.2L169.6 134.2" stroke="#1a1a90" stroke-width="1.4"/>
<path d="M177.9 72.1L177 132.4" stroke="#1a9a1a" stroke-width="1.4"/>
<path d="M185.6 80.2L184.7 131.5" stroke="#ff20ff" stroke-width="1.4"/>
<path d="M193.4 91.5L192.5 130.6" stroke="#2020f0" stroke-width="1.4"/>
<path d="M201.6 101.9L200.7 129.3" stroke="#ff1a1a" stroke-width="1.4"/>
<polyline points="75.8,77.4 90.5,137.8 87.6,138 75.2,115.7 101.2,74.7 67.4,88.2 90,97.2 123,53.8 86.4,73 87.2,77.2 74.1,135.2 94.1,85.8 75.1,132.9 72.1,100 76,112.5 79.8,125.9 92,127.3 75.7,94.5 78.4,78.8 82.8,89.8 68.8,125.7 82.9,84.4 80.2,105.5 116.9,72.8 106.5,67.4 84.8,73.7 73.4,92.2 81.8,85.1 80.4,77 83.2,106.1 91.4,81.5 75.2,81.9 72.5,82.5 79.1,76.3 127.8,67.6 72.4,139.5 80.9,81.7 92.4,61.5 78.2,121.8 66.8,85.5 102.8,67.8 80.3,121.4 71.8,132.3 91.9,72.3 85.8,112.1 105.1,116.9 79.6,92.9 105.5,67.2 63.9,99.9 73.3,150.2 86.7,114.9 79.4,105.2 99.5,64.9 88.5,96.5 68.4,118.8 79.7,105.3 63.7,129.1 73.9,121 83.9,75.3 85.6,89.3 72.3,98 71.5,114.9 76.7,90.6 72,76.1 82.6,127.2 79.7,79.4 71.3,125 69.8,132.3 75.4,120 99.8,90.6 98.4,145.7 67.1,112.2 75.8,108.2 85,90.7 96.5,63.9 83.9,72.5 62.7,103.7 69.7,87.2 70.1,84.7 122.3,53.9 124,70.6 68.3,107.2 98,71.3 114.1,69.6 103.5,68.3 90,85.9 80.8,78 74.9,120 94.4,66.1 67.9,130.8 96,74.4 80.4,92.1 69.7,142 127,72.9 86.2,111.4 101.2,89.6 92.5,74.8 91.8,83.7 86.7,87.7 83.7,96.7 85.9,120.6 86.3,89.9 94.7,73.6 65.6,105.8 121.8,78 81.4,71.3 86.1,135.4 72.1,116.2 109.7,68.5 63.9,111.1 94.4,99.3 95,86 118.3,73.8 115.9,68.1 75.5,90.8 84.2,110.8 80.4,137.6 71.7,79 75.9,93.6 74.8,110 90.5,135.2 99.3,66.7 79.8,90.1 93.6,82.2 93.2,75.2 91.6,70.1 105,76.8 61.8,102.9 84.7,104.2 67.5,103 77.1,76.2 108.9,68.5 94.1,70.8 80,128.4 77.4,87.7 83.6,81.6 121.3,66 92,83.2 79.6,103 80.8,110.8 73.8,122.6 67.1,104.4 83.8,113.4 76.2,82.9 117.1,58.6 79,129.9 71.3,132.6 83.8,103.2 81.2,105.1 71.2,109.5 106.5,57.8 75.9,138.9 75.4,123.7 78.6,138.3 83.2,70.8 74.5,111.2 73.8,113.9 93.5,79.5 118.6,75.4 89,103.8 100.1,64.9 81.8,83 66.9,132.8 108.1,67.5 83.4,138.4 87,84.9 71.4,96 73.9,111.7 79.4,88.7 82.4,101.1 87,65.2 88.9,129.3 102.1,65 95.1,144.1 90.8,70.4 128.2,64.1 114.1,74 134.4,62.3 75.5,118.6 101.2,73 77.5,140.2 72.8,112.1 72.5,80.6 73.5,126" fill="none" stroke="none" marker-start="url(#m6)" marker-mid="url(#m6)" marker-end="url(#m6)"/>
<polyline points="83.5,109.7 98.2,95.2 120.5,102.7 73.5,107.3 80.2,94.9 93.7,76.1 79.7,120.3 110.6,137.9 93.9,137.4 85.9,101.1 90.5,127.4 110.1,140.1 88.7,142.2 104.2,73.9 77.2,93.5 92.4,120 106.4,71.8 87.5,66.7 80.8,97.8 89.4,87.3 98.9,82.1 80.8,120.5 87.6,113.9 87.1,103 85.7,85.6 87.5,82.4 97.6,144 120.6,65.2 95.3,71.4 87.9,87 118.4,76.2 79,132 96.6,77.5 104,91.1 77.2,95.5 72.9,117.5 97,139.2 86.2,95.7 112.7,66.6 81.2,119.8 87.9,108.8 81.2,144.6 88,88.8 129.9,86.5 96.3,82.7 78.8,131.7 76.5,123.1 114.4,72.9 85.7,123.6 83.2,98.2 85.5,80.1 80.3,97 89.5,100.8 99.2,77 78,98 101.1,70.8 95.3,77.4 80.3,105 82.9,114.6 105.6,72.2 110.7,84.6 87.6,127 83,131.6 101.8,81.9 110.3,75.9 119.9,68 109,82.8 90,76.5 75.9,112.9 94.7,82.1 80,100.5 124.1,71.5 85.3,81.5 87.2,123.2 89.7,124.8 99.6,75.2 81.8,130.7 102.2,77.2 77,100.2 91.7,139 97.5,143.3 71.3,128.8 87.1,114.7 86,121.4 78.2,94.9 114.1,65.2 86.4,99 87.4,129.2 76.7,88 97.4,90 98.1,85.5 97.3,144.2 121,74.3 105.6,94.5 92.6,121.2 84.9,103.7 105.1,73.1 103.2,119.6 86.6,116.9 81.7,115.5 78,113.7 87.6,91.4 94.2,121.3 87.9,134 90,96 125.2,70.3 101.5,88.5 91.1,144.2 101,119.7 124.6,79.3 92.4,142.9 74.1,89.1 131.4,84.2 87.9,107.3 108.2,73.9 102.1,88.7 111.9,141.3 83.7,127.4 90.2,88.9 77.6,117.4 98.7,88.3 119.2,84.4 82.5,84.6 100.9,87.6 98.7,77.2 92.3,137.8 80.5,116.9 82.1,94 110.5,136.9 113.8,81.4 73.6,117.6 79.5,119 84.3,127.8 88.3,82.1 83.7,117.5 108.3,84.9 81.2,94.9 101.7,79.1 78.2,136 97.5,74.7 112,73.9 98.7,92.7 84.1,126 100.6,79.9 91.8,135.6 89.7,108.8 92.6,76.3 88.8,111.2 76.3,102.6 89.6,135.4 101.4,111.8 97.9,71.9 103.7,78.4 78.7,102.7 99.8,82.9 116.6,68.3 115.8,93.6 104.1,78.5 101.1,63 115.9,77 111.3,77.9 84.4,127.6 84.2,98.7 97.6,101.6 85.7,136.9 73,107.6 78.5,109.1 98.2,78.8 90.8,108 85.8,109.5 87.3,127.4 83,100.1 106.8,145 78.6,114.9 95.6,87.7 108.2,68.2 96.6,136.6 83.1,120.5 110.8,87.5 109.9,81.8 97,88.9 106.8,78 96.6,84.6 122.7,75.9 127.8,80.3 104.9,70.1 135.1,85.6 94.3,84.3 98.9,119.2 106.7,91.2 85.6,74.9 75.8,122.9 86.7,94.4 89.8,93.9 115.7,71.4 86.3,91.9 85.6,131.1 83.2,132.7 98.7,79.5 101.7,71.3 99.5,66.5 120.3,76.1 113.7,67.1 98.1,137.8 78.2,112.9 103.2,76.3 89.9,82.7 89.2,87.7 94.7,137.1 84.2,93 86.2,90.6 82.5,142.3 115.8,80 120,103 78.2,98.1 91,144 86.8,124.4 88.6,117 103.7,88.9 94.6,113.9 85,90.9 86.3,133.6 91,88 100.9,68.6 78.8,96.8 94.2,78.8 92.2,90.4 79.7,110.5 94.3,101.5 85.3,92.8 98.1,133.6 132.3,64.6 96.8,127.2 110.9,80.4 88.9,105.1 84.6,124.8 82,133.2 93.3,132.5 116.3,68.6 107.5,75.8 73.5,109.3 91.1,78.7 89.2,93.4 95.7,91.6 109.2,73.6 89.7,117.3 89.5,101.4 120.9,83.2 104.1,72.9 86.7,127.9 99.3,85.4 83.8,105.1 126.2,77.5 89.3,81.1 98.4,118.4 91.6,137.3 134.8,73.2 87.1,130.5 113.5,86.7 96.7,105.4 121.5,68.1 96.2,113.2 134.6,71.7 104.2,88.4 72.6,93.1 109.7,66.8 83.3,85.8 95.3,124.2 91.2,118.6 99.1,113.3 111.9,71.5 134.5,81.7 99.6,100.3 90.7,114.6 81.4,140 76.6,103.2 126.7,80.5" fill="none" stroke="none" marker-start="url(#m5)" marker-mid="url(#m5)" marker-end="url(#m5)"/>
<polyline points="96.8,117 106.9,77.7 89,111.8 112.2,145.3 133.7,86.4 111.3,88.9 103,105.5 91.5,132.2 107.3,81.1 121.6,99.7 111,92.8 88.5,119.1 96.9,140.6 92.8,147.8 116,90.2 100.1,126.8 96.9,103.3 125.1,84 93.2,99.6 90.2,130.9 98.2,100.6 86.5,132.9 109.1,80.9 87.6,118.2 121,87.5 88,88 97.5,134.7 104.3,80.2 88.6,143.4 96.1,87.7 104.8,95.4 98.5,150.8 104.6,83.2 91.5,98.7 93.6,89.6 98.2,115.5 104.9,114.8 133.1,81.3 98.6,131.2 91.2,123 86,143.1 94.3,121.9 123.8,81.7 124.9,144.1 102.7,88 117,71.9 99.7,94.1 113.3,89.9 120.9,80.2 101.4,113.9 110.7,141 84.8,125.7 98.1,97 127.9,83.8 109.7,117 111.5,145.1 112.9,84.2 107.2,84.9 94.4,116.7 87.8,104 115.2,79.2 90.2,120.4 91.8,114.3 117.5,88 135.7,95.1 119.4,78.5 141.8,83.4 102.9,113.2 88,105.1 95,108 108.2,96.2 114,141.9 109,114.9 93.3,112.3 102.4,122.8 94.8,111.2 92.3,94.6 118.6,90.4 92.1,107.2 101.4,94.7 85.1,127.8 129.3,95.8 94.2,126.5 106.8,97.2 110.1,96.5 100,96.7 108.9,80 83.5,118.6 84.8,118.7 106.9,82 104.2,118.9 100.8,122.7 101.9,105.2 99,136.1 93.1,124.2 99.1,102.3 98.3,107.2 98.1,104.2 134.5,94.6 109.6,88.6 104.9,146.7 103.5,87.5 95,119.8 87.9,100.4 118.2,79.5 123.6,78.9 97.2,104.4 95.6,94.3 93.6,92 94.9,115.9 95.6,104.3 92.6,128.6 91.3,102 88.8,133.5 114.9,87.7 85.2,125.1 128.4,81.5 104.2,86.9 114,71.9 122,84.2 112.5,85.4 112.8,90.7 96.8,88.2 134.8,89.5 115.8,83.1 88.5,114.2 110.8,90.1 118.9,102.5 94.3,97.2 92,89 93.8,103.4 103.6,92.7 124.3,90.3 89.5,118.6 102.2,108.6 103.5,84.8 135.6,88.9 96.1,122.6 101.2,140.2 88.2,124.6 94.3,135.5 114.9,103.7 102.8,118.8 102.4,104.8 89.1,107 102.2,94.5 96.6,146.5 90.2,112.5 100.7,83 95.2,118.2 97.6,134.3 91,92.6 112.4,146.3 99.8,102.7 96,84.1 94.6,133.5 95.4,131.9 120.7,76.5 97.2,109.4 87.3,94.6 110.8,90.4 96.2,93.2 119.1,89.6 102.9,94 126.1,84.5 109.6,76.9 127.2,77.2 99.2,141.9 108.3,80.3 94,106.1 96.3,80.5 113.8,76 117.8,83.3 93.7,130.7 92.8,94.1 91.8,96.8 101,104.9 82.6,133.7 109.9,132.3 124.7,82.1 91.3,116.4 114.1,78.4 103.5,143.4 108.4,128.5 95,126.9 84.7,102.3 95.2,129.3 93.6,107.9 102.5,94.9 93.3,122.7 95.6,110.4 89.7,131.8 96.2,96.4 87.7,111 92.5,129.7 105,137.2 107.2,86.2 100.9,85.1 90,132 101.1,134.4 109.2,101.5 128.6,77.9 103.9,135 122.2,88.8 99.2,137.1 120.7,82.4 103.5,141.9 108.2,87.9 87.6,117.9 114.4,79.4 115.5,85.9 103.5,102.5 116.2,77.4 104.7,140.9 85.8,102.9 91.8,110.3 110.9,98.5 98.1,129.7 100.5,96.8 91.9,105.6 102.5,109.7 118.1,87 97.9,124.1 125.7,86.1 107.5,98.2 98.2,116.4" fill="none" stroke="none" marker-start="url(#m4)" marker-mid="url(#m4)" marker-end="url(#m4)"/>
<polyline points="122.9,93.3 107.1,138.6 102.9,132.6 109.7,94.5 116.6,128.6 96.9,104.5 131.5,82.7 99.7,116.1 107.4,136.5 135.4,82 104.1,112.1 131.9,83.7 96.6,128.3 116.7,82.6 104.6,112.8 106.4,127.4 102,91.7 125.8,87.6 109.9,99.4 100.6,123.4 110.6,134.6 139.7,93.5 100.1,108.9 112.4,83.7 121.7,103.7 106.2,129.7 105.7,118.8 138.7,100.4 117,95.5 106.4,136.9 108,86.5 118.4,81.5 106.3,141.8 110.2,94.2 112.8,103 111.9,96.3 103.3,104.2 120.6,80.6 117.2,86.2 104.6,107.9 107.2,111.6 103.1,139.1 119.6,141.6 118.2,88.7 104.9,96 118.3,142.1 97.7,109.5 107.9,100.8 96,110.2 102,109.1 102,100.4 99.6,119 103.5,132 137.2,100.9 119.8,138.9 108,94.1 105.9,99.2 127.2,82.5 106.5,139.1 126.7,90.9 96.1,113.9 108.1,89.1 118.3,92.5 99.5,127.2 106.6,108 110.1,126 123.2,102.6 105.3,100.9 110.3,103.5 99.1,118 111,123.2 96,125.9 100.3,119.3 99.9,129.5 132.9,91.1 125,93 102.2,115.6 114.4,96.6 106.2,110.3 111.9,136.7 115.9,112.8 112.1,92.3 124.4,95.7 99.3,111.7 112.9,132 122.1,92.1 109.1,103.6 105.2,113.2 102.3,95.9 104,131.4 128.2,89.2 115.7,92.1 108.4,91 96.6,120.5 102.7,141.9 106.6,104.3 132.3,87.9 104.5,99.3 104.5,145.1 111.5,99.8 131.1,80.4 115,119.4 97,122.8 106.5,105.9 99.7,118.3 101.8,115.9 134.4,97.7 141.9,92.4 94.6,134.8 107.2,89.7 118.6,130.7 115.1,112.2 106.9,131.8 127,85.2 99.3,108.4 103,123.7 105.9,124.8 129.9,85.1 102.3,142.5 109,120.9 112.8,100.2 99.9,135.1 95.3,131.8 103,126.6 108.2,111.5 100,122.5 101.1,142.3 128,87.8 121.3,90.4 102.2,137.6 101.4,99 112.5,115.9 108.3,126.5 124,97.2 125.6,96.3 121.5,141.2 106.7,109.6 109.4,135.4 104.6,121.7 100.1,102.1 100,106.4 101.6,126.6 105.9,120.9 103.1,128.9 105.9,115.4 107.9,108.7 116.9,97.7 118.1,95.4 105.6,114.6 134.3,87.5 112.8,124.6 124.3,98.5 138.3,89.2 122.9,87 140.1,90.1 107.1,142.9 140.4,88.5 108.4,140.5 124.9,87.5 115.9,120.6 111.8,137.4 106.5,102.2 105.8,105.8 113.7,96.1 119.4,136 123.1,91.4 110.2,105 111.1,95.3 103.4,123.5 103.6,129.1 104,108.5 120,92.4 100.8,101.4 124,91.5 102.9,135.4 97.3,99.3 126.7,96.2 132,87.6 121.5,85.4 108.9,111 111.3,100.4 119.7,111.8 119.1,88.4 95.4,121.2 107.9,141.9 114.6,106 128.1,92 105.2,134.2 118.7,109.3 115.3,130.9 108.8,108.2 127.2,95.8 99.2,117.3 105.5,126.5 136.1,92.2 113.1,97.1 101,132 114.7,99.9 113.8,136.8 96.2,115.9 118.2,106.2 99.3,107.5 102.8,97.2 130.7,88.4 101.7,130.8 112.5,105.2 108.6,106 115,115.3 98.6,128.3 104.8,126.8" fill="none" stroke="none" marker-start="url(#m3)" marker-mid="url(#m3)" marker-end="url(#m3)"/>
<polyline points="119.8,106 115.4,116.6 110.2,128.9 113.6,124.1 120.9,99.6 113.9,137.9 118.2,97 117.3,104.7 141.2,101.4 127.8,94.3 131.2,89.1 132.5,98.9 120.9,114.2 125.6,99 109.9,122.4 107.5,125.4 116.8,110.5 139.1,97.2 109.3,129.7 116.8,123.9 111.1,113.2 122.6,99.1 147.3,102.6 124.9,100.4 116.3,121.1 114,107.8 106.9,123.3 111,132.6 114.2,122.9 113,108 145.4,94.5 118,122.2 119.7,104.6 119.9,104.8 113.9,140.1 140.9,96.9 131.7,100.2 117.7,109.3 110.5,110.4 143.7,96.4 130.4,97.8 106.2,120.6 147.8,101.7 111.7,119.4 119.8,124.7 109,123.8 127.9,97.4 139.9,94.2 131.7,96.1 120.9,110.1 107.5,135.3 138.8,101.4 145.9,104.4 119.3,112.9 127.2,105.4 116.1,141.2 128,108.2 110.2,119 134,96.1 118.9,108.7 112.1,112.6 140.5,105.1 121.9,98.4 112,110.8 111.8,110.1 133.3,101 128.8,103.4 110.7,114.9 114.2,123.4 116.1,106.9 121.4,104.2 135.6,90.7 108.5,114.3 123,121.7 114.7,126.1 147.2,106.1 110.5,132.1 125.3,99.2 113.4,134.4 112.7,121.8 130.3,102.3 116.5,117.3 137.4,96 138.1,92 134,93.3 130.8,91.9 142.6,92.1 126.9,99.9 121,107.2 118.3,114.5 122.7,110.1 132.7,93.8 110.4,118.3 122,115.3 110.6,109.8 113.3,117.6 117.6,101.9 117.6,139.4 134.3,96.6 129,94.3 144.4,103.4 116.6,141.1 116.2,138.9 121,98.9 137.7,101.5 126.4,100.3 116,114.9 121.1,95 121.4,139.6 111.1,131.2 118.4,100.6 128.2,94 133.1,91.6 125,101.9 107.4,133 131,100.2 117.5,132.7 115.6,138.7 104.8,128.9 119.6,116.7 121.4,96 123.3,103.9 128.4,91 116.1,137.3 115.3,108.5 114.2,112.9 123.1,142.8 141.5,96 119.4,132.6 142,99.8 112.1,126.2 120.4,116.2 116.1,105.8 120.5,104.2 132,101.7 109.9,118.7 115.4,134.2 113.2,101.6 117,119 116.5,109.2 130.9,102.8 114.3,125.2 117.8,125.5 117.2,98.9 125.1,106.2 127.3,108.5 108.4,110.5 148.3,109.6 114.2,102.4 135,102.1 113.1,127.9 116.7,135.7 116.6,126.8 126.3,103.2 127.5,103.1 136,100.7 112.7,138.3 108.8,118.5 118.7,98.1 134.3,104.1 132,102.8 116.6,100.6 129.3,140.8 111.2,105.3 130.9,117.6 112.8,121 136.1,97.9 107.7,117.6 117.2,128.3 117.7,141.9 127.8,100.2 111.5,108.2 111.7,132.1 121.9,112.3 119.3,137.9 128.9,99.9 127.4,101.5 120.6,135.8 117.3,137.6 119.5,118.5 138.2,102.4 134,94.2 114.7,111.2 135.2,104.2 111.8,109.4 118.2,102.4 135.4,97.1 139.2,102.4 129,121 117,109.2 126.5,119.8 123.1,106.3 130.6,92.9 113.6,128.9 114.1,102.1" fill="none" stroke="none" marker-start="url(#m2)" marker-mid="url(#m2)" marker-end="url(#m2)"/>
<polyline points="123.7,119.7 121.5,118.8 145,109 144,110.5 122.4,122.4 131.8,107.6 131,109.1 131.8,142.4 126.8,118.3 123.8,137 120.9,118.7 119.9,119 125.7,116.2 132.7,119.5 145,106.6 118.7,130 133,120 131.7,141.6 127.4,141.5 124.2,112.7 123.3,123.4 123.8,113.7 143.5,105.1 148.4,135.4 129.7,120.3 134,106.9 116.6,120.3 126,142.8 141.9,141.3 120.7,135.1 125.8,107 126.6,139.2 146.4,107.2 124.3,133.3 122.9,117.6 138.3,104.7 123.3,108.7 119.6,133.3 123.2,136.1 130.1,117.9 124.8,132.1 143.7,111.5 126.5,122.2 134.4,105 147.7,111.7 135.4,113 146.2,111.8 123.7,124.4 122,117.3 124.4,117.4 123.2,128.2 130.3,103.8 149.8,108.1 124.2,113 121.9,137.1 126,134 121.8,133.3 120.4,124.6 132.9,113.1 150.6,111.6 128.2,129.3 126.7,118.1 122.4,131.7 120.2,126.4 125.4,124.1 125,142.1 122.8,107.2 138.9,112.8 126.7,112.2 125.6,130.3 126.1,129.3 123.4,116.6 123.9,115 134.5,104.5 143.7,113.3 143.8,108.7 137.8,114.1 122.7,125.8 129.9,107 127.9,143.1 124.8,121.1 119.2,129.7 129.4,139.5 130.2,119.7 134.6,107.9 135.8,111.2 137.5,114.5 125.7,137 142,110.9 125.4,114.9 136.3,106 129,117.2 131.9,104.5 130.2,121.3 126.4,118 134.1,112.3 127.9,136.3 134.8,114.7 120.8,122.6 124.5,114.3 128.2,132 145,114.1 143.3,101.6 125.2,109.7 137.6,108.1 147.1,114.7 147.5,112.7 130.4,127.4 144,108 126.8,108.8 121.6,128.1 142,107.6 125.1,125 129.8,109.4 119.4,126.7 129.8,137.2 140.3,103.3 121.3,130.6 124.5,121.3 125.6,125.1 119.6,121.2 127.1,129.1 134.2,109.2 127,132 134.1,113.5 127,125.6 141.4,106.6 136.7,110.6 139.7,110.6 123.8,141.7 138.6,105.1 129.6,114.6 125,126.2 127.6,135.8 122.5,136.1 140,111.7 121.8,135.2 125.3,140.1 129.3,128 128.7,109.5 122.7,129.1 126.5,125.2 124.4,139.8 133.8,108.6 139.3,107.3 133.4,110.8 131,112.3 129.1,124.4 128.3,133.8 128.9,132.5 128.3,123.9 121.1,123.2 130.9,130.3 127.8,114.4 126.1,114.6 122.4,115.7 133.8,115.9 118.7,121.2 126,108.9 127,128.1 129.8,111.4 126.3,140.8 130.7,115.2 125.7,111.7" fill="none" stroke="none" marker-start="url(#m1)" marker-mid="url(#m1)" marker-end="url(#m1)"/>
<polyline points="152,128.8 138.2,139.6 140.9,113.9 130.7,135.4 131.8,129.9 141.7,139.8 134,139.4 131.8,132.5 137.2,141.5 149.7,115.1 134,120.2 136.7,120.8 152.5,127 141.4,129.7 135.9,127.7 132.5,135.3 150.6,130.6 139.3,130.9 138.1,129.4 138.5,134.9 132.7,134.6 143.7,117 148.2,128.1 138.9,121.2 138.4,141.8 136.2,126.3 145.5,139.6 132.6,138.7 150.6,118.3 131.3,127.1 135.2,125.6 143.3,126.4 139.3,120.1 146,116 143.9,113.7 139.8,127.2 150.9,119.5 134.4,136 149.4,127.5 150.8,129.1 134.3,120.6 151,125.7 139.8,132.2 134.3,122 149.9,120.1 133.8,137.2 148.2,137.8 131,122.3 134.2,128.8 147.4,120 143.8,138.9 137.6,129.5 135.6,135.9 141.7,114.1 146.2,137 139.4,126.1 139.1,119.3 152.9,122.8 137.1,117.6 141.9,115.2 141.5,134.1 136.7,119.1 141.3,133.2 152.2,120.1 136,122.8 147,134.3 148.7,115.6 149,123 139.4,138.2 150.4,125.2 151.6,122.1 131.3,131 141.7,116.5 151.7,128.2 145.8,124.9 143.8,136.4 138.1,123.5 152.5,121.4 140.8,119.8 148.9,119.8 147.7,136.5 145.7,116.8 148.2,121.2 151.6,128 134.5,138.7 133.7,128.9 139.1,115.5 139.1,115 131.6,127.8 135.4,116.6 133,124.4 134.6,119.6 147.5,118.7 134,125.5 150.4,127.5 139,123.4 145.3,128.7 140.6,115.1 140.3,118.3 136.7,138.3 137.2,126.6 133.2,127 141.7,137.4 140.4,136.4 143.3,123.5 141.1,125.3 143.8,120.8 134.2,132.3 139.7,132.9 147.5,125.4 145.8,130.6 140.4,125.4 140.1,120 134.7,138.5 136.8,117.5 150.2,132.3 145.3,121.4 144,131.8 141.1,117.7 148.1,131.4 137,136.2 135.7,131.3 152,121.4 144.1,119.3 147,122 140.5,122.2 138.2,137.5 135,133.6 143.6,134 147,116.3 140.6,131.8 148.2,118 135.2,138.3 136.7,132.9 137.9,136.3 143,132.9 137.7,133 141.3,139.2 146.7,133.8 149.1,130.7 142.3,125.7 143.4,117.5 137.9,136.5 140.8,138.1 132.8,131.3 136.5,124.2 149.9,133.1 144.5,126.9 148.7,125.7 150.8,123.6 144,132.8 143.6,132.1 145,125.2 140.8,127.2 142.3,118.3 133.2,126.6 131.4,121.5 144.7,132.3 145.2,133.6 144.8,135.6 149.5,130.1 142.2,130.7 134.9,138.1 142.2,129.6 136.8,116.5 146.2,127.2 146.6,126.9 132,125.9" fill="none" stroke="none" marker-start="url(#m0)" marker-mid="url(#m0)" marker-end="url(#m0)"/>
<path d="M37.2 35L41.2 157.7L101 205L218.1 175.9M37.3 36.7l-2.5 0M37.8 53.1l-2.5 0M38.3 69.6l-2.5 0M38.9 86l-2.5 0M39.4 102.4l-2.5 0M39.9 118.8l-2.5 0M40.5 135.3l-2.5 0M41 151.7l-2.5 0M41.2 157.7l-2.2 1M49.5 164.2l-2.2 1M58.3 171.2l-2.2 1M68.1 179l-2.2 1M78.2 186.9l-2.2 1M89 195.5l-2.2 1M101 205l-2.2 1M113.4 201.9l0.8 2.4M129.1 198l0.8 2.4M144.7 194.1l0.8 2.4M160.4 190.2l0.8 2.4M176.1 186.3l0.8 2.4M191.8 182.4l0.8 2.4M207.4 178.5l0.8 2.4M218.1 175.9l0.8 2.4" stroke="#2a2a2a" stroke-width="0.9" fill="none"/>
<text x="33.7" y="39.3" font-size="7.6" font-weight="bold" text-anchor="end" stroke="#111" stroke-width="0.25">180</text>
<text x="34.2" y="55.7" font-size="7.6" font-weight="bold" text-anchor="end" stroke="#111" stroke-width="0.25">160</text>
<text x="34.7" y="72.2" font-size="7.6" font-weight="bold" text-anchor="end" stroke="#111" stroke-width="0.25">140</text>
<text x="35.3" y="88.6" font-size="7.6" font-weight="bold" text-anchor="end" stroke="#111" stroke-width="0.25">120</text>
<text x="35.8" y="105" font-size="7.6" font-weight="bold" text-anchor="end" stroke="#111" stroke-width="0.25">100</text>
<text x="36.3" y="121.4" font-size="7.6" font-weight="bold" text-anchor="end" stroke="#111" stroke-width="0.25">80</text>
<text x="36.9" y="137.9" font-size="7.6" font-weight="bold" text-anchor="end" stroke="#111" stroke-width="0.25">60</text>
<text x="37.4" y="154.3" font-size="7.6" font-weight="bold" text-anchor="end" stroke="#111" stroke-width="0.25">40</text>
<text transform="translate(38.2 162.3) rotate(4) skewX(-20) scale(1 0.72)" font-size="6.2" font-weight="bold" text-anchor="end">1200</text>
<text transform="translate(46.5 168.8) rotate(4) skewX(-20) scale(1 0.72)" font-size="6.2" font-weight="bold" text-anchor="end">1000</text>
<text transform="translate(55.3 175.8) rotate(4) skewX(-20) scale(1 0.72)" font-size="6.2" font-weight="bold" text-anchor="end">800</text>
<text transform="translate(65.1 183.6) rotate(4) skewX(-20) scale(1 0.72)" font-size="6.2" font-weight="bold" text-anchor="end">600</text>
<text transform="translate(75.2 191.5) rotate(4) skewX(-20) scale(1 0.72)" font-size="6.2" font-weight="bold" text-anchor="end">400</text>
<text transform="translate(86 200.1) rotate(4) skewX(-20) scale(1 0.72)" font-size="6.2" font-weight="bold" text-anchor="end">200</text>
<text transform="translate(98 209.6) rotate(4) skewX(-20) scale(1 0.72)" font-size="6.2" font-weight="bold" text-anchor="end">0</text>
<text transform="translate(114.2 205.3) rotate(38)" font-size="4.3" font-weight="bold">150</text>
<text transform="translate(129.9 201.4) rotate(38)" font-size="4.3" font-weight="bold">100</text>
<text transform="translate(145.5 197.5) rotate(38)" font-size="4.3" font-weight="bold">50</text>
<text transform="translate(161.2 193.6) rotate(38)" font-size="4.3" font-weight="bold">0</text>
<text transform="translate(176.9 189.7) rotate(38)" font-size="4.3" font-weight="bold">-50</text>
<text transform="translate(192.6 185.8) rotate(38)" font-size="4.3" font-weight="bold">-100</text>
<text transform="translate(208.2 181.9) rotate(38)" font-size="4.3" font-weight="bold">-150</text>
<text transform="translate(218.9 179.3) rotate(38)" font-size="4.3" font-weight="bold">-200</text>
<text transform="translate(8.8 60.6) rotate(90)" font-size="14.5">Position-Z(m)</text>
<text transform="translate(17.6 173.2) rotate(40) skewX(-24) scale(0.81 1)" font-size="10.8" font-style="italic">Position-X(m)</text>
<text transform="translate(136.8 214.2) rotate(-14) skewX(-8) scale(1.4 1)" font-size="10.6" stroke="#111" stroke-width="0.15">Position-Y(m)</text>
<rect x="162.2" y="145.2" width="41" height="24.4" fill="#70ad47" stroke="#111" stroke-width="1.1"/>
<text x="182.7" y="163.3" font-size="17" font-weight="bold" text-anchor="middle">Semi</text>
</g>
<text x="216.2" y="469.6" font-size="11.35">(<tspan font-weight="bold">c</tspan>) Wind speed at 16 m/s</text>
</svg></body></html>
